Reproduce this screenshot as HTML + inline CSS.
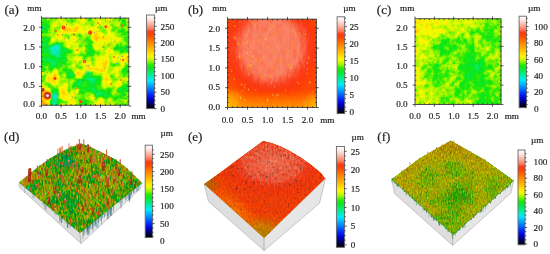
<!DOCTYPE html>
<html><head><meta charset="utf-8"><style>
html,body{margin:0;padding:0;background:#fff;}
body{width:550px;height:254px;overflow:hidden;}
svg{display:block;}
</style></head><body>
<svg width="550" height="254" viewBox="0 0 550 254">
<defs><radialGradient id="bdome" cx="271" cy="48" r="56" gradientUnits="userSpaceOnUse"><stop offset="0" stop-color="#dbdbdb"/><stop offset="0.5" stop-color="#dadada"/><stop offset="0.72" stop-color="#d3d3d3" stop-opacity="0.85"/><stop offset="1" stop-color="#cccccc" stop-opacity="0"/></radialGradient>
<linearGradient id="bbot" x1="0" y1="90" x2="0" y2="108" gradientUnits="userSpaceOnUse"><stop offset="0" stop-color="#b2b2b2" stop-opacity="0"/><stop offset="1" stop-color="#b0b0b0"/></linearGradient>
<radialGradient id="bcorn"><stop offset="0" stop-color="#9e9e9e" stop-opacity="0.95"/><stop offset="0.5" stop-color="#a6a6a6" stop-opacity="0.6"/><stop offset="1" stop-color="#adadad" stop-opacity="0"/></radialGradient>
<radialGradient id="eS"><stop offset="0.00" stop-color="#d9d9d9" stop-opacity="1.00"/><stop offset="0.50" stop-color="#d7d7d7" stop-opacity="0.85"/><stop offset="1.00" stop-color="#cccccc" stop-opacity="0.00"/></radialGradient>
<radialGradient id="eF"><stop offset="0.00" stop-color="#a1a1a1" stop-opacity="1.00"/><stop offset="0.45" stop-color="#ababab" stop-opacity="0.80"/><stop offset="1.00" stop-color="#bdbdbd" stop-opacity="0.00"/></radialGradient>
<radialGradient id="eL"><stop offset="0.00" stop-color="#b0b0b0" stop-opacity="1.00"/><stop offset="1.00" stop-color="#bdbdbd" stop-opacity="0.00"/></radialGradient>
<radialGradient id="eDark"><stop offset="0" stop-color="#302000" stop-opacity="0.35"/><stop offset="1" stop-color="#302000" stop-opacity="0"/></radialGradient>
<radialGradient id="eM"><stop offset="0.00" stop-color="#b8b8b8" stop-opacity="1.00"/><stop offset="0.60" stop-color="#bdbdbd" stop-opacity="0.60"/><stop offset="1.00" stop-color="#c7c7c7" stop-opacity="0.00"/></radialGradient>
<linearGradient id="cbg" x1="0" y1="0" x2="0" y2="1"><stop offset="0.000" stop-color="#ffffff"/><stop offset="0.025" stop-color="#fff2f1"/><stop offset="0.050" stop-color="#fee1dc"/><stop offset="0.075" stop-color="#fcc8bf"/><stop offset="0.100" stop-color="#fbaf9b"/><stop offset="0.125" stop-color="#fa9577"/><stop offset="0.150" stop-color="#fa785a"/><stop offset="0.175" stop-color="#fa3e1c"/><stop offset="0.200" stop-color="#fc3e09"/><stop offset="0.225" stop-color="#fe4d02"/><stop offset="0.250" stop-color="#ff6100"/><stop offset="0.275" stop-color="#ff7700"/><stop offset="0.300" stop-color="#ff8c00"/><stop offset="0.325" stop-color="#ff9f00"/><stop offset="0.350" stop-color="#ffb100"/><stop offset="0.375" stop-color="#ffc400"/><stop offset="0.400" stop-color="#ffd900"/><stop offset="0.425" stop-color="#ffee00"/><stop offset="0.450" stop-color="#eef900"/><stop offset="0.475" stop-color="#c2f800"/><stop offset="0.500" stop-color="#8cf500"/><stop offset="0.525" stop-color="#39ed08"/><stop offset="0.550" stop-color="#14e811"/><stop offset="0.575" stop-color="#08e82c"/><stop offset="0.600" stop-color="#05eb55"/><stop offset="0.625" stop-color="#02ee7e"/><stop offset="0.650" stop-color="#00efa8"/><stop offset="0.675" stop-color="#00edd3"/><stop offset="0.700" stop-color="#00ebff"/><stop offset="0.725" stop-color="#00ccff"/><stop offset="0.750" stop-color="#00acff"/><stop offset="0.775" stop-color="#008dff"/><stop offset="0.800" stop-color="#006cff"/><stop offset="0.825" stop-color="#004aff"/><stop offset="0.850" stop-color="#0028ff"/><stop offset="0.875" stop-color="#0014e8"/><stop offset="0.900" stop-color="#0000d2"/><stop offset="0.925" stop-color="#000098"/><stop offset="0.950" stop-color="#00005d"/><stop offset="0.975" stop-color="#00002c"/><stop offset="1.000" stop-color="#000000"/></linearGradient>
<filter id="blur05" x="-10%" y="-10%" width="120%" height="120%"><feGaussianBlur stdDeviation="0.5"/></filter>
<filter id="blur15" x="-30%" y="-30%" width="160%" height="160%"><feGaussianBlur stdDeviation="1.2"/></filter>
<clipPath id="ca"><rect x="41.40" y="18.00" width="87.40" height="87.30"/></clipPath>
<filter id="gba" filterUnits="userSpaceOnUse" x="27.40" y="4.00" width="115.40" height="115.30"><feGaussianBlur stdDeviation="2.20"/></filter>
<filter id="fa" filterUnits="userSpaceOnUse" x="29.40" y="6.00" width="111.40" height="111.30" color-interpolation-filters="sRGB">
<feTurbulence type="fractalNoise" baseFrequency="0.12" numOctaves="3" seed="11" result="n"/>
<feColorMatrix in="n" type="matrix" values="1 0 0 0 0 1 0 0 0 0 1 0 0 0 0 0 0 0 0 1" result="ng"/>
<feComposite in="SourceGraphic" in2="ng" operator="arithmetic" k2="1" k3="0.240" k4="-0.120" result="h"/>
<feComponentTransfer in="h"><feFuncR type="table" tableValues="0.000 0.000 0.000 0.000 0.000 0.000 0.000 0.000 0.000 0.000 0.000 0.000 0.000 0.000 0.000 0.000 0.000 0.000 0.000 0.000 0.000 0.000 0.000 0.002 0.010 0.018 0.026 0.034 0.057 0.119 0.238 0.445 0.616 0.751 0.867 0.971 1.000 1.000 1.000 1.000 1.000 1.000 1.000 1.000 1.000 1.000 1.000 1.000 1.000 0.997 0.991 0.985 0.980 0.980 0.980 0.980 0.982 0.985 0.988 0.993 0.998 1.000 1.000 1.000"/><feFuncG type="table" tableValues="0.000 0.000 0.000 0.000 0.000 0.000 0.000 0.035 0.085 0.134 0.203 0.288 0.372 0.457 0.540 0.618 0.696 0.774 0.852 0.922 0.927 0.932 0.938 0.939 0.931 0.923 0.915 0.908 0.905 0.915 0.930 0.950 0.964 0.970 0.975 0.979 0.943 0.891 0.839 0.787 0.740 0.694 0.647 0.600 0.554 0.501 0.448 0.394 0.341 0.295 0.258 0.221 0.245 0.391 0.503 0.576 0.643 0.705 0.767 0.829 0.892 0.938 0.969 1.000"/><feFuncB type="table" tableValues="0.000 0.109 0.218 0.344 0.489 0.635 0.780 0.863 0.919 0.975 1.000 1.000 1.000 1.000 1.000 1.000 1.000 1.000 1.000 0.989 0.880 0.771 0.662 0.556 0.455 0.354 0.252 0.151 0.073 0.052 0.031 0.010 0.000 0.000 0.000 0.000 0.000 0.000 0.000 0.000 0.000 0.000 0.000 0.000 0.000 0.000 0.000 0.000 0.000 0.009 0.028 0.046 0.112 0.267 0.386 0.458 0.542 0.636 0.728 0.802 0.875 0.928 0.964 1.000"/></feComponentTransfer>
</filter>
<clipPath id="cb"><rect x="227.50" y="19.10" width="88.90" height="88.40"/></clipPath>
<filter id="gbb" filterUnits="userSpaceOnUse" x="213.50" y="5.10" width="116.90" height="116.40"><feGaussianBlur stdDeviation="2.50"/></filter>
<filter id="fb" filterUnits="userSpaceOnUse" x="215.50" y="7.10" width="112.90" height="112.40" color-interpolation-filters="sRGB">
<feTurbulence type="fractalNoise" baseFrequency="0.3 0.12" numOctaves="2" seed="5" result="n"/>
<feColorMatrix in="n" type="matrix" values="1 0 0 0 0 1 0 0 0 0 1 0 0 0 0 0 0 0 0 1" result="ng"/>
<feComposite in="SourceGraphic" in2="ng" operator="arithmetic" k2="1" k3="0.025" k4="-0.013" result="h"/>
<feComponentTransfer in="h"><feFuncR type="table" tableValues="0.000 0.000 0.000 0.000 0.000 0.000 0.000 0.000 0.000 0.000 0.000 0.000 0.000 0.000 0.000 0.000 0.000 0.000 0.000 0.000 0.000 0.000 0.000 0.002 0.010 0.018 0.026 0.034 0.057 0.119 0.238 0.445 0.616 0.751 0.867 0.971 1.000 1.000 1.000 1.000 1.000 1.000 1.000 1.000 1.000 1.000 1.000 1.000 1.000 0.997 0.991 0.985 0.980 0.980 0.980 0.980 0.982 0.985 0.988 0.993 0.998 1.000 1.000 1.000"/><feFuncG type="table" tableValues="0.000 0.000 0.000 0.000 0.000 0.000 0.000 0.035 0.085 0.134 0.203 0.288 0.372 0.457 0.540 0.618 0.696 0.774 0.852 0.922 0.927 0.932 0.938 0.939 0.931 0.923 0.915 0.908 0.905 0.915 0.930 0.950 0.964 0.970 0.975 0.979 0.943 0.891 0.839 0.787 0.740 0.694 0.647 0.600 0.554 0.501 0.448 0.394 0.341 0.295 0.258 0.221 0.245 0.391 0.503 0.576 0.643 0.705 0.767 0.829 0.892 0.938 0.969 1.000"/><feFuncB type="table" tableValues="0.000 0.109 0.218 0.344 0.489 0.635 0.780 0.863 0.919 0.975 1.000 1.000 1.000 1.000 1.000 1.000 1.000 1.000 1.000 0.989 0.880 0.771 0.662 0.556 0.455 0.354 0.252 0.151 0.073 0.052 0.031 0.010 0.000 0.000 0.000 0.000 0.000 0.000 0.000 0.000 0.000 0.000 0.000 0.000 0.000 0.000 0.000 0.000 0.000 0.009 0.028 0.046 0.112 0.267 0.386 0.458 0.542 0.636 0.728 0.802 0.875 0.928 0.964 1.000"/></feComponentTransfer>
</filter>
<clipPath id="cc"><rect x="415.00" y="18.70" width="86.10" height="85.80"/></clipPath>
<filter id="gbc" filterUnits="userSpaceOnUse" x="401.00" y="4.70" width="114.10" height="113.80"><feGaussianBlur stdDeviation="2.20"/></filter>
<filter id="fc" filterUnits="userSpaceOnUse" x="403.00" y="6.70" width="110.10" height="109.80" color-interpolation-filters="sRGB">
<feTurbulence type="fractalNoise" baseFrequency="0.2" numOctaves="3" seed="9" result="n"/>
<feColorMatrix in="n" type="matrix" values="1 0 0 0 0 1 0 0 0 0 1 0 0 0 0 0 0 0 0 1" result="ng"/>
<feComposite in="SourceGraphic" in2="ng" operator="arithmetic" k2="1" k3="0.140" k4="-0.070" result="h"/>
<feComponentTransfer in="h"><feFuncR type="table" tableValues="0.000 0.000 0.000 0.000 0.000 0.000 0.000 0.000 0.000 0.000 0.000 0.000 0.000 0.000 0.000 0.000 0.000 0.000 0.000 0.000 0.000 0.000 0.000 0.002 0.010 0.018 0.026 0.034 0.057 0.119 0.238 0.445 0.616 0.751 0.867 0.971 1.000 1.000 1.000 1.000 1.000 1.000 1.000 1.000 1.000 1.000 1.000 1.000 1.000 0.997 0.991 0.985 0.980 0.980 0.980 0.980 0.982 0.985 0.988 0.993 0.998 1.000 1.000 1.000"/><feFuncG type="table" tableValues="0.000 0.000 0.000 0.000 0.000 0.000 0.000 0.035 0.085 0.134 0.203 0.288 0.372 0.457 0.540 0.618 0.696 0.774 0.852 0.922 0.927 0.932 0.938 0.939 0.931 0.923 0.915 0.908 0.905 0.915 0.930 0.950 0.964 0.970 0.975 0.979 0.943 0.891 0.839 0.787 0.740 0.694 0.647 0.600 0.554 0.501 0.448 0.394 0.341 0.295 0.258 0.221 0.245 0.391 0.503 0.576 0.643 0.705 0.767 0.829 0.892 0.938 0.969 1.000"/><feFuncB type="table" tableValues="0.000 0.109 0.218 0.344 0.489 0.635 0.780 0.863 0.919 0.975 1.000 1.000 1.000 1.000 1.000 1.000 1.000 1.000 1.000 0.989 0.880 0.771 0.662 0.556 0.455 0.354 0.252 0.151 0.073 0.052 0.031 0.010 0.000 0.000 0.000 0.000 0.000 0.000 0.000 0.000 0.000 0.000 0.000 0.000 0.000 0.000 0.000 0.000 0.000 0.009 0.028 0.046 0.112 0.267 0.386 0.458 0.542 0.636 0.728 0.802 0.875 0.928 0.964 1.000"/></feComponentTransfer>
</filter>
<clipPath id="c3d"><polygon points="19.0,182.5 30.0,173.5 40.0,165.5 50.0,158.4 60.0,152.6 70.0,147.6 81.5,143.4 92.0,147.8 104.0,153.5 115.0,159.2 125.0,166.5 134.0,175.0 142.0,183.0 80.0,233.0"/></clipPath>
<filter id="f3d" filterUnits="userSpaceOnUse" x="15.0" y="139.4" width="131.0" height="97.6" color-interpolation-filters="sRGB">
<feTurbulence type="fractalNoise" baseFrequency="0.6 0.25" numOctaves="2" seed="21" result="n"/>
<feColorMatrix in="n" type="matrix" values="1 0 0 0 0 1 0 0 0 0 1 0 0 0 0 0 0 0 0 1" result="ng"/>
<feComposite in="SourceGraphic" in2="ng" operator="arithmetic" k2="0.750" k3="0.350" k4="-0.055" result="h"/>
<feComponentTransfer in="h" result="c"><feFuncR type="table" tableValues="0.000 0.000 0.000 0.000 0.000 0.000 0.000 0.000 0.000 0.000 0.000 0.000 0.000 0.000 0.000 0.000 0.000 0.000 0.000 0.000 0.000 0.000 0.000 0.002 0.010 0.018 0.026 0.034 0.057 0.119 0.238 0.445 0.616 0.751 0.867 0.971 1.000 1.000 1.000 1.000 1.000 1.000 1.000 1.000 1.000 1.000 1.000 1.000 1.000 0.997 0.991 0.985 0.980 0.980 0.980 0.980 0.982 0.985 0.988 0.993 0.998 1.000 1.000 1.000"/><feFuncG type="table" tableValues="0.000 0.000 0.000 0.000 0.000 0.000 0.000 0.035 0.085 0.134 0.203 0.288 0.372 0.457 0.540 0.618 0.696 0.774 0.852 0.922 0.927 0.932 0.938 0.939 0.931 0.923 0.915 0.908 0.905 0.915 0.930 0.950 0.964 0.970 0.975 0.979 0.943 0.891 0.839 0.787 0.740 0.694 0.647 0.600 0.554 0.501 0.448 0.394 0.341 0.295 0.258 0.221 0.245 0.391 0.503 0.576 0.643 0.705 0.767 0.829 0.892 0.938 0.969 1.000"/><feFuncB type="table" tableValues="0.000 0.109 0.218 0.344 0.489 0.635 0.780 0.863 0.919 0.975 1.000 1.000 1.000 1.000 1.000 1.000 1.000 1.000 1.000 0.989 0.880 0.771 0.662 0.556 0.455 0.354 0.252 0.151 0.073 0.052 0.031 0.010 0.000 0.000 0.000 0.000 0.000 0.000 0.000 0.000 0.000 0.000 0.000 0.000 0.000 0.000 0.000 0.000 0.000 0.009 0.028 0.046 0.112 0.267 0.386 0.458 0.542 0.636 0.728 0.802 0.875 0.928 0.964 1.000"/></feComponentTransfer>
<feTurbulence type="fractalNoise" baseFrequency="0.6 0.2" numOctaves="2" seed="22" result="s"/>
<feColorMatrix in="s" type="matrix" values="1 0 0 0 0 1 0 0 0 0 1 0 0 0 0 0 0 0 0 1" result="sg0"/>
<feComponentTransfer in="sg0" result="sg"><feFuncR type="table" tableValues="0.38 0.46 0.55 0.63 0.7 0.78 0.86 0.94"/><feFuncG type="table" tableValues="0.38 0.46 0.55 0.63 0.7 0.78 0.86 0.94"/><feFuncB type="table" tableValues="0.38 0.46 0.55 0.63 0.7 0.78 0.86 0.94"/></feComponentTransfer>
<feComposite in="c" in2="sg" operator="arithmetic" k1="1" result="cs"/>
<feComposite in="cs" in2="SourceAlpha" operator="in"/>
</filter>
<clipPath id="c3e"><polygon points="204.1,184.0 263.2,140.8 272.0,143.0 280.5,146.3 291.0,151.5 301.0,157.5 311.0,164.5 321.4,172.9 325.5,178.5 264.1,237.9"/></clipPath>
<filter id="f3e" filterUnits="userSpaceOnUse" x="200.1" y="136.8" width="129.4" height="105.1" color-interpolation-filters="sRGB">
<feTurbulence type="fractalNoise" baseFrequency="0.5 0.3" numOctaves="2" seed="31" result="n"/>
<feColorMatrix in="n" type="matrix" values="1 0 0 0 0 1 0 0 0 0 1 0 0 0 0 0 0 0 0 1" result="ng"/>
<feComposite in="SourceGraphic" in2="ng" operator="arithmetic" k2="1.000" k3="0.050" k4="-0.025" result="h"/>
<feComponentTransfer in="h" result="c"><feFuncR type="table" tableValues="0.000 0.000 0.000 0.000 0.000 0.000 0.000 0.000 0.000 0.000 0.000 0.000 0.000 0.000 0.000 0.000 0.000 0.000 0.000 0.000 0.000 0.000 0.000 0.002 0.010 0.018 0.026 0.034 0.057 0.119 0.238 0.445 0.616 0.751 0.867 0.971 1.000 1.000 1.000 1.000 1.000 1.000 1.000 1.000 1.000 1.000 1.000 1.000 1.000 0.997 0.991 0.985 0.980 0.980 0.980 0.980 0.982 0.985 0.988 0.993 0.998 1.000 1.000 1.000"/><feFuncG type="table" tableValues="0.000 0.000 0.000 0.000 0.000 0.000 0.000 0.035 0.085 0.134 0.203 0.288 0.372 0.457 0.540 0.618 0.696 0.774 0.852 0.922 0.927 0.932 0.938 0.939 0.931 0.923 0.915 0.908 0.905 0.915 0.930 0.950 0.964 0.970 0.975 0.979 0.943 0.891 0.839 0.787 0.740 0.694 0.647 0.600 0.554 0.501 0.448 0.394 0.341 0.295 0.258 0.221 0.245 0.391 0.503 0.576 0.643 0.705 0.767 0.829 0.892 0.938 0.969 1.000"/><feFuncB type="table" tableValues="0.000 0.109 0.218 0.344 0.489 0.635 0.780 0.863 0.919 0.975 1.000 1.000 1.000 1.000 1.000 1.000 1.000 1.000 1.000 0.989 0.880 0.771 0.662 0.556 0.455 0.354 0.252 0.151 0.073 0.052 0.031 0.010 0.000 0.000 0.000 0.000 0.000 0.000 0.000 0.000 0.000 0.000 0.000 0.000 0.000 0.000 0.000 0.000 0.000 0.009 0.028 0.046 0.112 0.267 0.386 0.458 0.542 0.636 0.728 0.802 0.875 0.928 0.964 1.000"/></feComponentTransfer>
<feTurbulence type="fractalNoise" baseFrequency="0.7 0.35" numOctaves="2" seed="32" result="s"/>
<feColorMatrix in="s" type="matrix" values="1 0 0 0 0 1 0 0 0 0 1 0 0 0 0 0 0 0 0 1" result="sg0"/>
<feComponentTransfer in="sg0" result="sg"><feFuncR type="table" tableValues="0.5 0.7 0.84 0.92 0.97 1 1 1"/><feFuncG type="table" tableValues="0.5 0.7 0.84 0.92 0.97 1 1 1"/><feFuncB type="table" tableValues="0.5 0.7 0.84 0.92 0.97 1 1 1"/></feComponentTransfer>
<feComposite in="c" in2="sg" operator="arithmetic" k1="1" result="cs"/>
<feComposite in="cs" in2="SourceAlpha" operator="in"/>
</filter>
<clipPath id="c3f"><polygon points="391.8,179.1 420.0,158.0 450.9,140.5 485.0,160.0 513.6,180.5 453.0,234.5"/></clipPath>
<filter id="f3f" filterUnits="userSpaceOnUse" x="387.8" y="136.5" width="129.8" height="102.0" color-interpolation-filters="sRGB">
<feTurbulence type="fractalNoise" baseFrequency="0.8 0.35" numOctaves="2" seed="41" result="n"/>
<feColorMatrix in="n" type="matrix" values="1 0 0 0 0 1 0 0 0 0 1 0 0 0 0 0 0 0 0 1" result="ng"/>
<feComposite in="SourceGraphic" in2="ng" operator="arithmetic" k2="1.000" k3="0.160" k4="-0.035" result="h"/>
<feComponentTransfer in="h" result="c"><feFuncR type="table" tableValues="0.000 0.000 0.000 0.000 0.000 0.000 0.000 0.000 0.000 0.000 0.000 0.000 0.000 0.000 0.000 0.000 0.000 0.000 0.000 0.000 0.000 0.000 0.000 0.002 0.010 0.018 0.026 0.034 0.057 0.119 0.238 0.445 0.616 0.751 0.867 0.971 1.000 1.000 1.000 1.000 1.000 1.000 1.000 1.000 1.000 1.000 1.000 1.000 1.000 0.997 0.991 0.985 0.980 0.980 0.980 0.980 0.982 0.985 0.988 0.993 0.998 1.000 1.000 1.000"/><feFuncG type="table" tableValues="0.000 0.000 0.000 0.000 0.000 0.000 0.000 0.035 0.085 0.134 0.203 0.288 0.372 0.457 0.540 0.618 0.696 0.774 0.852 0.922 0.927 0.932 0.938 0.939 0.931 0.923 0.915 0.908 0.905 0.915 0.930 0.950 0.964 0.970 0.975 0.979 0.943 0.891 0.839 0.787 0.740 0.694 0.647 0.600 0.554 0.501 0.448 0.394 0.341 0.295 0.258 0.221 0.245 0.391 0.503 0.576 0.643 0.705 0.767 0.829 0.892 0.938 0.969 1.000"/><feFuncB type="table" tableValues="0.000 0.109 0.218 0.344 0.489 0.635 0.780 0.863 0.919 0.975 1.000 1.000 1.000 1.000 1.000 1.000 1.000 1.000 1.000 0.989 0.880 0.771 0.662 0.556 0.455 0.354 0.252 0.151 0.073 0.052 0.031 0.010 0.000 0.000 0.000 0.000 0.000 0.000 0.000 0.000 0.000 0.000 0.000 0.000 0.000 0.000 0.000 0.000 0.000 0.009 0.028 0.046 0.112 0.267 0.386 0.458 0.542 0.636 0.728 0.802 0.875 0.928 0.964 1.000"/></feComponentTransfer>
<feTurbulence type="fractalNoise" baseFrequency="0.8 0.35" numOctaves="2" seed="42" result="s"/>
<feColorMatrix in="s" type="matrix" values="1 0 0 0 0 1 0 0 0 0 1 0 0 0 0 0 0 0 0 1" result="sg0"/>
<feComponentTransfer in="sg0" result="sg"><feFuncR type="table" tableValues="0.45 0.52 0.6 0.66 0.72 0.78 0.84 0.9"/><feFuncG type="table" tableValues="0.45 0.52 0.6 0.66 0.72 0.78 0.84 0.9"/><feFuncB type="table" tableValues="0.45 0.52 0.6 0.66 0.72 0.78 0.84 0.9"/></feComponentTransfer>
<feComposite in="c" in2="sg" operator="arithmetic" k1="1" result="cs"/>
<feComposite in="cs" in2="SourceAlpha" operator="in"/>
</filter></defs>
<g clip-path="url(#ca)"><g filter="url(#fa)"><rect x="27.40" y="4.00" width="115.40" height="115.30" fill="#808080"/><g filter="url(#gba)"><rect x="32.66" y="9.27" width="9.04" height="9.03" fill="#737373"/><rect x="41.40" y="9.27" width="9.04" height="9.03" fill="#737373"/><rect x="50.14" y="9.27" width="9.04" height="9.03" fill="#808080"/><rect x="58.88" y="9.27" width="9.04" height="9.03" fill="#8c8c8c"/><rect x="67.62" y="9.27" width="9.04" height="9.03" fill="#8c8c8c"/><rect x="76.36" y="9.27" width="9.04" height="9.03" fill="#858585"/><rect x="85.10" y="9.27" width="9.04" height="9.03" fill="#787878"/><rect x="93.84" y="9.27" width="9.04" height="9.03" fill="#8c8c8c"/><rect x="102.58" y="9.27" width="9.04" height="9.03" fill="#8c8c8c"/><rect x="111.32" y="9.27" width="9.04" height="9.03" fill="#858585"/><rect x="120.06" y="9.27" width="9.04" height="9.03" fill="#737373"/><rect x="128.80" y="9.27" width="9.04" height="9.03" fill="#737373"/><rect x="32.66" y="18.00" width="9.04" height="9.03" fill="#737373"/><rect x="41.40" y="18.00" width="9.04" height="9.03" fill="#737373"/><rect x="50.14" y="18.00" width="9.04" height="9.03" fill="#808080"/><rect x="58.88" y="18.00" width="9.04" height="9.03" fill="#8c8c8c"/><rect x="67.62" y="18.00" width="9.04" height="9.03" fill="#8c8c8c"/><rect x="76.36" y="18.00" width="9.04" height="9.03" fill="#858585"/><rect x="85.10" y="18.00" width="9.04" height="9.03" fill="#787878"/><rect x="93.84" y="18.00" width="9.04" height="9.03" fill="#8c8c8c"/><rect x="102.58" y="18.00" width="9.04" height="9.03" fill="#8c8c8c"/><rect x="111.32" y="18.00" width="9.04" height="9.03" fill="#858585"/><rect x="120.06" y="18.00" width="9.04" height="9.03" fill="#737373"/><rect x="128.80" y="18.00" width="9.04" height="9.03" fill="#737373"/><rect x="32.66" y="26.73" width="9.04" height="9.03" fill="#737373"/><rect x="41.40" y="26.73" width="9.04" height="9.03" fill="#737373"/><rect x="50.14" y="26.73" width="9.04" height="9.03" fill="#8c8c8c"/><rect x="58.88" y="26.73" width="9.04" height="9.03" fill="#8f8f8f"/><rect x="67.62" y="26.73" width="9.04" height="9.03" fill="#8c8c8c"/><rect x="76.36" y="26.73" width="9.04" height="9.03" fill="#8f8f8f"/><rect x="85.10" y="26.73" width="9.04" height="9.03" fill="#8f8f8f"/><rect x="93.84" y="26.73" width="9.04" height="9.03" fill="#8c8c8c"/><rect x="102.58" y="26.73" width="9.04" height="9.03" fill="#8c8c8c"/><rect x="111.32" y="26.73" width="9.04" height="9.03" fill="#808080"/><rect x="120.06" y="26.73" width="9.04" height="9.03" fill="#737373"/><rect x="128.80" y="26.73" width="9.04" height="9.03" fill="#737373"/><rect x="32.66" y="35.46" width="9.04" height="9.03" fill="#737373"/><rect x="41.40" y="35.46" width="9.04" height="9.03" fill="#737373"/><rect x="50.14" y="35.46" width="9.04" height="9.03" fill="#808080"/><rect x="58.88" y="35.46" width="9.04" height="9.03" fill="#8f8f8f"/><rect x="67.62" y="35.46" width="9.04" height="9.03" fill="#8f8f8f"/><rect x="76.36" y="35.46" width="9.04" height="9.03" fill="#808080"/><rect x="85.10" y="35.46" width="9.04" height="9.03" fill="#737373"/><rect x="93.84" y="35.46" width="9.04" height="9.03" fill="#8f8f8f"/><rect x="102.58" y="35.46" width="9.04" height="9.03" fill="#8f8f8f"/><rect x="111.32" y="35.46" width="9.04" height="9.03" fill="#8c8c8c"/><rect x="120.06" y="35.46" width="9.04" height="9.03" fill="#808080"/><rect x="128.80" y="35.46" width="9.04" height="9.03" fill="#808080"/><rect x="32.66" y="44.19" width="9.04" height="9.03" fill="#707070"/><rect x="41.40" y="44.19" width="9.04" height="9.03" fill="#707070"/><rect x="50.14" y="44.19" width="9.04" height="9.03" fill="#575757"/><rect x="58.88" y="44.19" width="9.04" height="9.03" fill="#616161"/><rect x="67.62" y="44.19" width="9.04" height="9.03" fill="#8c8c8c"/><rect x="76.36" y="44.19" width="9.04" height="9.03" fill="#8c8c8c"/><rect x="85.10" y="44.19" width="9.04" height="9.03" fill="#707070"/><rect x="93.84" y="44.19" width="9.04" height="9.03" fill="#858585"/><rect x="102.58" y="44.19" width="9.04" height="9.03" fill="#919191"/><rect x="111.32" y="44.19" width="9.04" height="9.03" fill="#737373"/><rect x="120.06" y="44.19" width="9.04" height="9.03" fill="#737373"/><rect x="128.80" y="44.19" width="9.04" height="9.03" fill="#737373"/><rect x="32.66" y="52.92" width="9.04" height="9.03" fill="#737373"/><rect x="41.40" y="52.92" width="9.04" height="9.03" fill="#737373"/><rect x="50.14" y="52.92" width="9.04" height="9.03" fill="#5e5e5e"/><rect x="58.88" y="52.92" width="9.04" height="9.03" fill="#707070"/><rect x="67.62" y="52.92" width="9.04" height="9.03" fill="#8c8c8c"/><rect x="76.36" y="52.92" width="9.04" height="9.03" fill="#808080"/><rect x="85.10" y="52.92" width="9.04" height="9.03" fill="#7a7a7a"/><rect x="93.84" y="52.92" width="9.04" height="9.03" fill="#8c8c8c"/><rect x="102.58" y="52.92" width="9.04" height="9.03" fill="#8c8c8c"/><rect x="111.32" y="52.92" width="9.04" height="9.03" fill="#919191"/><rect x="120.06" y="52.92" width="9.04" height="9.03" fill="#949494"/><rect x="128.80" y="52.92" width="9.04" height="9.03" fill="#949494"/><rect x="32.66" y="61.65" width="9.04" height="9.03" fill="#737373"/><rect x="41.40" y="61.65" width="9.04" height="9.03" fill="#737373"/><rect x="50.14" y="61.65" width="9.04" height="9.03" fill="#737373"/><rect x="58.88" y="61.65" width="9.04" height="9.03" fill="#737373"/><rect x="67.62" y="61.65" width="9.04" height="9.03" fill="#8a8a8a"/><rect x="76.36" y="61.65" width="9.04" height="9.03" fill="#858585"/><rect x="85.10" y="61.65" width="9.04" height="9.03" fill="#8c8c8c"/><rect x="93.84" y="61.65" width="9.04" height="9.03" fill="#919191"/><rect x="102.58" y="61.65" width="9.04" height="9.03" fill="#8c8c8c"/><rect x="111.32" y="61.65" width="9.04" height="9.03" fill="#808080"/><rect x="120.06" y="61.65" width="9.04" height="9.03" fill="#808080"/><rect x="128.80" y="61.65" width="9.04" height="9.03" fill="#808080"/><rect x="32.66" y="70.38" width="9.04" height="9.03" fill="#8c8c8c"/><rect x="41.40" y="70.38" width="9.04" height="9.03" fill="#8c8c8c"/><rect x="50.14" y="70.38" width="9.04" height="9.03" fill="#8c8c8c"/><rect x="58.88" y="70.38" width="9.04" height="9.03" fill="#808080"/><rect x="67.62" y="70.38" width="9.04" height="9.03" fill="#737373"/><rect x="76.36" y="70.38" width="9.04" height="9.03" fill="#8c8c8c"/><rect x="85.10" y="70.38" width="9.04" height="9.03" fill="#737373"/><rect x="93.84" y="70.38" width="9.04" height="9.03" fill="#808080"/><rect x="102.58" y="70.38" width="9.04" height="9.03" fill="#8c8c8c"/><rect x="111.32" y="70.38" width="9.04" height="9.03" fill="#8c8c8c"/><rect x="120.06" y="70.38" width="9.04" height="9.03" fill="#757575"/><rect x="128.80" y="70.38" width="9.04" height="9.03" fill="#757575"/><rect x="32.66" y="79.11" width="9.04" height="9.03" fill="#858585"/><rect x="41.40" y="79.11" width="9.04" height="9.03" fill="#858585"/><rect x="50.14" y="79.11" width="9.04" height="9.03" fill="#8c8c8c"/><rect x="58.88" y="79.11" width="9.04" height="9.03" fill="#8c8c8c"/><rect x="67.62" y="79.11" width="9.04" height="9.03" fill="#737373"/><rect x="76.36" y="79.11" width="9.04" height="9.03" fill="#737373"/><rect x="85.10" y="79.11" width="9.04" height="9.03" fill="#696969"/><rect x="93.84" y="79.11" width="9.04" height="9.03" fill="#707070"/><rect x="102.58" y="79.11" width="9.04" height="9.03" fill="#8c8c8c"/><rect x="111.32" y="79.11" width="9.04" height="9.03" fill="#8c8c8c"/><rect x="120.06" y="79.11" width="9.04" height="9.03" fill="#808080"/><rect x="128.80" y="79.11" width="9.04" height="9.03" fill="#808080"/><rect x="32.66" y="87.84" width="9.04" height="9.03" fill="#a3a3a3"/><rect x="41.40" y="87.84" width="9.04" height="9.03" fill="#a3a3a3"/><rect x="50.14" y="87.84" width="9.04" height="9.03" fill="#666666"/><rect x="58.88" y="87.84" width="9.04" height="9.03" fill="#8c8c8c"/><rect x="67.62" y="87.84" width="9.04" height="9.03" fill="#919191"/><rect x="76.36" y="87.84" width="9.04" height="9.03" fill="#737373"/><rect x="85.10" y="87.84" width="9.04" height="9.03" fill="#737373"/><rect x="93.84" y="87.84" width="9.04" height="9.03" fill="#696969"/><rect x="102.58" y="87.84" width="9.04" height="9.03" fill="#737373"/><rect x="111.32" y="87.84" width="9.04" height="9.03" fill="#808080"/><rect x="120.06" y="87.84" width="9.04" height="9.03" fill="#737373"/><rect x="128.80" y="87.84" width="9.04" height="9.03" fill="#737373"/><rect x="32.66" y="96.57" width="9.04" height="9.03" fill="#a3a3a3"/><rect x="41.40" y="96.57" width="9.04" height="9.03" fill="#a3a3a3"/><rect x="50.14" y="96.57" width="9.04" height="9.03" fill="#616161"/><rect x="58.88" y="96.57" width="9.04" height="9.03" fill="#8c8c8c"/><rect x="67.62" y="96.57" width="9.04" height="9.03" fill="#8c8c8c"/><rect x="76.36" y="96.57" width="9.04" height="9.03" fill="#737373"/><rect x="85.10" y="96.57" width="9.04" height="9.03" fill="#8a8a8a"/><rect x="93.84" y="96.57" width="9.04" height="9.03" fill="#8c8c8c"/><rect x="102.58" y="96.57" width="9.04" height="9.03" fill="#858585"/><rect x="111.32" y="96.57" width="9.04" height="9.03" fill="#737373"/><rect x="120.06" y="96.57" width="9.04" height="9.03" fill="#808080"/><rect x="128.80" y="96.57" width="9.04" height="9.03" fill="#808080"/><rect x="32.66" y="105.30" width="9.04" height="9.03" fill="#a3a3a3"/><rect x="41.40" y="105.30" width="9.04" height="9.03" fill="#a3a3a3"/><rect x="50.14" y="105.30" width="9.04" height="9.03" fill="#616161"/><rect x="58.88" y="105.30" width="9.04" height="9.03" fill="#8c8c8c"/><rect x="67.62" y="105.30" width="9.04" height="9.03" fill="#8c8c8c"/><rect x="76.36" y="105.30" width="9.04" height="9.03" fill="#737373"/><rect x="85.10" y="105.30" width="9.04" height="9.03" fill="#8a8a8a"/><rect x="93.84" y="105.30" width="9.04" height="9.03" fill="#8c8c8c"/><rect x="102.58" y="105.30" width="9.04" height="9.03" fill="#858585"/><rect x="111.32" y="105.30" width="9.04" height="9.03" fill="#737373"/><rect x="120.06" y="105.30" width="9.04" height="9.03" fill="#808080"/><rect x="128.80" y="105.30" width="9.04" height="9.03" fill="#808080"/></g></g></g>
<g clip-path="url(#ca)" filter="url(#blur15)">
<ellipse cx="54.5" cy="96.5" rx="3.6" ry="3.0" fill="#10e0c8" opacity="1.00"/>
<ellipse cx="55.0" cy="50.0" rx="5.5" ry="5.5" fill="#10e8d8" opacity="0.55"/>
<ellipse cx="88.0" cy="73.0" rx="3.0" ry="2.5" fill="#10e0b0" opacity="0.50"/>
</g>
<g clip-path="url(#ca)" filter="url(#blur05)">
<circle cx="63.5" cy="27.5" r="1.9" fill="#ff3010"/>
<circle cx="63.5" cy="27.0" r="0.6" fill="#ff9070"/>
<circle cx="90.2" cy="32.7" r="2.1" fill="#ff3a10"/>
<circle cx="105.8" cy="26.7" r="1.4" fill="#ff4010"/>
<circle cx="55.7" cy="31.0" r="1.2" fill="#ff7000"/>
<circle cx="74.0" cy="34.5" r="1.1" fill="#ff6000"/>
<circle cx="77.4" cy="50.0" r="1.1" fill="#ff8000"/>
<circle cx="122.0" cy="25.8" r="1.2" fill="#ff6010"/>
<circle cx="98.0" cy="23.0" r="1.0" fill="#ff8010"/>
<circle cx="108.0" cy="45.0" r="1.0" fill="#ff9010"/>
<circle cx="123.0" cy="60.0" r="1.2" fill="#ff7010"/>
<circle cx="114.0" cy="57.0" r="1.0" fill="#ff8010"/>
<circle cx="111.0" cy="84.0" r="1.0" fill="#ff7010"/>
<circle cx="121.0" cy="80.0" r="1.1" fill="#ff7010"/>
<circle cx="47.5" cy="95.6" r="4.2" fill="#ff5a10"/>
<circle cx="47.5" cy="95.6" r="3.0" fill="#a82a22"/>
<circle cx="47.5" cy="95.6" r="1.7" fill="#e8c8cc"/>
<circle cx="43.0" cy="89.7" r="1.6" fill="#b03020"/>
<circle cx="55.0" cy="78.5" r="1.4" fill="#ff3010"/>
<circle cx="84.5" cy="61.4" r="1.7" fill="#ff3010"/>
<circle cx="84.5" cy="61.4" r="0.6" fill="#f0b0b0"/>
<circle cx="81.0" cy="101.7" r="1.6" fill="#ff4010"/>
<circle cx="76.0" cy="88.5" r="1.0" fill="#ff8010"/>
</g>
<g clip-path="url(#ca)"><circle cx="62.5" cy="65.3" r="0.55" fill="#1040c0" opacity="0.7"/><circle cx="120.8" cy="59.3" r="0.55" fill="#2060ff" opacity="0.7"/><circle cx="94.1" cy="96.2" r="0.55" fill="#606060" opacity="0.7"/><circle cx="64.3" cy="38.9" r="0.55" fill="#606060" opacity="0.7"/><circle cx="88.5" cy="65.7" r="0.55" fill="#606060" opacity="0.7"/><circle cx="97.0" cy="31.8" r="0.55" fill="#3080e0" opacity="0.7"/><circle cx="116.7" cy="63.5" r="0.55" fill="#2060ff" opacity="0.7"/><circle cx="99.7" cy="24.4" r="0.55" fill="#2060ff" opacity="0.7"/><circle cx="67.9" cy="21.6" r="0.55" fill="#1040c0" opacity="0.7"/><circle cx="82.7" cy="80.1" r="0.55" fill="#606060" opacity="0.7"/><circle cx="103.4" cy="97.3" r="0.55" fill="#606060" opacity="0.7"/><circle cx="104.6" cy="68.0" r="0.55" fill="#3080e0" opacity="0.7"/><circle cx="117.6" cy="27.3" r="0.55" fill="#3080e0" opacity="0.7"/><circle cx="84.6" cy="40.9" r="0.55" fill="#606060" opacity="0.7"/><circle cx="109.0" cy="91.7" r="0.55" fill="#606060" opacity="0.7"/><circle cx="85.6" cy="51.8" r="0.55" fill="#1040c0" opacity="0.7"/><circle cx="87.9" cy="53.6" r="0.55" fill="#3080e0" opacity="0.7"/><circle cx="119.8" cy="77.0" r="0.55" fill="#2060ff" opacity="0.7"/><circle cx="115.7" cy="103.2" r="0.55" fill="#3080e0" opacity="0.7"/><circle cx="102.1" cy="46.7" r="0.55" fill="#2060ff" opacity="0.7"/><circle cx="103.4" cy="36.9" r="0.55" fill="#1040c0" opacity="0.7"/><circle cx="66.5" cy="24.4" r="0.55" fill="#606060" opacity="0.7"/><circle cx="49.6" cy="87.1" r="0.55" fill="#606060" opacity="0.7"/><circle cx="119.2" cy="20.7" r="0.55" fill="#606060" opacity="0.7"/><circle cx="108.1" cy="93.2" r="0.55" fill="#2060ff" opacity="0.7"/><circle cx="94.0" cy="83.7" r="0.55" fill="#606060" opacity="0.7"/><circle cx="103.8" cy="47.1" r="0.55" fill="#1040c0" opacity="0.7"/><circle cx="85.5" cy="103.9" r="0.55" fill="#1040c0" opacity="0.7"/><circle cx="42.6" cy="28.2" r="0.55" fill="#2060ff" opacity="0.7"/><circle cx="123.6" cy="101.6" r="0.55" fill="#1040c0" opacity="0.7"/><circle cx="94.5" cy="32.3" r="0.55" fill="#2060ff" opacity="0.7"/><circle cx="126.3" cy="47.9" r="0.55" fill="#1040c0" opacity="0.7"/><circle cx="124.4" cy="95.2" r="0.55" fill="#606060" opacity="0.7"/><circle cx="74.4" cy="92.9" r="0.55" fill="#606060" opacity="0.7"/><circle cx="97.4" cy="69.6" r="0.55" fill="#2060ff" opacity="0.7"/><circle cx="95.3" cy="99.0" r="0.55" fill="#1040c0" opacity="0.7"/><circle cx="79.1" cy="80.2" r="0.55" fill="#3080e0" opacity="0.7"/><circle cx="122.5" cy="56.2" r="0.55" fill="#1040c0" opacity="0.7"/><circle cx="86.8" cy="65.6" r="0.55" fill="#2060ff" opacity="0.7"/><circle cx="109.8" cy="102.9" r="0.55" fill="#1040c0" opacity="0.7"/><circle cx="43.7" cy="71.3" r="0.55" fill="#3080e0" opacity="0.7"/><circle cx="47.2" cy="72.3" r="0.55" fill="#606060" opacity="0.7"/><circle cx="72.4" cy="97.0" r="0.55" fill="#1040c0" opacity="0.7"/><circle cx="105.5" cy="20.9" r="0.55" fill="#2060ff" opacity="0.7"/><circle cx="124.1" cy="20.8" r="0.55" fill="#1040c0" opacity="0.7"/><circle cx="63.6" cy="57.8" r="0.55" fill="#1040c0" opacity="0.7"/><circle cx="57.3" cy="34.7" r="0.55" fill="#1040c0" opacity="0.7"/><circle cx="114.6" cy="41.5" r="0.55" fill="#606060" opacity="0.7"/><circle cx="51.0" cy="88.1" r="0.55" fill="#3080e0" opacity="0.7"/><circle cx="68.7" cy="37.9" r="0.55" fill="#1040c0" opacity="0.7"/><circle cx="62.5" cy="34.9" r="0.55" fill="#606060" opacity="0.7"/><circle cx="97.9" cy="27.2" r="0.55" fill="#1040c0" opacity="0.7"/><circle cx="123.6" cy="76.4" r="0.55" fill="#3080e0" opacity="0.7"/><circle cx="79.7" cy="91.7" r="0.55" fill="#3080e0" opacity="0.7"/><circle cx="48.9" cy="82.1" r="0.55" fill="#3080e0" opacity="0.7"/><circle cx="118.1" cy="57.3" r="0.55" fill="#3080e0" opacity="0.7"/><circle cx="109.7" cy="21.9" r="0.55" fill="#3080e0" opacity="0.7"/><circle cx="69.1" cy="90.1" r="0.55" fill="#3080e0" opacity="0.7"/><circle cx="116.3" cy="47.9" r="0.55" fill="#2060ff" opacity="0.7"/><circle cx="111.3" cy="48.3" r="0.55" fill="#3080e0" opacity="0.7"/></g>
<rect x="41.40" y="18.00" width="87.40" height="87.30" fill="none" stroke="#444" stroke-width="0.9"/>
<path d="M41.40 105.30v2.2M41.40 18.00v-2.2M61.10 105.30v2.2M61.10 18.00v-2.2M80.80 105.30v2.2M80.80 18.00v-2.2M100.50 105.30v2.2M100.50 18.00v-2.2M120.20 105.30v2.2M120.20 18.00v-2.2M41.40 106.10h-2.4M128.80 106.10h2.4M41.40 86.40h-2.4M128.80 86.40h2.4M41.40 66.70h-2.4M128.80 66.70h2.4M41.40 47.00h-2.4M128.80 47.00h2.4M41.40 27.30h-2.4M128.80 27.30h2.4" stroke="#333" stroke-width="0.8" fill="none"/>
<path d="M46.32 18.00v1.2M46.32 105.30v-1.2M51.25 18.00v1.2M51.25 105.30v-1.2M56.17 18.00v1.2M56.17 105.30v-1.2M61.10 18.00v1.2M61.10 105.30v-1.2M66.02 18.00v1.2M66.02 105.30v-1.2M70.95 18.00v1.2M70.95 105.30v-1.2M75.87 18.00v1.2M75.87 105.30v-1.2M80.80 18.00v1.2M80.80 105.30v-1.2M85.72 18.00v1.2M85.72 105.30v-1.2M90.65 18.00v1.2M90.65 105.30v-1.2M95.57 18.00v1.2M95.57 105.30v-1.2M100.50 18.00v1.2M100.50 105.30v-1.2M105.42 18.00v1.2M105.42 105.30v-1.2M110.35 18.00v1.2M110.35 105.30v-1.2M115.27 18.00v1.2M115.27 105.30v-1.2M120.20 18.00v1.2M120.20 105.30v-1.2M125.12 18.00v1.2M125.12 105.30v-1.2M41.40 101.17h1.2M128.80 101.17h-1.2M41.40 96.25h1.2M128.80 96.25h-1.2M41.40 91.33h1.2M128.80 91.33h-1.2M41.40 86.40h1.2M128.80 86.40h-1.2M41.40 81.48h1.2M128.80 81.48h-1.2M41.40 76.55h1.2M128.80 76.55h-1.2M41.40 71.63h1.2M128.80 71.63h-1.2M41.40 66.70h1.2M128.80 66.70h-1.2M41.40 61.78h1.2M128.80 61.78h-1.2M41.40 56.85h1.2M128.80 56.85h-1.2M41.40 51.93h1.2M128.80 51.93h-1.2M41.40 47.00h1.2M128.80 47.00h-1.2M41.40 42.08h1.2M128.80 42.08h-1.2M41.40 37.15h1.2M128.80 37.15h-1.2M41.40 32.23h1.2M128.80 32.23h-1.2M41.40 27.30h1.2M128.80 27.30h-1.2M41.40 22.38h1.2M128.80 22.38h-1.2" stroke="#222" stroke-width="0.8" fill="none"/>
<g font-family="Liberation Serif, serif" stroke="#222" stroke-width="0.18" font-size="9.20" fill="#222">
<text x="41.40" y="119.00" text-anchor="middle">0.0</text>
<text x="61.10" y="119.00" text-anchor="middle">0.5</text>
<text x="80.80" y="119.00" text-anchor="middle">1.0</text>
<text x="100.50" y="119.00" text-anchor="middle">1.5</text>
<text x="120.20" y="119.00" text-anchor="middle">2.0</text>
<text x="131.40" y="119.00">mm</text>
<text x="34.80" y="106.60" text-anchor="end">0.0</text>
<text x="34.80" y="87.67" text-anchor="end">0.5</text>
<text x="34.80" y="68.75" text-anchor="end">1.0</text>
<text x="34.80" y="49.83" text-anchor="end">1.5</text>
<text x="34.80" y="30.90" text-anchor="end">2.0</text>
<text x="27.30" y="10.70">mm</text>
</g>
<text x="4.40" y="14.00" font-family="Liberation Serif, serif" stroke="#222" stroke-width="0.18" font-size="13" fill="#222">(a)</text>
<rect x="146.50" y="15.00" width="7.90" height="93.60" fill="url(#cbg)" stroke="#666" stroke-width="0.9"/>
<path d="M154.40 26.30h2.2M154.40 42.78h2.2M154.40 59.26h2.2M154.40 75.74h2.2M154.40 92.22h2.2M154.40 108.70h2.2M154.40 22.18h1.3M154.40 18.06h1.3M154.40 30.42h1.3M154.40 34.54h1.3M154.40 38.66h1.3M154.40 46.90h1.3M154.40 51.02h1.3M154.40 55.14h1.3M154.40 63.38h1.3M154.40 67.50h1.3M154.40 71.62h1.3M154.40 79.86h1.3M154.40 83.98h1.3M154.40 88.10h1.3M154.40 96.34h1.3M154.40 100.46h1.3M154.40 104.58h1.3" stroke="#333" stroke-width="0.8"/>
<g font-family="Liberation Serif, serif" stroke="#222" stroke-width="0.18" font-size="9.2" fill="#222">
<text x="160.60" y="29.50">250</text>
<text x="160.60" y="45.98">200</text>
<text x="160.60" y="62.46">150</text>
<text x="160.60" y="78.94">100</text>
<text x="160.60" y="95.42">50</text>
<text x="160.60" y="111.90">0</text>
<text x="155.00" y="10.60">µm</text>
</g>
<g clip-path="url(#cb)"><g filter="url(#fb)"><rect x="213.50" y="5.10" width="116.90" height="116.40" fill="#c8c8c8"/><rect x="200" y="0" width="140" height="130" fill="url(#bdome)"/><rect x="200" y="60" width="140" height="70" fill="url(#bbot)"/><ellipse cx="227" cy="106" rx="20" ry="22" fill="url(#bcorn)"/><ellipse cx="317" cy="108" rx="18" ry="18" fill="url(#bcorn)"/></g></g>
<g clip-path="url(#cb)"><ellipse cx="257.0" cy="33.8" rx="0.65" ry="0.8" fill="#ff9a20" opacity="0.85"/><ellipse cx="275.0" cy="52.0" rx="0.65" ry="1.3" fill="#ff9a20" opacity="0.85"/><ellipse cx="247.7" cy="28.4" rx="0.65" ry="0.7" fill="#f08a30" opacity="0.85"/><ellipse cx="237.2" cy="56.9" rx="0.65" ry="0.8" fill="#ff8a10" opacity="0.85"/><ellipse cx="248.5" cy="74.1" rx="0.65" ry="1.1" fill="#ff9a20" opacity="0.85"/><ellipse cx="263.2" cy="103.5" rx="0.65" ry="1.1" fill="#ff9a20" opacity="0.85"/><ellipse cx="240.8" cy="56.5" rx="0.65" ry="0.8" fill="#ff8a10" opacity="0.85"/><ellipse cx="255.7" cy="90.0" rx="0.65" ry="0.8" fill="#ffa030" opacity="0.85"/><ellipse cx="278.0" cy="37.0" rx="0.65" ry="1.1" fill="#ff9a20" opacity="0.85"/><ellipse cx="234.8" cy="26.1" rx="0.65" ry="1.0" fill="#ffa030" opacity="0.85"/><ellipse cx="274.6" cy="86.7" rx="0.65" ry="1.1" fill="#f08a30" opacity="0.85"/><ellipse cx="268.0" cy="46.4" rx="0.65" ry="1.2" fill="#ffa030" opacity="0.85"/><ellipse cx="250.2" cy="69.6" rx="0.65" ry="1.0" fill="#ff8a10" opacity="0.85"/><ellipse cx="258.7" cy="59.0" rx="0.65" ry="1.4" fill="#ff8a10" opacity="0.85"/><ellipse cx="239.5" cy="56.4" rx="0.65" ry="0.8" fill="#ffc040" opacity="0.85"/><ellipse cx="271.0" cy="24.4" rx="0.65" ry="1.2" fill="#ff9a20" opacity="0.85"/><ellipse cx="278.1" cy="95.0" rx="0.65" ry="0.9" fill="#ffc040" opacity="0.85"/><ellipse cx="259.2" cy="63.0" rx="0.65" ry="0.7" fill="#f08a30" opacity="0.85"/><ellipse cx="237.4" cy="43.9" rx="0.65" ry="0.7" fill="#ff9a20" opacity="0.85"/><ellipse cx="289.1" cy="75.7" rx="0.65" ry="0.9" fill="#f08a30" opacity="0.85"/><ellipse cx="262.3" cy="77.5" rx="0.65" ry="1.4" fill="#ff9a20" opacity="0.85"/><ellipse cx="259.7" cy="72.7" rx="0.65" ry="0.7" fill="#f08a30" opacity="0.85"/><ellipse cx="294.7" cy="32.0" rx="0.65" ry="1.0" fill="#ffa030" opacity="0.85"/><ellipse cx="307.3" cy="63.0" rx="0.65" ry="1.0" fill="#ffa030" opacity="0.85"/><ellipse cx="276.1" cy="95.7" rx="0.65" ry="1.3" fill="#f08a30" opacity="0.85"/><ellipse cx="253.1" cy="56.2" rx="0.65" ry="1.2" fill="#ffc040" opacity="0.85"/><ellipse cx="261.8" cy="40.6" rx="0.65" ry="0.8" fill="#ff9a20" opacity="0.85"/><ellipse cx="249.2" cy="40.8" rx="0.65" ry="1.3" fill="#f08a30" opacity="0.85"/><ellipse cx="245.0" cy="44.9" rx="0.65" ry="1.0" fill="#ffa030" opacity="0.85"/><ellipse cx="260.8" cy="68.9" rx="0.65" ry="1.2" fill="#ffa030" opacity="0.85"/><ellipse cx="273.3" cy="73.2" rx="0.65" ry="1.0" fill="#ff9a20" opacity="0.85"/><ellipse cx="303.4" cy="101.4" rx="0.65" ry="1.0" fill="#ff8a10" opacity="0.85"/><ellipse cx="263.4" cy="29.8" rx="0.65" ry="0.7" fill="#f08a30" opacity="0.85"/><ellipse cx="235.2" cy="38.7" rx="0.65" ry="0.8" fill="#ffa030" opacity="0.85"/><ellipse cx="280.5" cy="29.7" rx="0.65" ry="0.8" fill="#ff8a10" opacity="0.85"/><ellipse cx="238.1" cy="51.8" rx="0.65" ry="0.7" fill="#ff9a20" opacity="0.85"/><ellipse cx="247.2" cy="52.9" rx="0.65" ry="1.4" fill="#ffc040" opacity="0.85"/><ellipse cx="280.6" cy="61.1" rx="0.65" ry="1.3" fill="#ff9a20" opacity="0.85"/><ellipse cx="313.8" cy="60.4" rx="0.65" ry="0.9" fill="#f08a30" opacity="0.85"/><ellipse cx="241.7" cy="84.4" rx="0.65" ry="1.0" fill="#ffc040" opacity="0.85"/><ellipse cx="288.3" cy="64.7" rx="0.65" ry="1.4" fill="#ffa030" opacity="0.85"/><ellipse cx="274.3" cy="33.5" rx="0.65" ry="1.3" fill="#ff8a10" opacity="0.85"/><ellipse cx="293.9" cy="46.3" rx="0.65" ry="1.2" fill="#ff9a20" opacity="0.85"/><ellipse cx="251.7" cy="52.0" rx="0.65" ry="0.9" fill="#ffa030" opacity="0.85"/><ellipse cx="248.4" cy="66.8" rx="0.65" ry="0.9" fill="#ff8a10" opacity="0.85"/><ellipse cx="248.4" cy="89.6" rx="0.65" ry="1.3" fill="#ffa030" opacity="0.85"/><ellipse cx="299.0" cy="83.5" rx="0.65" ry="0.8" fill="#ffa030" opacity="0.85"/><ellipse cx="271.3" cy="82.8" rx="0.65" ry="1.3" fill="#ff9a20" opacity="0.85"/><ellipse cx="269.6" cy="37.4" rx="0.65" ry="1.4" fill="#ff8a10" opacity="0.85"/><ellipse cx="267.5" cy="100.2" rx="0.65" ry="1.4" fill="#ffc040" opacity="0.85"/><ellipse cx="260.5" cy="39.7" rx="0.65" ry="1.0" fill="#ffa030" opacity="0.85"/><ellipse cx="258.2" cy="61.8" rx="0.65" ry="1.3" fill="#ff8a10" opacity="0.85"/><ellipse cx="270.2" cy="76.2" rx="0.65" ry="1.3" fill="#ff9a20" opacity="0.85"/><ellipse cx="239.7" cy="53.9" rx="0.65" ry="1.0" fill="#ffa030" opacity="0.85"/><ellipse cx="244.7" cy="87.7" rx="0.65" ry="0.8" fill="#ffc040" opacity="0.85"/><ellipse cx="309.8" cy="82.0" rx="0.65" ry="1.0" fill="#f08a30" opacity="0.85"/><ellipse cx="309.9" cy="82.3" rx="0.65" ry="1.4" fill="#ffa030" opacity="0.85"/><ellipse cx="231.8" cy="71.0" rx="0.65" ry="1.3" fill="#f08a30" opacity="0.85"/><ellipse cx="241.9" cy="90.9" rx="0.65" ry="1.2" fill="#f08a30" opacity="0.85"/><ellipse cx="259.2" cy="67.4" rx="0.65" ry="0.7" fill="#ffa030" opacity="0.85"/><ellipse cx="297.4" cy="82.4" rx="0.65" ry="1.1" fill="#ff9a20" opacity="0.85"/><ellipse cx="308.8" cy="57.7" rx="0.65" ry="1.3" fill="#ffa030" opacity="0.85"/><ellipse cx="247.4" cy="42.4" rx="0.65" ry="1.1" fill="#ffc040" opacity="0.85"/><ellipse cx="294.3" cy="48.6" rx="0.65" ry="1.0" fill="#ff8a10" opacity="0.85"/><ellipse cx="240.6" cy="97.9" rx="0.65" ry="1.3" fill="#ffc040" opacity="0.85"/><ellipse cx="285.7" cy="89.9" rx="0.65" ry="1.0" fill="#ff8a10" opacity="0.85"/><ellipse cx="307.4" cy="63.4" rx="0.65" ry="0.8" fill="#ff8a10" opacity="0.85"/><ellipse cx="272.8" cy="94.8" rx="0.65" ry="1.1" fill="#ffa030" opacity="0.85"/><ellipse cx="295.4" cy="33.7" rx="0.65" ry="1.0" fill="#ffa030" opacity="0.85"/><ellipse cx="291.1" cy="68.1" rx="0.65" ry="1.2" fill="#ffc040" opacity="0.85"/><ellipse cx="274.6" cy="61.8" rx="0.65" ry="1.3" fill="#ff9a20" opacity="0.85"/><ellipse cx="234.3" cy="37.2" rx="0.65" ry="1.2" fill="#ff9a20" opacity="0.85"/><ellipse cx="272.6" cy="68.5" rx="0.65" ry="1.0" fill="#ff9a20" opacity="0.85"/><ellipse cx="281.5" cy="63.8" rx="0.65" ry="0.8" fill="#ff8a10" opacity="0.85"/><ellipse cx="253.0" cy="64.0" rx="0.65" ry="1.1" fill="#f08a30" opacity="0.85"/><ellipse cx="250.5" cy="65.3" rx="0.65" ry="1.3" fill="#ffc040" opacity="0.85"/><ellipse cx="305.3" cy="38.2" rx="0.65" ry="0.8" fill="#f08a30" opacity="0.85"/><ellipse cx="239.8" cy="58.4" rx="0.65" ry="1.2" fill="#ff9a20" opacity="0.85"/><ellipse cx="265.9" cy="39.1" rx="0.65" ry="1.2" fill="#ffc040" opacity="0.85"/><ellipse cx="305.7" cy="34.1" rx="0.65" ry="0.8" fill="#ffc040" opacity="0.85"/><ellipse cx="304.5" cy="102.8" rx="0.65" ry="1.2" fill="#ffa030" opacity="0.85"/><ellipse cx="237.5" cy="95.8" rx="0.65" ry="1.4" fill="#ffa030" opacity="0.85"/><ellipse cx="300.2" cy="34.7" rx="0.65" ry="1.4" fill="#f08a30" opacity="0.85"/><ellipse cx="263.8" cy="56.7" rx="0.65" ry="0.9" fill="#ffc040" opacity="0.85"/><ellipse cx="290.8" cy="22.7" rx="0.65" ry="1.0" fill="#ff8a10" opacity="0.85"/><ellipse cx="289.2" cy="53.5" rx="0.65" ry="1.1" fill="#ff8a10" opacity="0.85"/><ellipse cx="273.0" cy="26.5" rx="0.65" ry="1.4" fill="#ffa030" opacity="0.85"/><ellipse cx="238.4" cy="43.5" rx="0.65" ry="1.3" fill="#ff9a20" opacity="0.85"/><ellipse cx="244.9" cy="84.9" rx="0.65" ry="1.3" fill="#f08a30" opacity="0.85"/><ellipse cx="286.9" cy="100.9" rx="0.65" ry="0.8" fill="#f08a30" opacity="0.85"/><ellipse cx="307.5" cy="69.3" rx="0.65" ry="0.8" fill="#ffc040" opacity="0.85"/><ellipse cx="234.4" cy="79.2" rx="0.65" ry="1.3" fill="#f08a30" opacity="0.85"/><ellipse cx="252.3" cy="22.5" rx="0.65" ry="1.3" fill="#ff9a20" opacity="0.85"/><ellipse cx="236.6" cy="93.4" rx="0.65" ry="0.9" fill="#ff9a20" opacity="0.85"/><ellipse cx="239.8" cy="22.1" rx="0.65" ry="1.0" fill="#ff8a10" opacity="0.85"/><ellipse cx="307.2" cy="73.6" rx="0.65" ry="1.1" fill="#ff9a20" opacity="0.85"/><ellipse cx="249.7" cy="30.3" rx="0.65" ry="0.9" fill="#ffa030" opacity="0.85"/><ellipse cx="244.9" cy="99.8" rx="0.65" ry="1.1" fill="#ffc040" opacity="0.85"/><ellipse cx="247.0" cy="58.7" rx="0.65" ry="0.9" fill="#ffa030" opacity="0.85"/><ellipse cx="297.7" cy="105.0" rx="0.65" ry="0.7" fill="#ff9a20" opacity="0.85"/><ellipse cx="291.7" cy="67.6" rx="0.65" ry="1.1" fill="#ffa030" opacity="0.85"/><ellipse cx="250.4" cy="58.8" rx="0.65" ry="1.2" fill="#f08a30" opacity="0.85"/><ellipse cx="275.8" cy="96.1" rx="0.65" ry="0.9" fill="#ff8a10" opacity="0.85"/><ellipse cx="247.8" cy="40.5" rx="0.65" ry="1.3" fill="#ffa030" opacity="0.85"/><ellipse cx="289.5" cy="74.8" rx="0.65" ry="1.4" fill="#f08a30" opacity="0.85"/><ellipse cx="312.9" cy="91.7" rx="0.65" ry="0.7" fill="#ff9a20" opacity="0.85"/><ellipse cx="292.4" cy="42.7" rx="0.65" ry="0.7" fill="#ffa030" opacity="0.85"/><ellipse cx="286.0" cy="53.2" rx="0.65" ry="1.2" fill="#ff8a10" opacity="0.85"/><ellipse cx="253.4" cy="41.5" rx="0.65" ry="0.7" fill="#ffc040" opacity="0.85"/><ellipse cx="245.2" cy="43.8" rx="0.65" ry="0.9" fill="#ff9a20" opacity="0.85"/></g>
<rect x="227.50" y="19.10" width="88.90" height="88.40" fill="none" stroke="#444" stroke-width="0.9"/>
<path d="M227.50 107.50v2.2M227.50 19.10v-2.2M247.50 107.50v2.2M247.50 19.10v-2.2M267.50 107.50v2.2M267.50 19.10v-2.2M287.50 107.50v2.2M287.50 19.10v-2.2M307.50 107.50v2.2M307.50 19.10v-2.2M227.50 107.50h-2.4M316.40 107.50h2.4M227.50 87.70h-2.4M316.40 87.70h2.4M227.50 67.90h-2.4M316.40 67.90h2.4M227.50 48.10h-2.4M316.40 48.10h2.4M227.50 28.30h-2.4M316.40 28.30h2.4" stroke="#333" stroke-width="0.8" fill="none"/>
<path d="M232.50 19.10v1.2M232.50 107.50v-1.2M237.50 19.10v1.2M237.50 107.50v-1.2M242.50 19.10v1.2M242.50 107.50v-1.2M247.50 19.10v1.2M247.50 107.50v-1.2M252.50 19.10v1.2M252.50 107.50v-1.2M257.50 19.10v1.2M257.50 107.50v-1.2M262.50 19.10v1.2M262.50 107.50v-1.2M267.50 19.10v1.2M267.50 107.50v-1.2M272.50 19.10v1.2M272.50 107.50v-1.2M277.50 19.10v1.2M277.50 107.50v-1.2M282.50 19.10v1.2M282.50 107.50v-1.2M287.50 19.10v1.2M287.50 107.50v-1.2M292.50 19.10v1.2M292.50 107.50v-1.2M297.50 19.10v1.2M297.50 107.50v-1.2M302.50 19.10v1.2M302.50 107.50v-1.2M307.50 19.10v1.2M307.50 107.50v-1.2M312.50 19.10v1.2M312.50 107.50v-1.2M227.50 102.50h1.2M316.40 102.50h-1.2M227.50 97.50h1.2M316.40 97.50h-1.2M227.50 92.50h1.2M316.40 92.50h-1.2M227.50 87.50h1.2M316.40 87.50h-1.2M227.50 82.50h1.2M316.40 82.50h-1.2M227.50 77.50h1.2M316.40 77.50h-1.2M227.50 72.50h1.2M316.40 72.50h-1.2M227.50 67.50h1.2M316.40 67.50h-1.2M227.50 62.50h1.2M316.40 62.50h-1.2M227.50 57.50h1.2M316.40 57.50h-1.2M227.50 52.50h1.2M316.40 52.50h-1.2M227.50 47.50h1.2M316.40 47.50h-1.2M227.50 42.50h1.2M316.40 42.50h-1.2M227.50 37.50h1.2M316.40 37.50h-1.2M227.50 32.50h1.2M316.40 32.50h-1.2M227.50 27.50h1.2M316.40 27.50h-1.2M227.50 22.50h1.2M316.40 22.50h-1.2" stroke="#222" stroke-width="0.8" fill="none"/>
<g font-family="Liberation Serif, serif" stroke="#222" stroke-width="0.18" font-size="9.20" fill="#222">
<text x="227.50" y="122.50" text-anchor="middle">0.0</text>
<text x="247.50" y="122.50" text-anchor="middle">0.5</text>
<text x="267.50" y="122.50" text-anchor="middle">1.0</text>
<text x="287.50" y="122.50" text-anchor="middle">1.5</text>
<text x="307.50" y="122.50" text-anchor="middle">2.0</text>
<text x="320.20" y="122.50">mm</text>
<text x="220.00" y="110.00" text-anchor="end">0.0</text>
<text x="220.00" y="90.45" text-anchor="end">0.5</text>
<text x="220.00" y="70.90" text-anchor="end">1.0</text>
<text x="220.00" y="51.35" text-anchor="end">1.5</text>
<text x="220.00" y="31.80" text-anchor="end">2.0</text>
<text x="212.30" y="10.70">mm</text>
</g>
<text x="188.00" y="14.00" font-family="Liberation Serif, serif" stroke="#222" stroke-width="0.18" font-size="13" fill="#222">(b)</text>
<rect x="337.10" y="16.80" width="7.60" height="96.80" fill="url(#cbg)" stroke="#666" stroke-width="0.9"/>
<path d="M344.70 26.70h2.2M344.70 43.62h2.2M344.70 60.54h2.2M344.70 77.46h2.2M344.70 94.38h2.2M344.70 111.30h2.2M344.70 22.47h1.3M344.70 18.24h1.3M344.70 30.93h1.3M344.70 35.16h1.3M344.70 39.39h1.3M344.70 47.85h1.3M344.70 52.08h1.3M344.70 56.31h1.3M344.70 64.77h1.3M344.70 69.00h1.3M344.70 73.23h1.3M344.70 81.69h1.3M344.70 85.92h1.3M344.70 90.15h1.3M344.70 98.61h1.3M344.70 102.84h1.3M344.70 107.07h1.3" stroke="#333" stroke-width="0.8"/>
<g font-family="Liberation Serif, serif" stroke="#222" stroke-width="0.18" font-size="9.2" fill="#222">
<text x="349.50" y="29.90">25</text>
<text x="349.50" y="46.82">20</text>
<text x="349.50" y="63.74">15</text>
<text x="349.50" y="80.66">10</text>
<text x="349.50" y="97.58">5</text>
<text x="349.50" y="114.50">0</text>
<text x="343.20" y="11.00">µm</text>
</g>
<g clip-path="url(#cc)"><g filter="url(#fc)"><rect x="401.00" y="4.70" width="114.10" height="113.80" fill="#808080"/><g filter="url(#gbc)"><rect x="406.39" y="10.12" width="8.91" height="8.88" fill="#909090"/><rect x="415.00" y="10.12" width="8.91" height="8.88" fill="#909090"/><rect x="423.61" y="10.12" width="8.91" height="8.88" fill="#909090"/><rect x="432.22" y="10.12" width="8.91" height="8.88" fill="#8d8d8d"/><rect x="440.83" y="10.12" width="8.91" height="8.88" fill="#8b8b8b"/><rect x="449.44" y="10.12" width="8.91" height="8.88" fill="#888888"/><rect x="458.05" y="10.12" width="8.91" height="8.88" fill="#888888"/><rect x="466.66" y="10.12" width="8.91" height="8.88" fill="#868686"/><rect x="475.27" y="10.12" width="8.91" height="8.88" fill="#838383"/><rect x="483.88" y="10.12" width="8.91" height="8.88" fill="#7e7e7e"/><rect x="492.49" y="10.12" width="8.91" height="8.88" fill="#7b7b7b"/><rect x="501.10" y="10.12" width="8.91" height="8.88" fill="#7b7b7b"/><rect x="406.39" y="18.70" width="8.91" height="8.88" fill="#909090"/><rect x="415.00" y="18.70" width="8.91" height="8.88" fill="#909090"/><rect x="423.61" y="18.70" width="8.91" height="8.88" fill="#909090"/><rect x="432.22" y="18.70" width="8.91" height="8.88" fill="#8d8d8d"/><rect x="440.83" y="18.70" width="8.91" height="8.88" fill="#8b8b8b"/><rect x="449.44" y="18.70" width="8.91" height="8.88" fill="#888888"/><rect x="458.05" y="18.70" width="8.91" height="8.88" fill="#888888"/><rect x="466.66" y="18.70" width="8.91" height="8.88" fill="#868686"/><rect x="475.27" y="18.70" width="8.91" height="8.88" fill="#838383"/><rect x="483.88" y="18.70" width="8.91" height="8.88" fill="#7e7e7e"/><rect x="492.49" y="18.70" width="8.91" height="8.88" fill="#7b7b7b"/><rect x="501.10" y="18.70" width="8.91" height="8.88" fill="#7b7b7b"/><rect x="406.39" y="27.28" width="8.91" height="8.88" fill="#909090"/><rect x="415.00" y="27.28" width="8.91" height="8.88" fill="#909090"/><rect x="423.61" y="27.28" width="8.91" height="8.88" fill="#909090"/><rect x="432.22" y="27.28" width="8.91" height="8.88" fill="#8d8d8d"/><rect x="440.83" y="27.28" width="8.91" height="8.88" fill="#888888"/><rect x="449.44" y="27.28" width="8.91" height="8.88" fill="#868686"/><rect x="458.05" y="27.28" width="8.91" height="8.88" fill="#868686"/><rect x="466.66" y="27.28" width="8.91" height="8.88" fill="#818181"/><rect x="475.27" y="27.28" width="8.91" height="8.88" fill="#797979"/><rect x="483.88" y="27.28" width="8.91" height="8.88" fill="#767676"/><rect x="492.49" y="27.28" width="8.91" height="8.88" fill="#818181"/><rect x="501.10" y="27.28" width="8.91" height="8.88" fill="#818181"/><rect x="406.39" y="35.86" width="8.91" height="8.88" fill="#8d8d8d"/><rect x="415.00" y="35.86" width="8.91" height="8.88" fill="#8d8d8d"/><rect x="423.61" y="35.86" width="8.91" height="8.88" fill="#888888"/><rect x="432.22" y="35.86" width="8.91" height="8.88" fill="#7e7e7e"/><rect x="440.83" y="35.86" width="8.91" height="8.88" fill="#767676"/><rect x="449.44" y="35.86" width="8.91" height="8.88" fill="#7b7b7b"/><rect x="458.05" y="35.86" width="8.91" height="8.88" fill="#767676"/><rect x="466.66" y="35.86" width="8.91" height="8.88" fill="#818181"/><rect x="475.27" y="35.86" width="8.91" height="8.88" fill="#838383"/><rect x="483.88" y="35.86" width="8.91" height="8.88" fill="#767676"/><rect x="492.49" y="35.86" width="8.91" height="8.88" fill="#767676"/><rect x="501.10" y="35.86" width="8.91" height="8.88" fill="#767676"/><rect x="406.39" y="44.44" width="8.91" height="8.88" fill="#888888"/><rect x="415.00" y="44.44" width="8.91" height="8.88" fill="#888888"/><rect x="423.61" y="44.44" width="8.91" height="8.88" fill="#868686"/><rect x="432.22" y="44.44" width="8.91" height="8.88" fill="#767676"/><rect x="440.83" y="44.44" width="8.91" height="8.88" fill="#747474"/><rect x="449.44" y="44.44" width="8.91" height="8.88" fill="#767676"/><rect x="458.05" y="44.44" width="8.91" height="8.88" fill="#818181"/><rect x="466.66" y="44.44" width="8.91" height="8.88" fill="#767676"/><rect x="475.27" y="44.44" width="8.91" height="8.88" fill="#818181"/><rect x="483.88" y="44.44" width="8.91" height="8.88" fill="#838383"/><rect x="492.49" y="44.44" width="8.91" height="8.88" fill="#7b7b7b"/><rect x="501.10" y="44.44" width="8.91" height="8.88" fill="#7b7b7b"/><rect x="406.39" y="53.02" width="8.91" height="8.88" fill="#888888"/><rect x="415.00" y="53.02" width="8.91" height="8.88" fill="#888888"/><rect x="423.61" y="53.02" width="8.91" height="8.88" fill="#868686"/><rect x="432.22" y="53.02" width="8.91" height="8.88" fill="#838383"/><rect x="440.83" y="53.02" width="8.91" height="8.88" fill="#797979"/><rect x="449.44" y="53.02" width="8.91" height="8.88" fill="#818181"/><rect x="458.05" y="53.02" width="8.91" height="8.88" fill="#767676"/><rect x="466.66" y="53.02" width="8.91" height="8.88" fill="#747474"/><rect x="475.27" y="53.02" width="8.91" height="8.88" fill="#767676"/><rect x="483.88" y="53.02" width="8.91" height="8.88" fill="#818181"/><rect x="492.49" y="53.02" width="8.91" height="8.88" fill="#838383"/><rect x="501.10" y="53.02" width="8.91" height="8.88" fill="#838383"/><rect x="406.39" y="61.60" width="8.91" height="8.88" fill="#888888"/><rect x="415.00" y="61.60" width="8.91" height="8.88" fill="#888888"/><rect x="423.61" y="61.60" width="8.91" height="8.88" fill="#797979"/><rect x="432.22" y="61.60" width="8.91" height="8.88" fill="#767676"/><rect x="440.83" y="61.60" width="8.91" height="8.88" fill="#818181"/><rect x="449.44" y="61.60" width="8.91" height="8.88" fill="#818181"/><rect x="458.05" y="61.60" width="8.91" height="8.88" fill="#767676"/><rect x="466.66" y="61.60" width="8.91" height="8.88" fill="#6c6c6c"/><rect x="475.27" y="61.60" width="8.91" height="8.88" fill="#6a6a6a"/><rect x="483.88" y="61.60" width="8.91" height="8.88" fill="#747474"/><rect x="492.49" y="61.60" width="8.91" height="8.88" fill="#818181"/><rect x="501.10" y="61.60" width="8.91" height="8.88" fill="#818181"/><rect x="406.39" y="70.18" width="8.91" height="8.88" fill="#8b8b8b"/><rect x="415.00" y="70.18" width="8.91" height="8.88" fill="#8b8b8b"/><rect x="423.61" y="70.18" width="8.91" height="8.88" fill="#797979"/><rect x="432.22" y="70.18" width="8.91" height="8.88" fill="#747474"/><rect x="440.83" y="70.18" width="8.91" height="8.88" fill="#797979"/><rect x="449.44" y="70.18" width="8.91" height="8.88" fill="#818181"/><rect x="458.05" y="70.18" width="8.91" height="8.88" fill="#767676"/><rect x="466.66" y="70.18" width="8.91" height="8.88" fill="#6c6c6c"/><rect x="475.27" y="70.18" width="8.91" height="8.88" fill="#747474"/><rect x="483.88" y="70.18" width="8.91" height="8.88" fill="#7e7e7e"/><rect x="492.49" y="70.18" width="8.91" height="8.88" fill="#818181"/><rect x="501.10" y="70.18" width="8.91" height="8.88" fill="#818181"/><rect x="406.39" y="78.76" width="8.91" height="8.88" fill="#8b8b8b"/><rect x="415.00" y="78.76" width="8.91" height="8.88" fill="#8b8b8b"/><rect x="423.61" y="78.76" width="8.91" height="8.88" fill="#838383"/><rect x="432.22" y="78.76" width="8.91" height="8.88" fill="#767676"/><rect x="440.83" y="78.76" width="8.91" height="8.88" fill="#818181"/><rect x="449.44" y="78.76" width="8.91" height="8.88" fill="#818181"/><rect x="458.05" y="78.76" width="8.91" height="8.88" fill="#767676"/><rect x="466.66" y="78.76" width="8.91" height="8.88" fill="#747474"/><rect x="475.27" y="78.76" width="8.91" height="8.88" fill="#747474"/><rect x="483.88" y="78.76" width="8.91" height="8.88" fill="#767676"/><rect x="492.49" y="78.76" width="8.91" height="8.88" fill="#7e7e7e"/><rect x="501.10" y="78.76" width="8.91" height="8.88" fill="#7e7e7e"/><rect x="406.39" y="87.34" width="8.91" height="8.88" fill="#888888"/><rect x="415.00" y="87.34" width="8.91" height="8.88" fill="#888888"/><rect x="423.61" y="87.34" width="8.91" height="8.88" fill="#868686"/><rect x="432.22" y="87.34" width="8.91" height="8.88" fill="#838383"/><rect x="440.83" y="87.34" width="8.91" height="8.88" fill="#838383"/><rect x="449.44" y="87.34" width="8.91" height="8.88" fill="#797979"/><rect x="458.05" y="87.34" width="8.91" height="8.88" fill="#767676"/><rect x="466.66" y="87.34" width="8.91" height="8.88" fill="#7e7e7e"/><rect x="475.27" y="87.34" width="8.91" height="8.88" fill="#767676"/><rect x="483.88" y="87.34" width="8.91" height="8.88" fill="#767676"/><rect x="492.49" y="87.34" width="8.91" height="8.88" fill="#797979"/><rect x="501.10" y="87.34" width="8.91" height="8.88" fill="#797979"/><rect x="406.39" y="95.92" width="8.91" height="8.88" fill="#868686"/><rect x="415.00" y="95.92" width="8.91" height="8.88" fill="#868686"/><rect x="423.61" y="95.92" width="8.91" height="8.88" fill="#888888"/><rect x="432.22" y="95.92" width="8.91" height="8.88" fill="#838383"/><rect x="440.83" y="95.92" width="8.91" height="8.88" fill="#797979"/><rect x="449.44" y="95.92" width="8.91" height="8.88" fill="#818181"/><rect x="458.05" y="95.92" width="8.91" height="8.88" fill="#818181"/><rect x="466.66" y="95.92" width="8.91" height="8.88" fill="#818181"/><rect x="475.27" y="95.92" width="8.91" height="8.88" fill="#747474"/><rect x="483.88" y="95.92" width="8.91" height="8.88" fill="#767676"/><rect x="492.49" y="95.92" width="8.91" height="8.88" fill="#797979"/><rect x="501.10" y="95.92" width="8.91" height="8.88" fill="#797979"/><rect x="406.39" y="104.50" width="8.91" height="8.88" fill="#868686"/><rect x="415.00" y="104.50" width="8.91" height="8.88" fill="#868686"/><rect x="423.61" y="104.50" width="8.91" height="8.88" fill="#888888"/><rect x="432.22" y="104.50" width="8.91" height="8.88" fill="#838383"/><rect x="440.83" y="104.50" width="8.91" height="8.88" fill="#797979"/><rect x="449.44" y="104.50" width="8.91" height="8.88" fill="#818181"/><rect x="458.05" y="104.50" width="8.91" height="8.88" fill="#818181"/><rect x="466.66" y="104.50" width="8.91" height="8.88" fill="#818181"/><rect x="475.27" y="104.50" width="8.91" height="8.88" fill="#747474"/><rect x="483.88" y="104.50" width="8.91" height="8.88" fill="#767676"/><rect x="492.49" y="104.50" width="8.91" height="8.88" fill="#797979"/><rect x="501.10" y="104.50" width="8.91" height="8.88" fill="#797979"/></g></g></g>
<rect x="415.00" y="18.70" width="86.10" height="85.80" fill="none" stroke="#444" stroke-width="0.9"/>
<path d="M415.00 104.50v2.2M415.00 18.70v-2.2M434.38 104.50v2.2M434.38 18.70v-2.2M453.75 104.50v2.2M453.75 18.70v-2.2M473.12 104.50v2.2M473.12 18.70v-2.2M492.50 104.50v2.2M492.50 18.70v-2.2M415.00 104.50h-2.4M501.10 104.50h2.4M415.00 85.12h-2.4M501.10 85.12h2.4M415.00 65.75h-2.4M501.10 65.75h2.4M415.00 46.38h-2.4M501.10 46.38h2.4M415.00 27.00h-2.4M501.10 27.00h2.4" stroke="#333" stroke-width="0.8" fill="none"/>
<path d="M419.84 18.70v1.2M419.84 104.50v-1.2M424.69 18.70v1.2M424.69 104.50v-1.2M429.53 18.70v1.2M429.53 104.50v-1.2M434.38 18.70v1.2M434.38 104.50v-1.2M439.22 18.70v1.2M439.22 104.50v-1.2M444.06 18.70v1.2M444.06 104.50v-1.2M448.91 18.70v1.2M448.91 104.50v-1.2M453.75 18.70v1.2M453.75 104.50v-1.2M458.59 18.70v1.2M458.59 104.50v-1.2M463.44 18.70v1.2M463.44 104.50v-1.2M468.28 18.70v1.2M468.28 104.50v-1.2M473.12 18.70v1.2M473.12 104.50v-1.2M477.97 18.70v1.2M477.97 104.50v-1.2M482.81 18.70v1.2M482.81 104.50v-1.2M487.66 18.70v1.2M487.66 104.50v-1.2M492.50 18.70v1.2M492.50 104.50v-1.2M497.34 18.70v1.2M497.34 104.50v-1.2M415.00 99.66h1.2M501.10 99.66h-1.2M415.00 94.81h1.2M501.10 94.81h-1.2M415.00 89.97h1.2M501.10 89.97h-1.2M415.00 85.12h1.2M501.10 85.12h-1.2M415.00 80.28h1.2M501.10 80.28h-1.2M415.00 75.44h1.2M501.10 75.44h-1.2M415.00 70.59h1.2M501.10 70.59h-1.2M415.00 65.75h1.2M501.10 65.75h-1.2M415.00 60.91h1.2M501.10 60.91h-1.2M415.00 56.06h1.2M501.10 56.06h-1.2M415.00 51.22h1.2M501.10 51.22h-1.2M415.00 46.38h1.2M501.10 46.38h-1.2M415.00 41.53h1.2M501.10 41.53h-1.2M415.00 36.69h1.2M501.10 36.69h-1.2M415.00 31.84h1.2M501.10 31.84h-1.2M415.00 27.00h1.2M501.10 27.00h-1.2M415.00 22.16h1.2M501.10 22.16h-1.2" stroke="#222" stroke-width="0.8" fill="none"/>
<g font-family="Liberation Serif, serif" stroke="#222" stroke-width="0.18" font-size="9.20" fill="#222">
<text x="415.00" y="118.50" text-anchor="middle">0.0</text>
<text x="434.38" y="118.50" text-anchor="middle">0.5</text>
<text x="453.75" y="118.50" text-anchor="middle">1.0</text>
<text x="473.12" y="118.50" text-anchor="middle">1.5</text>
<text x="492.50" y="118.50" text-anchor="middle">2.0</text>
<text x="504.70" y="118.50">mm</text>
<text x="407.70" y="106.80" text-anchor="end">0.0</text>
<text x="407.70" y="87.78" text-anchor="end">0.5</text>
<text x="407.70" y="68.75" text-anchor="end">1.0</text>
<text x="407.70" y="49.73" text-anchor="end">1.5</text>
<text x="407.70" y="30.70" text-anchor="end">2.0</text>
<text x="400.00" y="10.70">mm</text>
</g>
<text x="376.80" y="14.00" font-family="Liberation Serif, serif" stroke="#222" stroke-width="0.18" font-size="13" fill="#222">(c)</text>
<rect x="519.10" y="16.20" width="7.30" height="91.50" fill="url(#cbg)" stroke="#666" stroke-width="0.9"/>
<path d="M526.40 26.60h2.2M526.40 43.02h2.2M526.40 59.44h2.2M526.40 75.86h2.2M526.40 92.28h2.2M526.40 22.50h1.3M526.40 18.39h1.3M526.40 30.71h1.3M526.40 34.81h1.3M526.40 38.91h1.3M526.40 47.12h1.3M526.40 51.23h1.3M526.40 55.33h1.3M526.40 63.54h1.3M526.40 67.65h1.3M526.40 71.75h1.3M526.40 79.96h1.3M526.40 84.07h1.3M526.40 88.17h1.3M526.40 96.39h1.3M526.40 100.49h1.3M526.40 104.59h1.3" stroke="#333" stroke-width="0.8"/>
<g font-family="Liberation Serif, serif" stroke="#222" stroke-width="0.18" font-size="9.2" fill="#222">
<text x="534.00" y="29.80">100</text>
<text x="534.00" y="46.22">80</text>
<text x="534.00" y="62.64">60</text>
<text x="534.00" y="79.06">40</text>
<text x="534.00" y="95.48">20</text>
<text x="534.00" y="111.90">0</text>
<text x="528.00" y="11.00">µm</text>
</g>
<polygon points="19.0,182.5 80.0,233.0 81.0,243.5 19.0,187.0" fill="#dedede" stroke="#a8a8a8" stroke-width="0.6"/>
<polygon points="80.0,233.0 142.0,183.0 140.0,189.0 81.0,243.5" fill="#e6e6e6" stroke="#a8a8a8" stroke-width="0.6"/>
<path d="M67.4 222.2v5.7" stroke="#1a5a70" stroke-width="0.99" opacity="0.50"/><path d="M21.2 184.3v2.3" stroke="#7a8a90" stroke-width="0.82" opacity="0.50"/><path d="M65.3 220.5v3.1" stroke="#2a6a80" stroke-width="0.71" opacity="0.50"/><path d="M67.9 222.6v5.1" stroke="#1a5a70" stroke-width="1.07" opacity="0.50"/><path d="M51.9 209.5v2.1" stroke="#7a8a90" stroke-width="0.87" opacity="0.50"/><path d="M68.1 222.8v2.7" stroke="#7a8a90" stroke-width="0.94" opacity="0.50"/><path d="M70.5 224.7v3.0" stroke="#2a6a80" stroke-width="0.76" opacity="0.50"/><path d="M44.0 203.0v2.6" stroke="#2a6a80" stroke-width="0.98" opacity="0.50"/><path d="M61.7 217.5v5.6" stroke="#2a6a80" stroke-width="1.09" opacity="0.50"/><path d="M54.9 211.9v2.5" stroke="#50606a" stroke-width="0.83" opacity="0.50"/><path d="M69.8 224.1v2.4" stroke="#7a8a90" stroke-width="0.92" opacity="0.50"/><path d="M61.6 217.4v5.6" stroke="#2a6a80" stroke-width="0.91" opacity="0.50"/><path d="M33.9 194.7v3.4" stroke="#50606a" stroke-width="0.89" opacity="0.50"/><path d="M24.5 187.0v6.1" stroke="#7a8a90" stroke-width="0.67" opacity="0.50"/><path d="M56.1 212.9v2.7" stroke="#3a7a90" stroke-width="0.77" opacity="0.50"/><path d="M32.6 193.6v4.3" stroke="#7a8a90" stroke-width="0.57" opacity="0.50"/><path d="M66.5 221.4v2.0" stroke="#50606a" stroke-width="0.87" opacity="0.50"/><path d="M60.0 216.1v4.4" stroke="#50606a" stroke-width="0.77" opacity="0.50"/><path d="M42.7 202.0v2.2" stroke="#1a5a70" stroke-width="0.59" opacity="0.50"/><path d="M44.8 203.6v5.2" stroke="#1a5a70" stroke-width="0.61" opacity="0.50"/><path d="M45.9 204.6v5.6" stroke="#2a6a80" stroke-width="1.06" opacity="0.50"/><path d="M59.9 216.0v6.2" stroke="#1a5a70" stroke-width="1.00" opacity="0.50"/><path d="M100.1 216.3v3.4" stroke="#8a9aa0" stroke-width="0.59" opacity="0.60"/><path d="M130.9 191.4v3.2" stroke="#7a8a90" stroke-width="0.59" opacity="0.60"/><path d="M111.5 207.1v3.1" stroke="#1a5a70" stroke-width="0.79" opacity="0.60"/><path d="M94.9 220.5v5.9" stroke="#2a6a80" stroke-width="1.02" opacity="0.60"/><path d="M87.7 226.3v3.7" stroke="#8a9aa0" stroke-width="0.89" opacity="0.60"/><path d="M83.8 229.4v6.1" stroke="#2a6a80" stroke-width="1.11" opacity="0.60"/><path d="M82.9 230.2v8.6" stroke="#50606a" stroke-width="0.79" opacity="0.60"/><path d="M113.5 205.5v6.0" stroke="#7a8a90" stroke-width="1.02" opacity="0.60"/><path d="M91.2 223.5v6.1" stroke="#8a9aa0" stroke-width="0.67" opacity="0.60"/><path d="M86.0 227.6v7.2" stroke="#7a8a90" stroke-width="0.59" opacity="0.60"/><path d="M92.8 222.2v6.9" stroke="#1a5a70" stroke-width="1.00" opacity="0.60"/><path d="M108.9 209.2v9.2" stroke="#50606a" stroke-width="0.73" opacity="0.60"/><path d="M129.3 192.8v7.1" stroke="#3a7a90" stroke-width="0.61" opacity="0.60"/><path d="M98.6 217.5v5.4" stroke="#50606a" stroke-width="0.97" opacity="0.60"/><path d="M97.9 218.1v9.8" stroke="#2a6a80" stroke-width="0.85" opacity="0.60"/><path d="M90.2 224.3v4.4" stroke="#1a5a70" stroke-width="0.80" opacity="0.60"/><path d="M139.6 184.4v3.2" stroke="#7a8a90" stroke-width="0.88" opacity="0.60"/><path d="M134.3 188.7v4.2" stroke="#8a9aa0" stroke-width="0.76" opacity="0.60"/><path d="M110.8 207.7v8.0" stroke="#2a6a80" stroke-width="1.03" opacity="0.60"/><path d="M138.6 185.3v5.3" stroke="#8a9aa0" stroke-width="0.60" opacity="0.60"/><path d="M125.3 195.9v4.2" stroke="#7a8a90" stroke-width="1.12" opacity="0.60"/><path d="M131.0 191.4v4.1" stroke="#1a5a70" stroke-width="1.06" opacity="0.60"/><path d="M101.5 215.1v9.4" stroke="#50606a" stroke-width="0.65" opacity="0.60"/><path d="M87.3 226.6v3.1" stroke="#50606a" stroke-width="0.63" opacity="0.60"/><path d="M95.4 220.1v4.7" stroke="#1a5a70" stroke-width="0.61" opacity="0.60"/><path d="M107.8 210.0v5.9" stroke="#3a7a90" stroke-width="1.02" opacity="0.60"/><path d="M133.6 189.3v4.0" stroke="#1a5a70" stroke-width="1.11" opacity="0.60"/><path d="M122.3 198.4v4.6" stroke="#3a7a90" stroke-width="0.64" opacity="0.60"/><path d="M90.9 223.7v3.8" stroke="#3a7a90" stroke-width="0.57" opacity="0.60"/><path d="M131.5 190.9v3.5" stroke="#50606a" stroke-width="0.56" opacity="0.60"/><path d="M106.0 211.6v4.6" stroke="#7a8a90" stroke-width="0.74" opacity="0.60"/><path d="M87.8 226.2v8.6" stroke="#7a8a90" stroke-width="0.93" opacity="0.60"/><path d="M125.9 195.5v5.2" stroke="#8a9aa0" stroke-width="1.01" opacity="0.60"/><path d="M104.3 212.9v4.8" stroke="#2a6a80" stroke-width="0.83" opacity="0.60"/><path d="M104.8 212.5v3.6" stroke="#3a7a90" stroke-width="0.81" opacity="0.60"/><path d="M86.8 227.0v6.3" stroke="#2a6a80" stroke-width="0.56" opacity="0.60"/><path d="M89.4 224.9v3.2" stroke="#50606a" stroke-width="0.90" opacity="0.60"/><path d="M84.4 229.0v3.7" stroke="#1a5a70" stroke-width="0.64" opacity="0.60"/><path d="M95.6 219.9v4.4" stroke="#50606a" stroke-width="0.83" opacity="0.60"/><path d="M87.2 226.7v5.4" stroke="#1a5a70" stroke-width="0.83" opacity="0.60"/><path d="M99.3 216.9v3.4" stroke="#8a9aa0" stroke-width="0.75" opacity="0.60"/><path d="M96.4 219.3v8.3" stroke="#3a7a90" stroke-width="0.85" opacity="0.60"/><path d="M92.7 222.2v9.5" stroke="#50606a" stroke-width="0.64" opacity="0.60"/><path d="M113.7 205.3v3.0" stroke="#7a8a90" stroke-width="0.73" opacity="0.60"/><path d="M119.9 200.4v3.2" stroke="#50606a" stroke-width="0.85" opacity="0.60"/><path d="M136.3 187.1v4.5" stroke="#3a7a90" stroke-width="0.86" opacity="0.60"/><path d="M128.3 193.5v4.3" stroke="#3a7a90" stroke-width="0.90" opacity="0.60"/><path d="M128.9 193.1v7.6" stroke="#3a7a90" stroke-width="1.01" opacity="0.60"/><path d="M130.7 191.6v7.5" stroke="#3a7a90" stroke-width="0.67" opacity="0.60"/><path d="M110.6 207.9v7.4" stroke="#2a6a80" stroke-width="1.00" opacity="0.60"/><path d="M109.3 208.9v3.6" stroke="#7a8a90" stroke-width="1.10" opacity="0.60"/><path d="M107.7 210.1v9.3" stroke="#50606a" stroke-width="1.09" opacity="0.60"/><path d="M102.6 214.3v3.7" stroke="#3a7a90" stroke-width="0.82" opacity="0.60"/><path d="M100.9 215.6v5.3" stroke="#7a8a90" stroke-width="1.03" opacity="0.60"/><path d="M109.7 208.5v6.7" stroke="#8a9aa0" stroke-width="0.61" opacity="0.60"/><path d="M121.0 199.5v9.1" stroke="#8a9aa0" stroke-width="0.98" opacity="0.60"/><path d="M109.6 208.6v3.5" stroke="#8a9aa0" stroke-width="0.75" opacity="0.60"/><path d="M129.7 192.5v9.7" stroke="#1a5a70" stroke-width="0.82" opacity="0.60"/><path d="M126.1 195.3v3.2" stroke="#3a7a90" stroke-width="0.66" opacity="0.60"/><path d="M87.9 226.1v3.4" stroke="#1a5a70" stroke-width="1.01" opacity="0.60"/><path d="M89.1 225.2v8.3" stroke="#1a5a70" stroke-width="0.93" opacity="0.60"/><path d="M101.7 215.0v5.8" stroke="#3a7a90" stroke-width="0.57" opacity="0.60"/><path d="M129.6 192.5v7.3" stroke="#2a6a80" stroke-width="0.85" opacity="0.60"/><path d="M137.9 185.8v5.0" stroke="#3a7a90" stroke-width="1.02" opacity="0.60"/><path d="M93.1 221.9v3.9" stroke="#50606a" stroke-width="0.84" opacity="0.60"/><path d="M127.3 194.3v4.3" stroke="#7a8a90" stroke-width="0.79" opacity="0.60"/><path d="M88.1 225.9v9.1" stroke="#50606a" stroke-width="1.06" opacity="0.60"/><path d="M121.1 199.4v8.2" stroke="#7a8a90" stroke-width="0.80" opacity="0.60"/><path d="M136.9 186.6v5.5" stroke="#7a8a90" stroke-width="0.65" opacity="0.60"/><path d="M111.7 207.0v8.7" stroke="#3a7a90" stroke-width="0.90" opacity="0.60"/>
<g filter="url(#f3d)"><g clip-path="url(#c3d)"><g transform="matrix(0.71510 0.56922 -0.69301 0.56415 61.619 99.905)"><rect x="27.40" y="4.00" width="115.40" height="115.30" fill="#808080"/><g filter="url(#gba)"><rect x="32.66" y="9.27" width="9.04" height="9.03" fill="#737373"/><rect x="41.40" y="9.27" width="9.04" height="9.03" fill="#737373"/><rect x="50.14" y="9.27" width="9.04" height="9.03" fill="#808080"/><rect x="58.88" y="9.27" width="9.04" height="9.03" fill="#8c8c8c"/><rect x="67.62" y="9.27" width="9.04" height="9.03" fill="#8c8c8c"/><rect x="76.36" y="9.27" width="9.04" height="9.03" fill="#858585"/><rect x="85.10" y="9.27" width="9.04" height="9.03" fill="#787878"/><rect x="93.84" y="9.27" width="9.04" height="9.03" fill="#8c8c8c"/><rect x="102.58" y="9.27" width="9.04" height="9.03" fill="#8c8c8c"/><rect x="111.32" y="9.27" width="9.04" height="9.03" fill="#858585"/><rect x="120.06" y="9.27" width="9.04" height="9.03" fill="#737373"/><rect x="128.80" y="9.27" width="9.04" height="9.03" fill="#737373"/><rect x="32.66" y="18.00" width="9.04" height="9.03" fill="#737373"/><rect x="41.40" y="18.00" width="9.04" height="9.03" fill="#737373"/><rect x="50.14" y="18.00" width="9.04" height="9.03" fill="#808080"/><rect x="58.88" y="18.00" width="9.04" height="9.03" fill="#8c8c8c"/><rect x="67.62" y="18.00" width="9.04" height="9.03" fill="#8c8c8c"/><rect x="76.36" y="18.00" width="9.04" height="9.03" fill="#858585"/><rect x="85.10" y="18.00" width="9.04" height="9.03" fill="#787878"/><rect x="93.84" y="18.00" width="9.04" height="9.03" fill="#8c8c8c"/><rect x="102.58" y="18.00" width="9.04" height="9.03" fill="#8c8c8c"/><rect x="111.32" y="18.00" width="9.04" height="9.03" fill="#858585"/><rect x="120.06" y="18.00" width="9.04" height="9.03" fill="#737373"/><rect x="128.80" y="18.00" width="9.04" height="9.03" fill="#737373"/><rect x="32.66" y="26.73" width="9.04" height="9.03" fill="#737373"/><rect x="41.40" y="26.73" width="9.04" height="9.03" fill="#737373"/><rect x="50.14" y="26.73" width="9.04" height="9.03" fill="#8c8c8c"/><rect x="58.88" y="26.73" width="9.04" height="9.03" fill="#8f8f8f"/><rect x="67.62" y="26.73" width="9.04" height="9.03" fill="#8c8c8c"/><rect x="76.36" y="26.73" width="9.04" height="9.03" fill="#8f8f8f"/><rect x="85.10" y="26.73" width="9.04" height="9.03" fill="#8f8f8f"/><rect x="93.84" y="26.73" width="9.04" height="9.03" fill="#8c8c8c"/><rect x="102.58" y="26.73" width="9.04" height="9.03" fill="#8c8c8c"/><rect x="111.32" y="26.73" width="9.04" height="9.03" fill="#808080"/><rect x="120.06" y="26.73" width="9.04" height="9.03" fill="#737373"/><rect x="128.80" y="26.73" width="9.04" height="9.03" fill="#737373"/><rect x="32.66" y="35.46" width="9.04" height="9.03" fill="#737373"/><rect x="41.40" y="35.46" width="9.04" height="9.03" fill="#737373"/><rect x="50.14" y="35.46" width="9.04" height="9.03" fill="#808080"/><rect x="58.88" y="35.46" width="9.04" height="9.03" fill="#8f8f8f"/><rect x="67.62" y="35.46" width="9.04" height="9.03" fill="#8f8f8f"/><rect x="76.36" y="35.46" width="9.04" height="9.03" fill="#808080"/><rect x="85.10" y="35.46" width="9.04" height="9.03" fill="#737373"/><rect x="93.84" y="35.46" width="9.04" height="9.03" fill="#8f8f8f"/><rect x="102.58" y="35.46" width="9.04" height="9.03" fill="#8f8f8f"/><rect x="111.32" y="35.46" width="9.04" height="9.03" fill="#8c8c8c"/><rect x="120.06" y="35.46" width="9.04" height="9.03" fill="#808080"/><rect x="128.80" y="35.46" width="9.04" height="9.03" fill="#808080"/><rect x="32.66" y="44.19" width="9.04" height="9.03" fill="#707070"/><rect x="41.40" y="44.19" width="9.04" height="9.03" fill="#707070"/><rect x="50.14" y="44.19" width="9.04" height="9.03" fill="#575757"/><rect x="58.88" y="44.19" width="9.04" height="9.03" fill="#616161"/><rect x="67.62" y="44.19" width="9.04" height="9.03" fill="#8c8c8c"/><rect x="76.36" y="44.19" width="9.04" height="9.03" fill="#8c8c8c"/><rect x="85.10" y="44.19" width="9.04" height="9.03" fill="#707070"/><rect x="93.84" y="44.19" width="9.04" height="9.03" fill="#858585"/><rect x="102.58" y="44.19" width="9.04" height="9.03" fill="#919191"/><rect x="111.32" y="44.19" width="9.04" height="9.03" fill="#737373"/><rect x="120.06" y="44.19" width="9.04" height="9.03" fill="#737373"/><rect x="128.80" y="44.19" width="9.04" height="9.03" fill="#737373"/><rect x="32.66" y="52.92" width="9.04" height="9.03" fill="#737373"/><rect x="41.40" y="52.92" width="9.04" height="9.03" fill="#737373"/><rect x="50.14" y="52.92" width="9.04" height="9.03" fill="#5e5e5e"/><rect x="58.88" y="52.92" width="9.04" height="9.03" fill="#707070"/><rect x="67.62" y="52.92" width="9.04" height="9.03" fill="#8c8c8c"/><rect x="76.36" y="52.92" width="9.04" height="9.03" fill="#808080"/><rect x="85.10" y="52.92" width="9.04" height="9.03" fill="#7a7a7a"/><rect x="93.84" y="52.92" width="9.04" height="9.03" fill="#8c8c8c"/><rect x="102.58" y="52.92" width="9.04" height="9.03" fill="#8c8c8c"/><rect x="111.32" y="52.92" width="9.04" height="9.03" fill="#919191"/><rect x="120.06" y="52.92" width="9.04" height="9.03" fill="#949494"/><rect x="128.80" y="52.92" width="9.04" height="9.03" fill="#949494"/><rect x="32.66" y="61.65" width="9.04" height="9.03" fill="#737373"/><rect x="41.40" y="61.65" width="9.04" height="9.03" fill="#737373"/><rect x="50.14" y="61.65" width="9.04" height="9.03" fill="#737373"/><rect x="58.88" y="61.65" width="9.04" height="9.03" fill="#737373"/><rect x="67.62" y="61.65" width="9.04" height="9.03" fill="#8a8a8a"/><rect x="76.36" y="61.65" width="9.04" height="9.03" fill="#858585"/><rect x="85.10" y="61.65" width="9.04" height="9.03" fill="#8c8c8c"/><rect x="93.84" y="61.65" width="9.04" height="9.03" fill="#919191"/><rect x="102.58" y="61.65" width="9.04" height="9.03" fill="#8c8c8c"/><rect x="111.32" y="61.65" width="9.04" height="9.03" fill="#808080"/><rect x="120.06" y="61.65" width="9.04" height="9.03" fill="#808080"/><rect x="128.80" y="61.65" width="9.04" height="9.03" fill="#808080"/><rect x="32.66" y="70.38" width="9.04" height="9.03" fill="#8c8c8c"/><rect x="41.40" y="70.38" width="9.04" height="9.03" fill="#8c8c8c"/><rect x="50.14" y="70.38" width="9.04" height="9.03" fill="#8c8c8c"/><rect x="58.88" y="70.38" width="9.04" height="9.03" fill="#808080"/><rect x="67.62" y="70.38" width="9.04" height="9.03" fill="#737373"/><rect x="76.36" y="70.38" width="9.04" height="9.03" fill="#8c8c8c"/><rect x="85.10" y="70.38" width="9.04" height="9.03" fill="#737373"/><rect x="93.84" y="70.38" width="9.04" height="9.03" fill="#808080"/><rect x="102.58" y="70.38" width="9.04" height="9.03" fill="#8c8c8c"/><rect x="111.32" y="70.38" width="9.04" height="9.03" fill="#8c8c8c"/><rect x="120.06" y="70.38" width="9.04" height="9.03" fill="#757575"/><rect x="128.80" y="70.38" width="9.04" height="9.03" fill="#757575"/><rect x="32.66" y="79.11" width="9.04" height="9.03" fill="#858585"/><rect x="41.40" y="79.11" width="9.04" height="9.03" fill="#858585"/><rect x="50.14" y="79.11" width="9.04" height="9.03" fill="#8c8c8c"/><rect x="58.88" y="79.11" width="9.04" height="9.03" fill="#8c8c8c"/><rect x="67.62" y="79.11" width="9.04" height="9.03" fill="#737373"/><rect x="76.36" y="79.11" width="9.04" height="9.03" fill="#737373"/><rect x="85.10" y="79.11" width="9.04" height="9.03" fill="#696969"/><rect x="93.84" y="79.11" width="9.04" height="9.03" fill="#707070"/><rect x="102.58" y="79.11" width="9.04" height="9.03" fill="#8c8c8c"/><rect x="111.32" y="79.11" width="9.04" height="9.03" fill="#8c8c8c"/><rect x="120.06" y="79.11" width="9.04" height="9.03" fill="#808080"/><rect x="128.80" y="79.11" width="9.04" height="9.03" fill="#808080"/><rect x="32.66" y="87.84" width="9.04" height="9.03" fill="#a3a3a3"/><rect x="41.40" y="87.84" width="9.04" height="9.03" fill="#a3a3a3"/><rect x="50.14" y="87.84" width="9.04" height="9.03" fill="#666666"/><rect x="58.88" y="87.84" width="9.04" height="9.03" fill="#8c8c8c"/><rect x="67.62" y="87.84" width="9.04" height="9.03" fill="#919191"/><rect x="76.36" y="87.84" width="9.04" height="9.03" fill="#737373"/><rect x="85.10" y="87.84" width="9.04" height="9.03" fill="#737373"/><rect x="93.84" y="87.84" width="9.04" height="9.03" fill="#696969"/><rect x="102.58" y="87.84" width="9.04" height="9.03" fill="#737373"/><rect x="111.32" y="87.84" width="9.04" height="9.03" fill="#808080"/><rect x="120.06" y="87.84" width="9.04" height="9.03" fill="#737373"/><rect x="128.80" y="87.84" width="9.04" height="9.03" fill="#737373"/><rect x="32.66" y="96.57" width="9.04" height="9.03" fill="#a3a3a3"/><rect x="41.40" y="96.57" width="9.04" height="9.03" fill="#a3a3a3"/><rect x="50.14" y="96.57" width="9.04" height="9.03" fill="#616161"/><rect x="58.88" y="96.57" width="9.04" height="9.03" fill="#8c8c8c"/><rect x="67.62" y="96.57" width="9.04" height="9.03" fill="#8c8c8c"/><rect x="76.36" y="96.57" width="9.04" height="9.03" fill="#737373"/><rect x="85.10" y="96.57" width="9.04" height="9.03" fill="#8a8a8a"/><rect x="93.84" y="96.57" width="9.04" height="9.03" fill="#8c8c8c"/><rect x="102.58" y="96.57" width="9.04" height="9.03" fill="#858585"/><rect x="111.32" y="96.57" width="9.04" height="9.03" fill="#737373"/><rect x="120.06" y="96.57" width="9.04" height="9.03" fill="#808080"/><rect x="128.80" y="96.57" width="9.04" height="9.03" fill="#808080"/><rect x="32.66" y="105.30" width="9.04" height="9.03" fill="#a3a3a3"/><rect x="41.40" y="105.30" width="9.04" height="9.03" fill="#a3a3a3"/><rect x="50.14" y="105.30" width="9.04" height="9.03" fill="#616161"/><rect x="58.88" y="105.30" width="9.04" height="9.03" fill="#8c8c8c"/><rect x="67.62" y="105.30" width="9.04" height="9.03" fill="#8c8c8c"/><rect x="76.36" y="105.30" width="9.04" height="9.03" fill="#737373"/><rect x="85.10" y="105.30" width="9.04" height="9.03" fill="#8a8a8a"/><rect x="93.84" y="105.30" width="9.04" height="9.03" fill="#8c8c8c"/><rect x="102.58" y="105.30" width="9.04" height="9.03" fill="#858585"/><rect x="111.32" y="105.30" width="9.04" height="9.03" fill="#737373"/><rect x="120.06" y="105.30" width="9.04" height="9.03" fill="#808080"/><rect x="128.80" y="105.30" width="9.04" height="9.03" fill="#808080"/></g></g></g></g>
<path d="M79.4 144.3v-5.2" stroke="#d86030" stroke-width="1.27" opacity="0.90"/><path d="M76.9 145.8v-2.2" stroke="#b83a1c" stroke-width="0.96" opacity="0.90"/><path d="M83.8 146.3v-6.9" stroke="#c84020" stroke-width="0.96" opacity="0.90"/><path d="M78.3 146.3v-1.7" stroke="#e06a2c" stroke-width="1.05" opacity="0.90"/><path d="M90.6 147.9v-1.7" stroke="#d86030" stroke-width="0.90" opacity="0.90"/><path d="M81.4 148.4v-1.0" stroke="#e06a2c" stroke-width="0.96" opacity="0.90"/><path d="M78.4 149.5v-5.6" stroke="#b83a1c" stroke-width="1.06" opacity="0.90"/><path d="M69.1 149.6v-1.7" stroke="#e06a2c" stroke-width="0.86" opacity="0.90"/><path d="M69.0 149.9v-6.5" stroke="#d86030" stroke-width="0.84" opacity="0.90"/><path d="M80.4 150.1v-6.4" stroke="#d86030" stroke-width="1.20" opacity="0.90"/><path d="M76.8 150.6v-1.6" stroke="#d85a28" stroke-width="0.86" opacity="0.90"/><path d="M82.8 150.8v-5.9" stroke="#e06a2c" stroke-width="1.18" opacity="0.90"/><path d="M62.1 151.8v-5.7" stroke="#e06a2c" stroke-width="1.25" opacity="0.90"/><path d="M94.5 151.9v-1.6" stroke="#d04a22" stroke-width="0.84" opacity="0.90"/><path d="M67.6 152.1v-1.2" stroke="#c84020" stroke-width="1.15" opacity="0.90"/><path d="M75.8 152.2v-1.5" stroke="#d04a22" stroke-width="1.27" opacity="0.90"/><path d="M60.8 152.4v-1.0" stroke="#e07a30" stroke-width="1.19" opacity="0.90"/><path d="M76.3 152.6v-1.1" stroke="#b83a1c" stroke-width="1.17" opacity="0.90"/><path d="M60.4 152.6v-5.1" stroke="#e07a30" stroke-width="1.22" opacity="0.90"/><path d="M71.0 152.7v-7.0" stroke="#d04a22" stroke-width="1.08" opacity="0.90"/><path d="M81.3 152.7v-1.2" stroke="#c84020" stroke-width="1.16" opacity="0.90"/><path d="M65.3 153.6v-3.8" stroke="#b83a1c" stroke-width="0.85" opacity="0.90"/><path d="M65.3 151.1v-1.3" stroke="#f0c0b0" stroke-width="0.77" opacity="0.85"/><path d="M89.9 153.7v-4.0" stroke="#e07a30" stroke-width="1.03" opacity="0.90"/><path d="M77.9 153.9v-1.3" stroke="#e07a30" stroke-width="0.90" opacity="0.90"/><path d="M57.8 154.0v-5.4" stroke="#e06a2c" stroke-width="0.89" opacity="0.90"/><path d="M67.9 154.1v-3.0" stroke="#d04a22" stroke-width="1.11" opacity="0.90"/><path d="M77.9 154.1v-6.7" stroke="#b83a1c" stroke-width="1.15" opacity="0.90"/><path d="M75.3 154.2v-1.3" stroke="#b83a1c" stroke-width="0.91" opacity="0.90"/><path d="M101.0 154.5v-2.1" stroke="#d85a28" stroke-width="1.21" opacity="0.90"/><path d="M59.5 154.7v-6.9" stroke="#e06a2c" stroke-width="0.81" opacity="0.90"/><path d="M94.9 154.8v-5.4" stroke="#d04a22" stroke-width="0.82" opacity="0.90"/><path d="M62.0 154.9v-4.2" stroke="#b83a1c" stroke-width="1.12" opacity="0.90"/><path d="M62.0 152.2v-1.5" stroke="#f0c0b0" stroke-width="1.01" opacity="0.85"/><path d="M57.5 155.0v-1.3" stroke="#d04a22" stroke-width="1.04" opacity="0.90"/><path d="M100.6 155.2v-3.8" stroke="#e07a30" stroke-width="1.02" opacity="0.90"/><path d="M81.0 155.2v-1.1" stroke="#d85a28" stroke-width="0.87" opacity="0.90"/><path d="M98.3 155.4v-2.7" stroke="#e07a30" stroke-width="1.05" opacity="0.90"/><path d="M93.4 155.4v-3.7" stroke="#e07a30" stroke-width="1.10" opacity="0.90"/><path d="M106.6 155.5v-6.0" stroke="#d04a22" stroke-width="1.03" opacity="0.90"/><path d="M106.3 155.8v-1.4" stroke="#d86030" stroke-width="1.00" opacity="0.90"/><path d="M84.1 155.9v-6.2" stroke="#b83a1c" stroke-width="0.83" opacity="0.90"/><path d="M84.6 156.1v-1.0" stroke="#e07a30" stroke-width="0.91" opacity="0.90"/><path d="M68.3 156.2v-2.2" stroke="#d04a22" stroke-width="1.25" opacity="0.90"/><path d="M63.6 156.3v-1.0" stroke="#e06a2c" stroke-width="0.86" opacity="0.90"/><path d="M91.7 156.8v-3.2" stroke="#c84020" stroke-width="0.90" opacity="0.90"/><path d="M104.8 156.9v-2.3" stroke="#b83a1c" stroke-width="1.13" opacity="0.90"/><path d="M60.0 157.0v-1.0" stroke="#e07a30" stroke-width="1.17" opacity="0.90"/><path d="M59.7 157.2v-4.8" stroke="#d04a22" stroke-width="0.91" opacity="0.90"/><path d="M69.9 157.8v-1.0" stroke="#e07a30" stroke-width="0.93" opacity="0.90"/><path d="M53.1 157.9v-1.2" stroke="#e06a2c" stroke-width="0.81" opacity="0.90"/><path d="M75.2 157.9v-3.7" stroke="#b83a1c" stroke-width="1.20" opacity="0.90"/><path d="M63.4 158.3v-1.0" stroke="#b83a1c" stroke-width="1.09" opacity="0.90"/><path d="M50.4 158.6v-1.0" stroke="#d86030" stroke-width="1.04" opacity="0.90"/><path d="M79.6 158.7v-6.1" stroke="#d86030" stroke-width="1.21" opacity="0.90"/><path d="M85.0 158.7v-2.0" stroke="#c84020" stroke-width="1.03" opacity="0.90"/><path d="M108.8 158.8v-2.8" stroke="#b83a1c" stroke-width="0.81" opacity="0.90"/><path d="M91.6 159.1v-4.0" stroke="#c84020" stroke-width="0.84" opacity="0.90"/><path d="M57.9 159.6v-3.8" stroke="#b83a1c" stroke-width="0.95" opacity="0.90"/><path d="M58.0 159.7v-1.0" stroke="#c84020" stroke-width="1.16" opacity="0.90"/><path d="M104.6 159.9v-1.1" stroke="#e06a2c" stroke-width="1.05" opacity="0.90"/><path d="M71.6 160.1v-2.7" stroke="#d86030" stroke-width="1.16" opacity="0.90"/><path d="M116.5 160.4v-1.1" stroke="#e07a30" stroke-width="1.24" opacity="0.90"/><path d="M73.5 160.5v-1.3" stroke="#d86030" stroke-width="1.24" opacity="0.90"/><path d="M110.6 160.7v-3.1" stroke="#c84020" stroke-width="0.81" opacity="0.90"/><path d="M81.4 160.7v-1.3" stroke="#b83a1c" stroke-width="1.19" opacity="0.90"/><path d="M97.5 161.0v-2.3" stroke="#d85a28" stroke-width="0.89" opacity="0.90"/><path d="M95.5 161.1v-1.5" stroke="#d86030" stroke-width="1.11" opacity="0.90"/><path d="M84.3 161.1v-2.2" stroke="#c84020" stroke-width="1.03" opacity="0.90"/><path d="M49.2 161.2v-1.1" stroke="#e07a30" stroke-width="1.01" opacity="0.90"/><path d="M53.1 161.4v-1.6" stroke="#e07a30" stroke-width="1.21" opacity="0.90"/><path d="M92.1 161.7v-2.6" stroke="#d86030" stroke-width="1.29" opacity="0.90"/><path d="M47.1 161.8v-2.8" stroke="#b83a1c" stroke-width="0.97" opacity="0.90"/><path d="M94.2 162.1v-5.7" stroke="#c84020" stroke-width="0.85" opacity="0.90"/><path d="M94.2 158.4v-2.0" stroke="#f0c0b0" stroke-width="0.77" opacity="0.85"/><path d="M95.3 162.4v-3.1" stroke="#e07a30" stroke-width="1.13" opacity="0.90"/><path d="M107.0 162.5v-1.0" stroke="#b83a1c" stroke-width="1.22" opacity="0.90"/><path d="M57.2 162.7v-5.1" stroke="#e07a30" stroke-width="0.98" opacity="0.90"/><path d="M97.6 163.0v-2.2" stroke="#c84020" stroke-width="1.05" opacity="0.90"/><path d="M91.9 163.1v-6.4" stroke="#e06a2c" stroke-width="1.16" opacity="0.90"/><path d="M115.9 163.2v-1.0" stroke="#c84020" stroke-width="1.17" opacity="0.90"/><path d="M102.8 163.4v-6.6" stroke="#d85a28" stroke-width="1.20" opacity="0.90"/><path d="M56.1 163.6v-1.0" stroke="#c84020" stroke-width="1.27" opacity="0.90"/><path d="M77.0 163.7v-1.1" stroke="#c84020" stroke-width="1.24" opacity="0.90"/><path d="M111.8 163.7v-2.4" stroke="#d04a22" stroke-width="0.85" opacity="0.90"/><path d="M90.9 163.8v-1.4" stroke="#d04a22" stroke-width="0.88" opacity="0.90"/><path d="M85.6 163.8v-5.7" stroke="#d86030" stroke-width="0.95" opacity="0.90"/><path d="M120.2 164.0v-4.8" stroke="#c84020" stroke-width="1.11" opacity="0.90"/><path d="M60.5 164.3v-2.3" stroke="#c84020" stroke-width="1.23" opacity="0.90"/><path d="M44.7 164.4v-2.4" stroke="#e07a30" stroke-width="1.25" opacity="0.90"/><path d="M62.6 164.5v-3.0" stroke="#d86030" stroke-width="1.07" opacity="0.90"/><path d="M68.9 164.7v-4.9" stroke="#d04a22" stroke-width="1.27" opacity="0.90"/><path d="M68.9 161.5v-1.7" stroke="#f0c0b0" stroke-width="1.15" opacity="0.85"/><path d="M72.5 164.7v-1.5" stroke="#d04a22" stroke-width="1.01" opacity="0.90"/><path d="M59.5 164.8v-2.6" stroke="#e06a2c" stroke-width="1.02" opacity="0.90"/><path d="M111.4 165.0v-1.3" stroke="#d85a28" stroke-width="0.99" opacity="0.90"/><path d="M101.1 165.2v-6.0" stroke="#e07a30" stroke-width="1.20" opacity="0.90"/><path d="M100.1 165.2v-2.8" stroke="#e07a30" stroke-width="0.92" opacity="0.90"/><path d="M115.2 165.4v-1.1" stroke="#e06a2c" stroke-width="1.19" opacity="0.90"/><path d="M76.7 165.5v-2.8" stroke="#d04a22" stroke-width="0.84" opacity="0.90"/><path d="M75.2 165.8v-3.3" stroke="#d85a28" stroke-width="1.01" opacity="0.90"/><path d="M75.2 163.7v-1.1" stroke="#f0c0b0" stroke-width="0.91" opacity="0.85"/><path d="M62.6 165.8v-3.2" stroke="#d86030" stroke-width="0.84" opacity="0.90"/><path d="M87.7 166.4v-1.3" stroke="#d85a28" stroke-width="1.02" opacity="0.90"/><path d="M65.0 166.5v-1.0" stroke="#b83a1c" stroke-width="1.23" opacity="0.90"/><path d="M73.4 166.5v-2.2" stroke="#d86030" stroke-width="0.97" opacity="0.90"/><path d="M39.8 166.9v-1.4" stroke="#b83a1c" stroke-width="1.24" opacity="0.90"/><path d="M95.4 167.0v-1.3" stroke="#d04a22" stroke-width="0.93" opacity="0.90"/><path d="M56.7 167.0v-1.0" stroke="#d86030" stroke-width="1.08" opacity="0.90"/><path d="M54.1 167.1v-2.3" stroke="#e06a2c" stroke-width="1.12" opacity="0.90"/><path d="M55.0 167.1v-3.6" stroke="#b83a1c" stroke-width="0.83" opacity="0.90"/><path d="M104.8 167.2v-3.1" stroke="#e06a2c" stroke-width="0.88" opacity="0.90"/><path d="M102.7 167.2v-5.8" stroke="#c84020" stroke-width="0.95" opacity="0.90"/><path d="M69.2 167.3v-1.7" stroke="#d04a22" stroke-width="1.06" opacity="0.90"/><path d="M71.8 167.3v-1.7" stroke="#d86030" stroke-width="1.18" opacity="0.90"/><path d="M105.2 167.4v-1.7" stroke="#b83a1c" stroke-width="1.29" opacity="0.90"/><path d="M76.8 167.7v-6.2" stroke="#d85a28" stroke-width="0.89" opacity="0.90"/><path d="M70.8 167.7v-1.4" stroke="#c84020" stroke-width="1.10" opacity="0.90"/><path d="M80.4 167.9v-1.0" stroke="#e07a30" stroke-width="0.86" opacity="0.90"/><path d="M51.4 168.1v-4.1" stroke="#e06a2c" stroke-width="0.85" opacity="0.90"/><path d="M57.9 168.3v-1.2" stroke="#d86030" stroke-width="0.94" opacity="0.90"/><path d="M75.3 168.3v-1.9" stroke="#d86030" stroke-width="1.21" opacity="0.90"/><path d="M93.8 168.3v-2.4" stroke="#d04a22" stroke-width="1.16" opacity="0.90"/><path d="M57.4 168.4v-3.0" stroke="#d85a28" stroke-width="1.11" opacity="0.90"/><path d="M122.7 168.7v-1.9" stroke="#d04a22" stroke-width="0.98" opacity="0.90"/><path d="M83.2 168.9v-1.0" stroke="#d86030" stroke-width="1.11" opacity="0.90"/><path d="M96.1 168.9v-1.0" stroke="#b83a1c" stroke-width="0.82" opacity="0.90"/><path d="M72.2 169.1v-5.9" stroke="#e06a2c" stroke-width="0.89" opacity="0.90"/><path d="M79.5 169.1v-1.1" stroke="#c84020" stroke-width="1.09" opacity="0.90"/><path d="M118.9 169.3v-1.7" stroke="#c84020" stroke-width="0.89" opacity="0.90"/><path d="M49.0 169.4v-1.4" stroke="#d04a22" stroke-width="0.82" opacity="0.90"/><path d="M66.0 169.4v-3.7" stroke="#e06a2c" stroke-width="0.82" opacity="0.90"/><path d="M83.3 169.5v-1.1" stroke="#c84020" stroke-width="1.17" opacity="0.90"/><path d="M42.5 169.5v-1.4" stroke="#b83a1c" stroke-width="1.01" opacity="0.90"/><path d="M90.1 169.5v-1.0" stroke="#b83a1c" stroke-width="0.91" opacity="0.90"/><path d="M121.8 169.7v-1.3" stroke="#c84020" stroke-width="0.91" opacity="0.90"/><path d="M80.3 169.8v-1.3" stroke="#c84020" stroke-width="1.19" opacity="0.90"/><path d="M116.2 169.9v-1.0" stroke="#d86030" stroke-width="1.00" opacity="0.90"/><path d="M43.2 170.0v-1.0" stroke="#d86030" stroke-width="1.29" opacity="0.90"/><path d="M63.1 170.1v-3.0" stroke="#e07a30" stroke-width="1.17" opacity="0.90"/><path d="M50.8 170.2v-4.3" stroke="#e07a30" stroke-width="1.02" opacity="0.90"/><path d="M71.7 170.3v-1.8" stroke="#d04a22" stroke-width="1.28" opacity="0.90"/><path d="M112.5 170.3v-1.5" stroke="#d85a28" stroke-width="0.94" opacity="0.90"/><path d="M87.2 170.7v-1.9" stroke="#d86030" stroke-width="1.15" opacity="0.90"/><path d="M45.2 170.8v-3.1" stroke="#d85a28" stroke-width="1.07" opacity="0.90"/><path d="M69.1 170.8v-1.0" stroke="#d04a22" stroke-width="0.86" opacity="0.90"/><path d="M127.1 170.8v-3.0" stroke="#c84020" stroke-width="0.92" opacity="0.90"/><path d="M77.5 171.0v-1.3" stroke="#e06a2c" stroke-width="1.30" opacity="0.90"/><path d="M114.8 171.1v-1.1" stroke="#c84020" stroke-width="0.87" opacity="0.90"/><path d="M60.6 171.2v-2.2" stroke="#c84020" stroke-width="1.09" opacity="0.90"/><path d="M63.8 171.3v-1.4" stroke="#c84020" stroke-width="0.93" opacity="0.90"/><path d="M125.2 171.4v-1.0" stroke="#e07a30" stroke-width="0.85" opacity="0.90"/><path d="M86.1 171.4v-1.1" stroke="#d04a22" stroke-width="0.81" opacity="0.90"/><path d="M37.3 171.6v-6.3" stroke="#b83a1c" stroke-width="0.86" opacity="0.90"/><path d="M91.9 172.3v-1.5" stroke="#c84020" stroke-width="0.97" opacity="0.90"/><path d="M78.1 172.4v-1.0" stroke="#e06a2c" stroke-width="0.90" opacity="0.90"/><path d="M117.0 172.4v-5.3" stroke="#c84020" stroke-width="1.11" opacity="0.90"/><path d="M76.2 172.6v-6.5" stroke="#d04a22" stroke-width="1.11" opacity="0.90"/><path d="M77.6 172.8v-1.6" stroke="#d04a22" stroke-width="1.21" opacity="0.90"/><path d="M103.5 172.9v-1.0" stroke="#d86030" stroke-width="1.24" opacity="0.90"/><path d="M100.5 173.0v-1.7" stroke="#e07a30" stroke-width="1.10" opacity="0.90"/><path d="M112.0 173.3v-2.5" stroke="#e07a30" stroke-width="0.97" opacity="0.90"/><path d="M86.1 173.4v-1.0" stroke="#b83a1c" stroke-width="1.06" opacity="0.90"/><path d="M49.7 173.4v-3.6" stroke="#e06a2c" stroke-width="1.26" opacity="0.90"/><path d="M56.7 173.8v-1.1" stroke="#d04a22" stroke-width="0.92" opacity="0.90"/><path d="M50.4 173.8v-2.5" stroke="#c84020" stroke-width="1.21" opacity="0.90"/><path d="M102.1 173.9v-2.3" stroke="#e07a30" stroke-width="1.09" opacity="0.90"/><path d="M30.2 173.9v-6.0" stroke="#d85a28" stroke-width="1.29" opacity="0.90"/><path d="M41.3 174.0v-1.2" stroke="#e07a30" stroke-width="0.90" opacity="0.90"/><path d="M29.8 174.1v-3.6" stroke="#b83a1c" stroke-width="1.25" opacity="0.90"/><path d="M51.2 174.1v-1.5" stroke="#d04a22" stroke-width="1.04" opacity="0.90"/><path d="M61.8 174.3v-1.2" stroke="#d85a28" stroke-width="1.22" opacity="0.90"/><path d="M111.8 174.4v-1.7" stroke="#b83a1c" stroke-width="1.29" opacity="0.90"/><path d="M36.0 174.8v-2.7" stroke="#d86030" stroke-width="1.00" opacity="0.90"/><path d="M28.8 174.9v-3.1" stroke="#e07a30" stroke-width="1.09" opacity="0.90"/><path d="M77.9 175.1v-6.0" stroke="#b83a1c" stroke-width="0.98" opacity="0.90"/><path d="M61.4 175.2v-4.4" stroke="#d86030" stroke-width="1.10" opacity="0.90"/><path d="M50.0 175.3v-3.9" stroke="#e07a30" stroke-width="1.27" opacity="0.90"/><path d="M125.7 175.8v-4.4" stroke="#e07a30" stroke-width="0.93" opacity="0.90"/><path d="M122.4 176.2v-3.0" stroke="#d86030" stroke-width="1.14" opacity="0.90"/><path d="M122.4 174.2v-1.0" stroke="#f0c0b0" stroke-width="1.03" opacity="0.85"/><path d="M83.1 176.3v-1.0" stroke="#d85a28" stroke-width="0.98" opacity="0.90"/><path d="M81.7 176.4v-3.7" stroke="#d85a28" stroke-width="0.82" opacity="0.90"/><path d="M98.0 176.5v-2.9" stroke="#e06a2c" stroke-width="1.19" opacity="0.90"/><path d="M70.3 176.6v-1.0" stroke="#e07a30" stroke-width="1.24" opacity="0.90"/><path d="M109.9 176.7v-4.4" stroke="#e07a30" stroke-width="0.83" opacity="0.90"/><path d="M30.6 176.7v-2.7" stroke="#d04a22" stroke-width="0.91" opacity="0.90"/><path d="M127.0 176.8v-2.7" stroke="#d86030" stroke-width="0.88" opacity="0.90"/><path d="M82.5 176.8v-1.9" stroke="#e06a2c" stroke-width="1.07" opacity="0.90"/><path d="M54.2 176.9v-1.9" stroke="#d85a28" stroke-width="1.17" opacity="0.90"/><path d="M38.6 177.0v-5.5" stroke="#c84020" stroke-width="0.90" opacity="0.90"/><path d="M98.2 177.0v-2.2" stroke="#c84020" stroke-width="1.18" opacity="0.90"/><path d="M128.6 177.1v-1.2" stroke="#d04a22" stroke-width="1.20" opacity="0.90"/><path d="M32.3 177.4v-1.0" stroke="#b83a1c" stroke-width="1.25" opacity="0.90"/><path d="M76.2 177.5v-2.9" stroke="#e07a30" stroke-width="0.85" opacity="0.90"/><path d="M42.9 177.5v-4.4" stroke="#c84020" stroke-width="1.30" opacity="0.90"/><path d="M95.9 177.5v-2.6" stroke="#e07a30" stroke-width="1.24" opacity="0.90"/><path d="M131.9 177.6v-6.0" stroke="#c84020" stroke-width="1.27" opacity="0.90"/><path d="M57.4 177.7v-3.8" stroke="#d04a22" stroke-width="1.01" opacity="0.90"/><path d="M87.5 177.7v-1.4" stroke="#d04a22" stroke-width="1.25" opacity="0.90"/><path d="M92.5 177.9v-2.6" stroke="#d04a22" stroke-width="0.98" opacity="0.90"/><path d="M56.2 177.9v-1.4" stroke="#d04a22" stroke-width="1.19" opacity="0.90"/><path d="M61.9 178.0v-5.0" stroke="#d85a28" stroke-width="1.13" opacity="0.90"/><path d="M94.5 178.0v-3.6" stroke="#e06a2c" stroke-width="1.00" opacity="0.90"/><path d="M113.0 178.1v-4.3" stroke="#e07a30" stroke-width="1.10" opacity="0.90"/><path d="M120.4 178.1v-1.1" stroke="#e07a30" stroke-width="0.98" opacity="0.90"/><path d="M96.0 178.2v-1.3" stroke="#b83a1c" stroke-width="1.17" opacity="0.90"/><path d="M45.1 178.2v-1.0" stroke="#d85a28" stroke-width="0.87" opacity="0.90"/><path d="M60.7 178.3v-3.6" stroke="#d85a28" stroke-width="1.12" opacity="0.90"/><path d="M117.0 178.5v-4.7" stroke="#d85a28" stroke-width="0.85" opacity="0.90"/><path d="M38.7 178.5v-3.4" stroke="#b83a1c" stroke-width="0.84" opacity="0.90"/><path d="M38.7 176.3v-1.2" stroke="#f0c0b0" stroke-width="0.76" opacity="0.85"/><path d="M85.9 178.6v-1.8" stroke="#d85a28" stroke-width="0.94" opacity="0.90"/><path d="M53.5 179.0v-1.8" stroke="#d86030" stroke-width="0.83" opacity="0.90"/><path d="M77.3 179.0v-2.8" stroke="#e07a30" stroke-width="1.01" opacity="0.90"/><path d="M77.3 177.2v-1.0" stroke="#f0c0b0" stroke-width="0.91" opacity="0.85"/><path d="M25.2 179.0v-1.3" stroke="#d04a22" stroke-width="1.29" opacity="0.90"/><path d="M108.0 179.2v-4.0" stroke="#d85a28" stroke-width="1.16" opacity="0.90"/><path d="M108.0 176.6v-1.4" stroke="#f0c0b0" stroke-width="1.05" opacity="0.85"/><path d="M133.6 179.4v-3.1" stroke="#e06a2c" stroke-width="0.88" opacity="0.90"/><path d="M81.6 179.5v-1.0" stroke="#e06a2c" stroke-width="0.95" opacity="0.90"/><path d="M45.7 179.5v-1.8" stroke="#e06a2c" stroke-width="1.28" opacity="0.90"/><path d="M29.3 179.5v-1.7" stroke="#d86030" stroke-width="1.17" opacity="0.90"/><path d="M54.8 179.6v-1.7" stroke="#d85a28" stroke-width="1.28" opacity="0.90"/><path d="M121.6 179.7v-1.1" stroke="#e07a30" stroke-width="0.89" opacity="0.90"/><path d="M80.8 179.7v-1.4" stroke="#b83a1c" stroke-width="0.87" opacity="0.90"/><path d="M33.9 179.7v-3.5" stroke="#d85a28" stroke-width="0.88" opacity="0.90"/><path d="M108.8 179.9v-5.3" stroke="#e07a30" stroke-width="1.10" opacity="0.90"/><path d="M63.3 179.9v-6.4" stroke="#d04a22" stroke-width="1.16" opacity="0.90"/><path d="M63.3 175.5v-2.0" stroke="#f0c0b0" stroke-width="1.04" opacity="0.85"/><path d="M53.3 180.1v-5.0" stroke="#c84020" stroke-width="1.24" opacity="0.90"/><path d="M114.8 180.2v-2.6" stroke="#d86030" stroke-width="0.85" opacity="0.90"/><path d="M61.9 180.4v-4.5" stroke="#d04a22" stroke-width="1.21" opacity="0.90"/><path d="M80.0 180.6v-6.8" stroke="#b83a1c" stroke-width="1.21" opacity="0.90"/><path d="M42.8 180.7v-1.0" stroke="#d04a22" stroke-width="1.07" opacity="0.90"/><path d="M108.5 180.7v-2.5" stroke="#c84020" stroke-width="1.12" opacity="0.90"/><path d="M106.7 180.8v-4.4" stroke="#c84020" stroke-width="0.92" opacity="0.90"/><path d="M128.8 181.0v-1.9" stroke="#d85a28" stroke-width="0.90" opacity="0.90"/><path d="M35.3 181.0v-6.7" stroke="#d04a22" stroke-width="1.02" opacity="0.90"/><path d="M100.9 181.1v-4.4" stroke="#e07a30" stroke-width="1.26" opacity="0.90"/><path d="M100.9 178.2v-1.5" stroke="#f0c0b0" stroke-width="1.14" opacity="0.85"/><path d="M80.1 181.2v-1.7" stroke="#d86030" stroke-width="0.97" opacity="0.90"/><path d="M75.0 181.2v-5.9" stroke="#e07a30" stroke-width="1.22" opacity="0.90"/><path d="M103.0 181.4v-1.6" stroke="#b83a1c" stroke-width="1.30" opacity="0.90"/><path d="M37.3 181.5v-1.0" stroke="#d04a22" stroke-width="1.13" opacity="0.90"/><path d="M68.9 181.6v-2.0" stroke="#b83a1c" stroke-width="0.96" opacity="0.90"/><path d="M97.1 181.7v-6.6" stroke="#c84020" stroke-width="1.17" opacity="0.90"/><path d="M114.7 181.7v-3.8" stroke="#b83a1c" stroke-width="0.88" opacity="0.90"/><path d="M138.7 181.7v-2.4" stroke="#e07a30" stroke-width="1.06" opacity="0.90"/><path d="M103.0 181.8v-1.2" stroke="#e07a30" stroke-width="0.88" opacity="0.90"/><path d="M29.4 181.8v-1.3" stroke="#d04a22" stroke-width="0.96" opacity="0.90"/><path d="M47.4 181.8v-1.5" stroke="#d85a28" stroke-width="1.12" opacity="0.90"/><path d="M106.0 181.8v-1.3" stroke="#e07a30" stroke-width="1.09" opacity="0.90"/><path d="M108.3 181.9v-1.8" stroke="#b83a1c" stroke-width="1.23" opacity="0.90"/><path d="M79.4 182.0v-2.6" stroke="#d85a28" stroke-width="1.04" opacity="0.90"/><path d="M35.5 182.1v-3.0" stroke="#d04a22" stroke-width="0.86" opacity="0.90"/><path d="M75.7 182.3v-4.4" stroke="#d04a22" stroke-width="1.20" opacity="0.90"/><path d="M114.7 182.3v-5.8" stroke="#b83a1c" stroke-width="0.81" opacity="0.90"/><path d="M114.7 178.6v-2.0" stroke="#f0c0b0" stroke-width="0.73" opacity="0.85"/><path d="M108.9 182.4v-1.4" stroke="#d85a28" stroke-width="0.94" opacity="0.90"/><path d="M63.0 182.5v-5.8" stroke="#d86030" stroke-width="1.28" opacity="0.90"/><path d="M85.8 182.6v-2.6" stroke="#b83a1c" stroke-width="0.81" opacity="0.90"/><path d="M33.1 182.7v-2.4" stroke="#b83a1c" stroke-width="0.99" opacity="0.90"/><path d="M138.8 183.1v-1.0" stroke="#d85a28" stroke-width="0.94" opacity="0.90"/><path d="M106.3 183.1v-3.9" stroke="#d04a22" stroke-width="0.94" opacity="0.90"/><path d="M95.5 183.1v-4.5" stroke="#e07a30" stroke-width="0.81" opacity="0.90"/><path d="M112.2 183.2v-1.0" stroke="#d86030" stroke-width="1.09" opacity="0.90"/><path d="M119.8 183.3v-4.2" stroke="#e07a30" stroke-width="1.14" opacity="0.90"/><path d="M28.5 183.6v-2.5" stroke="#e07a30" stroke-width="0.97" opacity="0.90"/><path d="M53.2 183.7v-3.5" stroke="#c84020" stroke-width="1.25" opacity="0.90"/><path d="M55.6 183.7v-6.1" stroke="#d86030" stroke-width="1.13" opacity="0.90"/><path d="M89.1 183.8v-3.1" stroke="#c84020" stroke-width="1.27" opacity="0.90"/><path d="M108.4 184.0v-2.4" stroke="#e06a2c" stroke-width="0.91" opacity="0.90"/><path d="M83.0 184.0v-6.3" stroke="#d86030" stroke-width="0.85" opacity="0.90"/><path d="M44.5 184.1v-1.0" stroke="#e07a30" stroke-width="0.82" opacity="0.90"/><path d="M32.1 184.4v-4.7" stroke="#d04a22" stroke-width="1.09" opacity="0.90"/><path d="M49.9 184.5v-2.4" stroke="#b83a1c" stroke-width="1.01" opacity="0.90"/><path d="M65.1 184.5v-4.1" stroke="#d85a28" stroke-width="1.24" opacity="0.90"/><path d="M65.4 184.5v-6.1" stroke="#e06a2c" stroke-width="1.08" opacity="0.90"/><path d="M24.7 184.5v-3.2" stroke="#e07a30" stroke-width="0.84" opacity="0.90"/><path d="M116.2 184.6v-6.2" stroke="#d85a28" stroke-width="0.81" opacity="0.90"/><path d="M27.2 184.6v-5.7" stroke="#e06a2c" stroke-width="1.19" opacity="0.90"/><path d="M71.7 185.1v-1.1" stroke="#c84020" stroke-width="1.14" opacity="0.90"/><path d="M82.1 185.5v-1.1" stroke="#e07a30" stroke-width="0.86" opacity="0.90"/><path d="M55.6 185.6v-3.2" stroke="#d04a22" stroke-width="0.85" opacity="0.90"/><path d="M61.5 185.6v-1.0" stroke="#d85a28" stroke-width="1.07" opacity="0.90"/><path d="M99.9 185.6v-3.4" stroke="#d86030" stroke-width="0.99" opacity="0.90"/><path d="M66.6 185.9v-1.3" stroke="#b83a1c" stroke-width="0.89" opacity="0.90"/><path d="M93.8 185.9v-3.0" stroke="#b83a1c" stroke-width="0.86" opacity="0.90"/><path d="M61.6 186.0v-5.1" stroke="#d86030" stroke-width="1.27" opacity="0.90"/><path d="M94.6 186.1v-1.9" stroke="#d86030" stroke-width="1.13" opacity="0.90"/><path d="M122.4 186.1v-1.2" stroke="#d04a22" stroke-width="0.94" opacity="0.90"/><path d="M105.0 186.1v-1.1" stroke="#d85a28" stroke-width="1.17" opacity="0.90"/><path d="M134.3 186.2v-3.9" stroke="#b83a1c" stroke-width="0.92" opacity="0.90"/><path d="M134.3 183.6v-1.4" stroke="#f0c0b0" stroke-width="0.83" opacity="0.85"/><path d="M107.7 186.2v-4.4" stroke="#d86030" stroke-width="1.23" opacity="0.90"/><path d="M36.6 186.3v-2.3" stroke="#e07a30" stroke-width="1.21" opacity="0.90"/><path d="M57.8 186.5v-1.0" stroke="#e06a2c" stroke-width="1.19" opacity="0.90"/><path d="M80.9 187.1v-2.2" stroke="#d04a22" stroke-width="1.15" opacity="0.90"/><path d="M74.8 187.1v-2.2" stroke="#d04a22" stroke-width="1.05" opacity="0.90"/><path d="M51.0 187.4v-1.3" stroke="#d85a28" stroke-width="0.91" opacity="0.90"/><path d="M36.1 187.4v-2.0" stroke="#e06a2c" stroke-width="0.86" opacity="0.90"/><path d="M122.6 187.4v-6.4" stroke="#e07a30" stroke-width="1.10" opacity="0.90"/><path d="M96.0 187.5v-3.2" stroke="#d04a22" stroke-width="0.91" opacity="0.90"/><path d="M79.7 187.6v-2.7" stroke="#d04a22" stroke-width="1.12" opacity="0.90"/><path d="M38.6 187.7v-4.6" stroke="#d85a28" stroke-width="1.16" opacity="0.90"/><path d="M56.6 188.0v-1.2" stroke="#d04a22" stroke-width="1.12" opacity="0.90"/><path d="M96.1 188.1v-1.0" stroke="#d04a22" stroke-width="1.12" opacity="0.90"/><path d="M58.2 188.2v-1.2" stroke="#d86030" stroke-width="1.11" opacity="0.90"/><path d="M93.3 188.2v-3.2" stroke="#e06a2c" stroke-width="1.29" opacity="0.90"/><path d="M89.6 188.2v-4.1" stroke="#e06a2c" stroke-width="1.20" opacity="0.90"/><path d="M89.6 185.5v-1.4" stroke="#f0c0b0" stroke-width="1.08" opacity="0.85"/><path d="M70.5 188.6v-4.6" stroke="#d04a22" stroke-width="0.86" opacity="0.90"/><path d="M103.5 188.9v-1.8" stroke="#d04a22" stroke-width="0.96" opacity="0.90"/><path d="M128.0 189.0v-1.1" stroke="#b83a1c" stroke-width="1.07" opacity="0.90"/><path d="M111.3 189.7v-1.2" stroke="#d85a28" stroke-width="1.16" opacity="0.90"/><path d="M123.3 189.9v-1.9" stroke="#e06a2c" stroke-width="0.84" opacity="0.90"/><path d="M77.6 190.2v-4.6" stroke="#b83a1c" stroke-width="1.20" opacity="0.90"/><path d="M116.0 190.2v-6.7" stroke="#e07a30" stroke-width="1.24" opacity="0.90"/><path d="M43.4 190.2v-4.5" stroke="#c84020" stroke-width="1.13" opacity="0.90"/><path d="M95.4 190.3v-3.5" stroke="#c84020" stroke-width="1.06" opacity="0.90"/><path d="M82.7 190.8v-5.1" stroke="#e07a30" stroke-width="0.84" opacity="0.90"/><path d="M55.5 190.9v-1.6" stroke="#e06a2c" stroke-width="1.15" opacity="0.90"/><path d="M30.7 190.9v-3.8" stroke="#d85a28" stroke-width="1.29" opacity="0.90"/><path d="M54.4 191.7v-5.7" stroke="#e07a30" stroke-width="1.06" opacity="0.90"/><path d="M40.7 191.8v-1.2" stroke="#d04a22" stroke-width="0.85" opacity="0.90"/><path d="M59.2 192.1v-1.4" stroke="#d85a28" stroke-width="1.22" opacity="0.90"/><path d="M76.3 192.3v-4.1" stroke="#c84020" stroke-width="1.14" opacity="0.90"/><path d="M47.0 192.4v-1.5" stroke="#b83a1c" stroke-width="1.01" opacity="0.90"/><path d="M47.3 192.5v-5.9" stroke="#e06a2c" stroke-width="1.22" opacity="0.90"/><path d="M84.2 193.1v-4.6" stroke="#c84020" stroke-width="1.28" opacity="0.90"/><path d="M56.2 193.6v-3.4" stroke="#b83a1c" stroke-width="0.82" opacity="0.90"/><path d="M61.0 193.7v-2.7" stroke="#e06a2c" stroke-width="1.11" opacity="0.90"/><path d="M103.1 193.8v-5.4" stroke="#d86030" stroke-width="0.97" opacity="0.90"/><path d="M33.2 193.8v-1.1" stroke="#d85a28" stroke-width="1.28" opacity="0.90"/><path d="M95.7 194.2v-2.7" stroke="#d04a22" stroke-width="0.89" opacity="0.90"/><path d="M60.2 194.3v-3.3" stroke="#d86030" stroke-width="0.99" opacity="0.90"/><path d="M60.2 192.2v-1.1" stroke="#f0c0b0" stroke-width="0.89" opacity="0.85"/><path d="M48.6 194.4v-2.6" stroke="#c84020" stroke-width="1.16" opacity="0.90"/><path d="M78.8 194.6v-3.1" stroke="#d86030" stroke-width="0.91" opacity="0.90"/><path d="M88.2 194.8v-1.3" stroke="#d86030" stroke-width="0.87" opacity="0.90"/><path d="M112.5 194.9v-6.4" stroke="#d04a22" stroke-width="0.85" opacity="0.90"/><path d="M116.0 195.0v-1.5" stroke="#e06a2c" stroke-width="0.82" opacity="0.90"/><path d="M64.0 195.2v-1.0" stroke="#d86030" stroke-width="0.90" opacity="0.90"/><path d="M98.9 195.4v-2.6" stroke="#b83a1c" stroke-width="1.10" opacity="0.90"/><path d="M41.6 195.4v-1.4" stroke="#d85a28" stroke-width="1.07" opacity="0.90"/><path d="M82.8 195.8v-1.3" stroke="#d04a22" stroke-width="0.91" opacity="0.90"/><path d="M81.9 196.0v-1.8" stroke="#e06a2c" stroke-width="1.08" opacity="0.90"/><path d="M110.6 196.3v-1.3" stroke="#e07a30" stroke-width="1.07" opacity="0.90"/><path d="M60.4 196.4v-2.2" stroke="#b83a1c" stroke-width="1.02" opacity="0.90"/><path d="M82.7 196.5v-4.1" stroke="#e07a30" stroke-width="1.02" opacity="0.90"/><path d="M42.4 196.7v-3.7" stroke="#e06a2c" stroke-width="1.30" opacity="0.90"/><path d="M42.4 194.3v-1.3" stroke="#f0c0b0" stroke-width="1.17" opacity="0.85"/><path d="M86.9 197.0v-3.4" stroke="#d86030" stroke-width="0.88" opacity="0.90"/><path d="M56.1 197.4v-3.6" stroke="#d04a22" stroke-width="0.92" opacity="0.90"/><path d="M56.1 195.1v-1.2" stroke="#f0c0b0" stroke-width="0.83" opacity="0.85"/><path d="M94.2 198.2v-6.3" stroke="#d86030" stroke-width="0.96" opacity="0.90"/><path d="M72.8 198.4v-1.4" stroke="#e07a30" stroke-width="1.20" opacity="0.90"/><path d="M88.6 198.5v-3.2" stroke="#d04a22" stroke-width="0.86" opacity="0.90"/><path d="M71.3 199.1v-1.1" stroke="#d04a22" stroke-width="1.06" opacity="0.90"/><path d="M58.3 199.4v-5.6" stroke="#e07a30" stroke-width="1.22" opacity="0.90"/><path d="M58.3 195.8v-2.0" stroke="#f0c0b0" stroke-width="1.10" opacity="0.85"/><path d="M51.5 199.8v-6.4" stroke="#e07a30" stroke-width="1.02" opacity="0.90"/><path d="M98.4 200.4v-1.0" stroke="#e07a30" stroke-width="1.01" opacity="0.90"/><path d="M119.7 201.0v-3.7" stroke="#e07a30" stroke-width="1.12" opacity="0.90"/><path d="M66.3 201.2v-1.3" stroke="#e07a30" stroke-width="1.24" opacity="0.90"/><path d="M73.3 201.7v-3.6" stroke="#b83a1c" stroke-width="0.82" opacity="0.90"/><path d="M87.3 202.7v-4.5" stroke="#d86030" stroke-width="1.25" opacity="0.90"/><path d="M46.0 203.0v-1.0" stroke="#d04a22" stroke-width="0.93" opacity="0.90"/><path d="M48.3 203.1v-1.3" stroke="#e06a2c" stroke-width="1.05" opacity="0.90"/><path d="M48.7 203.2v-5.7" stroke="#d86030" stroke-width="0.84" opacity="0.90"/><path d="M104.2 203.4v-4.7" stroke="#e07a30" stroke-width="0.85" opacity="0.90"/><path d="M64.4 203.5v-4.5" stroke="#c84020" stroke-width="1.26" opacity="0.90"/><path d="M49.8 203.6v-4.8" stroke="#d85a28" stroke-width="0.84" opacity="0.90"/><path d="M87.8 203.9v-2.8" stroke="#d86030" stroke-width="0.86" opacity="0.90"/><path d="M87.8 202.1v-1.0" stroke="#f0c0b0" stroke-width="0.77" opacity="0.85"/><path d="M85.3 204.1v-6.2" stroke="#b83a1c" stroke-width="0.89" opacity="0.90"/><path d="M111.4 204.3v-5.6" stroke="#d04a22" stroke-width="1.01" opacity="0.90"/><path d="M65.1 204.7v-6.5" stroke="#d04a22" stroke-width="1.10" opacity="0.90"/><path d="M65.1 200.1v-2.0" stroke="#f0c0b0" stroke-width="0.99" opacity="0.85"/><path d="M103.7 204.9v-7.0" stroke="#d85a28" stroke-width="1.11" opacity="0.90"/><path d="M96.4 205.3v-1.1" stroke="#d85a28" stroke-width="1.26" opacity="0.90"/><path d="M113.7 205.3v-6.3" stroke="#b83a1c" stroke-width="1.18" opacity="0.90"/><path d="M109.1 205.5v-4.0" stroke="#d04a22" stroke-width="0.86" opacity="0.90"/><path d="M84.5 206.1v-3.1" stroke="#d86030" stroke-width="0.88" opacity="0.90"/><path d="M106.3 206.5v-3.1" stroke="#c84020" stroke-width="1.12" opacity="0.90"/><path d="M63.7 206.5v-2.2" stroke="#d86030" stroke-width="1.07" opacity="0.90"/><path d="M78.2 206.6v-4.4" stroke="#c84020" stroke-width="1.26" opacity="0.90"/><path d="M98.4 207.0v-2.9" stroke="#d04a22" stroke-width="0.91" opacity="0.90"/><path d="M87.1 207.5v-5.6" stroke="#e06a2c" stroke-width="0.99" opacity="0.90"/><path d="M52.8 207.6v-4.2" stroke="#b83a1c" stroke-width="1.11" opacity="0.90"/><path d="M109.1 207.7v-1.3" stroke="#d85a28" stroke-width="0.93" opacity="0.90"/><path d="M108.2 207.8v-2.3" stroke="#d04a22" stroke-width="0.96" opacity="0.90"/><path d="M97.3 207.9v-1.1" stroke="#d85a28" stroke-width="0.98" opacity="0.90"/><path d="M55.1 208.1v-2.6" stroke="#b83a1c" stroke-width="1.30" opacity="0.90"/><path d="M97.3 208.3v-1.8" stroke="#e07a30" stroke-width="0.93" opacity="0.90"/><path d="M53.7 208.9v-6.0" stroke="#d04a22" stroke-width="1.07" opacity="0.90"/><path d="M108.3 208.9v-1.9" stroke="#d85a28" stroke-width="1.03" opacity="0.90"/><path d="M105.7 209.0v-5.4" stroke="#d85a28" stroke-width="1.06" opacity="0.90"/><path d="M56.7 209.3v-2.9" stroke="#e07a30" stroke-width="0.93" opacity="0.90"/><path d="M64.7 209.4v-3.9" stroke="#d85a28" stroke-width="1.14" opacity="0.90"/><path d="M95.0 209.4v-1.3" stroke="#c84020" stroke-width="1.17" opacity="0.90"/><path d="M98.0 209.5v-1.6" stroke="#b83a1c" stroke-width="0.80" opacity="0.90"/><path d="M54.0 209.7v-1.3" stroke="#c84020" stroke-width="1.12" opacity="0.90"/><path d="M90.5 210.0v-2.0" stroke="#c84020" stroke-width="0.88" opacity="0.90"/><path d="M52.8 210.2v-2.8" stroke="#c84020" stroke-width="1.26" opacity="0.90"/><path d="M83.8 210.5v-2.9" stroke="#c84020" stroke-width="0.99" opacity="0.90"/><path d="M94.0 210.7v-1.2" stroke="#d04a22" stroke-width="0.85" opacity="0.90"/><path d="M57.6 210.8v-5.7" stroke="#c84020" stroke-width="1.11" opacity="0.90"/><path d="M105.4 210.8v-1.1" stroke="#d04a22" stroke-width="1.04" opacity="0.90"/><path d="M93.0 211.2v-4.7" stroke="#d04a22" stroke-width="0.84" opacity="0.90"/><path d="M99.5 211.5v-2.0" stroke="#d85a28" stroke-width="1.02" opacity="0.90"/><path d="M78.2 211.5v-2.1" stroke="#e06a2c" stroke-width="0.92" opacity="0.90"/><path d="M96.8 212.1v-1.0" stroke="#d85a28" stroke-width="0.88" opacity="0.90"/><path d="M102.9 212.3v-2.5" stroke="#b83a1c" stroke-width="0.88" opacity="0.90"/><path d="M75.8 212.9v-2.3" stroke="#d86030" stroke-width="1.27" opacity="0.90"/><path d="M96.5 214.0v-2.0" stroke="#e06a2c" stroke-width="1.15" opacity="0.90"/><path d="M90.1 214.1v-1.3" stroke="#e07a30" stroke-width="0.91" opacity="0.90"/><path d="M98.6 214.9v-3.3" stroke="#d86030" stroke-width="1.07" opacity="0.90"/><path d="M95.6 215.1v-1.0" stroke="#e06a2c" stroke-width="0.90" opacity="0.90"/><path d="M88.7 215.2v-1.7" stroke="#e07a30" stroke-width="1.20" opacity="0.90"/><path d="M98.6 215.5v-2.7" stroke="#e06a2c" stroke-width="1.02" opacity="0.90"/><path d="M98.7 215.5v-5.2" stroke="#c84020" stroke-width="1.08" opacity="0.90"/><path d="M79.3 216.5v-1.6" stroke="#d85a28" stroke-width="1.18" opacity="0.90"/><path d="M66.7 217.2v-1.1" stroke="#c84020" stroke-width="0.96" opacity="0.90"/><path d="M95.2 219.3v-2.2" stroke="#b83a1c" stroke-width="0.93" opacity="0.90"/><path d="M69.5 221.3v-1.4" stroke="#d86030" stroke-width="1.16" opacity="0.90"/><path d="M79.8 221.5v-2.9" stroke="#c84020" stroke-width="0.96" opacity="0.90"/><path d="M85.8 221.7v-6.3" stroke="#e07a30" stroke-width="1.18" opacity="0.90"/><path d="M78.3 222.4v-1.2" stroke="#e07a30" stroke-width="0.95" opacity="0.90"/><path d="M77.0 222.7v-2.6" stroke="#e07a30" stroke-width="1.02" opacity="0.90"/><path d="M71.6 223.5v-5.9" stroke="#e06a2c" stroke-width="1.14" opacity="0.90"/><path d="M73.0 223.8v-1.1" stroke="#b83a1c" stroke-width="0.96" opacity="0.90"/><path d="M70.5 223.9v-5.8" stroke="#d04a22" stroke-width="0.88" opacity="0.90"/><path d="M82.4 224.2v-1.1" stroke="#e07a30" stroke-width="0.87" opacity="0.90"/><path d="M89.5 225.1v-1.3" stroke="#d04a22" stroke-width="1.25" opacity="0.90"/><path d="M84.6 227.2v-3.4" stroke="#d04a22" stroke-width="0.88" opacity="0.90"/><path d="M79.4 227.2v-1.3" stroke="#e06a2c" stroke-width="1.24" opacity="0.90"/><path d="M79.2 227.5v-1.0" stroke="#e06a2c" stroke-width="1.26" opacity="0.90"/><path d="M76.6 227.6v-2.7" stroke="#e06a2c" stroke-width="0.88" opacity="0.90"/>
<path d="M88.0 151.6v-6.2" stroke="#a02810" stroke-width="2.52" stroke-linecap="round" opacity="0.9"/>
<path d="M87.6 147.9v-2.2" stroke="#e07050" stroke-width="1.13" stroke-linecap="round" opacity="0.7"/>
<path d="M88.3 151.3v-3.3" stroke="#a02810" stroke-width="1.48" stroke-linecap="round" opacity="0.9"/>
<path d="M88.1 149.3v-1.2" stroke="#e07050" stroke-width="0.67" stroke-linecap="round" opacity="0.7"/>
<path d="M103.5 169.7v-6.6" stroke="#a02810" stroke-width="2.60" stroke-linecap="round" opacity="0.9"/>
<path d="M103.1 165.7v-2.3" stroke="#e07050" stroke-width="1.17" stroke-linecap="round" opacity="0.7"/>
<path d="M118.8 175.2v-5.1" stroke="#a02810" stroke-width="2.12" stroke-linecap="round" opacity="0.9"/>
<path d="M118.5 172.1v-1.8" stroke="#e07050" stroke-width="0.95" stroke-linecap="round" opacity="0.7"/>
<path d="M80.0 149.1v-4.6" stroke="#a02810" stroke-width="1.96" stroke-linecap="round" opacity="0.9"/>
<path d="M79.7 146.3v-1.6" stroke="#e07050" stroke-width="0.88" stroke-linecap="round" opacity="0.7"/>
<path d="M90.6 161.5v-4.4" stroke="#a02810" stroke-width="1.88" stroke-linecap="round" opacity="0.9"/>
<path d="M90.3 158.8v-1.5" stroke="#e07050" stroke-width="0.85" stroke-linecap="round" opacity="0.7"/>
<path d="M82.3 172.2v-4.4" stroke="#a02810" stroke-width="1.88" stroke-linecap="round" opacity="0.9"/>
<path d="M82.0 169.5v-1.5" stroke="#e07050" stroke-width="0.85" stroke-linecap="round" opacity="0.7"/>
<path d="M131.0 183.9v-4.6" stroke="#a02810" stroke-width="1.96" stroke-linecap="round" opacity="0.9"/>
<path d="M130.7 181.1v-1.6" stroke="#e07050" stroke-width="0.88" stroke-linecap="round" opacity="0.7"/>
<path d="M115.8 168.7v-4.2" stroke="#a02810" stroke-width="1.80" stroke-linecap="round" opacity="0.9"/>
<path d="M115.5 166.1v-1.5" stroke="#e07050" stroke-width="0.81" stroke-linecap="round" opacity="0.7"/>
<path d="M107.7 186.8v-4.2" stroke="#a02810" stroke-width="1.80" stroke-linecap="round" opacity="0.9"/>
<path d="M107.4 184.2v-1.5" stroke="#e07050" stroke-width="0.81" stroke-linecap="round" opacity="0.7"/>
<path d="M108.0 203.8v-4.6" stroke="#a02810" stroke-width="1.96" stroke-linecap="round" opacity="0.9"/>
<path d="M107.7 201.0v-1.6" stroke="#e07050" stroke-width="0.88" stroke-linecap="round" opacity="0.7"/>
<path d="M103.6 197.0v-4.2" stroke="#a02810" stroke-width="1.80" stroke-linecap="round" opacity="0.9"/>
<path d="M103.4 194.4v-1.5" stroke="#e07050" stroke-width="0.81" stroke-linecap="round" opacity="0.7"/>
<path d="M82.8 210.5v-4.2" stroke="#a02810" stroke-width="1.80" stroke-linecap="round" opacity="0.9"/>
<path d="M82.5 208.0v-1.5" stroke="#e07050" stroke-width="0.81" stroke-linecap="round" opacity="0.7"/>
<path d="M92.7 213.9v-4.4" stroke="#a02810" stroke-width="1.88" stroke-linecap="round" opacity="0.9"/>
<path d="M92.4 211.3v-1.5" stroke="#e07050" stroke-width="0.85" stroke-linecap="round" opacity="0.7"/>
<path d="M29.3 180.9v-11.2" stroke="#a02810" stroke-width="2.60" stroke-linecap="round" opacity="0.9"/>
<path d="M28.9 174.1v-3.9" stroke="#e07050" stroke-width="1.17" stroke-linecap="round" opacity="0.7"/>
<path d="M29.3 180.9v-8.6" stroke="#a02810" stroke-width="2.60" stroke-linecap="round" opacity="0.9"/>
<path d="M28.9 175.7v-3.0" stroke="#e07050" stroke-width="1.17" stroke-linecap="round" opacity="0.7"/>
<path d="M29.3 180.9v-5.7" stroke="#a02810" stroke-width="2.36" stroke-linecap="round" opacity="0.9"/>
<path d="M29.0 177.4v-2.0" stroke="#e07050" stroke-width="1.06" stroke-linecap="round" opacity="0.7"/>
<path d="M30.2 175.0v-5.5" stroke="#a02810" stroke-width="2.28" stroke-linecap="round" opacity="0.9"/>
<path d="M29.9 171.7v-1.9" stroke="#e07050" stroke-width="1.03" stroke-linecap="round" opacity="0.7"/>
<path d="M46.5 175.5v-5.1" stroke="#a02810" stroke-width="2.12" stroke-linecap="round" opacity="0.9"/>
<path d="M46.2 172.4v-1.8" stroke="#e07050" stroke-width="0.95" stroke-linecap="round" opacity="0.7"/>
<path d="M79.5 182.6v-5.7" stroke="#a02810" stroke-width="2.36" stroke-linecap="round" opacity="0.9"/>
<path d="M79.1 179.2v-2.0" stroke="#e07050" stroke-width="1.06" stroke-linecap="round" opacity="0.7"/>
<path d="M49.1 203.4v-5.5" stroke="#a02810" stroke-width="2.28" stroke-linecap="round" opacity="0.9"/>
<path d="M48.7 200.1v-1.9" stroke="#e07050" stroke-width="1.03" stroke-linecap="round" opacity="0.7"/>
<path d="M54.6 193.1v-4.2" stroke="#a02810" stroke-width="1.80" stroke-linecap="round" opacity="0.9"/>
<path d="M54.4 190.6v-1.5" stroke="#e07050" stroke-width="0.81" stroke-linecap="round" opacity="0.7"/>
<text x="4.10" y="141.00" font-family="Liberation Serif, serif" stroke="#222" stroke-width="0.18" font-size="13" fill="#222">(d)</text>
<rect x="145.20" y="145.20" width="7.20" height="92.40" fill="url(#cbg)" stroke="#666" stroke-width="0.9"/>
<path d="M152.40 154.30h2.2M152.40 171.62h2.2M152.40 188.94h2.2M152.40 206.26h2.2M152.40 223.58h2.2M152.40 149.97h1.3M152.40 158.63h1.3M152.40 162.96h1.3M152.40 167.29h1.3M152.40 175.95h1.3M152.40 180.28h1.3M152.40 184.61h1.3M152.40 193.27h1.3M152.40 197.60h1.3M152.40 201.93h1.3M152.40 210.59h1.3M152.40 214.92h1.3M152.40 219.25h1.3M152.40 227.91h1.3M152.40 232.24h1.3M152.40 236.57h1.3" stroke="#333" stroke-width="0.8"/>
<g font-family="Liberation Serif, serif" stroke="#222" stroke-width="0.18" font-size="9.2" fill="#222">
<text x="160.00" y="157.50">250</text>
<text x="160.00" y="174.82">200</text>
<text x="160.00" y="192.14">150</text>
<text x="160.00" y="209.46">100</text>
<text x="160.00" y="226.78">50</text>
<text x="160.00" y="244.10">0</text>
<text x="160.50" y="136.30">µm</text>
</g>
<polygon points="204.1,184.0 264.1,237.9 264.1,250.6 208.5,201.5" fill="#dedede" stroke="#a8a8a8" stroke-width="0.6"/>
<polygon points="264.1,237.9 325.5,178.5 319.5,203.2 264.1,250.6" fill="#e6e6e6" stroke="#a8a8a8" stroke-width="0.6"/>
<g filter="url(#f3e)"><g clip-path="url(#c3e)"><rect x="195" y="130" width="140" height="120" fill="#cbcbcb"/><ellipse cx="273" cy="163" rx="60" ry="38" fill="url(#eS)"/><ellipse cx="236" cy="212" rx="48" ry="16" transform="rotate(42 236 212)" fill="url(#eM)"/><ellipse cx="262" cy="236" rx="36" ry="24" fill="url(#eF)"/><ellipse cx="206" cy="184" rx="18" ry="14" fill="url(#eL)"/></g></g>
<g clip-path="url(#c3e)"><ellipse cx="262" cy="236" rx="34" ry="22" fill="url(#eDark)"/><ellipse cx="206" cy="184" rx="16" ry="12" fill="url(#eDark)"/><ellipse cx="245.7" cy="181.4" rx="0.7" ry="1.0" fill="#5a2a2a" opacity="0.52"/><ellipse cx="250.5" cy="187.6" rx="0.7" ry="1.1" fill="#5a2a2a" opacity="0.53"/><ellipse cx="278.0" cy="154.2" rx="0.7" ry="0.6" fill="#5a2a2a" opacity="0.48"/><ellipse cx="285.6" cy="144.2" rx="0.7" ry="1.1" fill="#5a2a2a" opacity="0.43"/><ellipse cx="252.1" cy="142.5" rx="0.7" ry="1.2" fill="#5a2a2a" opacity="0.61"/><ellipse cx="313.1" cy="177.0" rx="0.7" ry="0.6" fill="#5a2a2a" opacity="0.47"/><ellipse cx="277.3" cy="146.9" rx="0.7" ry="1.2" fill="#5a2a2a" opacity="0.48"/><ellipse cx="244.7" cy="189.1" rx="0.7" ry="0.7" fill="#5a2a2a" opacity="0.67"/><ellipse cx="273.0" cy="173.1" rx="0.7" ry="0.8" fill="#5a2a2a" opacity="0.52"/><ellipse cx="247.8" cy="142.2" rx="0.7" ry="1.1" fill="#5a2a2a" opacity="0.43"/><ellipse cx="304.1" cy="152.5" rx="0.7" ry="1.2" fill="#5a2a2a" opacity="0.66"/><ellipse cx="301.7" cy="185.8" rx="0.7" ry="0.9" fill="#5a2a2a" opacity="0.61"/><ellipse cx="241.6" cy="168.6" rx="0.7" ry="1.1" fill="#5a2a2a" opacity="0.42"/><ellipse cx="268.9" cy="161.9" rx="0.7" ry="0.9" fill="#5a2a2a" opacity="0.49"/><ellipse cx="324.5" cy="163.2" rx="0.7" ry="0.6" fill="#5a2a2a" opacity="0.38"/><ellipse cx="277.1" cy="169.5" rx="0.7" ry="0.9" fill="#5a2a2a" opacity="0.61"/><ellipse cx="251.1" cy="176.5" rx="0.7" ry="0.9" fill="#5a2a2a" opacity="0.57"/><ellipse cx="247.2" cy="150.2" rx="0.7" ry="0.8" fill="#5a2a2a" opacity="0.67"/><ellipse cx="262.9" cy="175.8" rx="0.7" ry="0.8" fill="#5a2a2a" opacity="0.39"/><ellipse cx="236.2" cy="188.8" rx="0.7" ry="1.1" fill="#5a2a2a" opacity="0.48"/><ellipse cx="294.9" cy="180.6" rx="0.7" ry="1.1" fill="#5a2a2a" opacity="0.69"/><ellipse cx="321.3" cy="175.4" rx="0.7" ry="1.1" fill="#5a2a2a" opacity="0.52"/><ellipse cx="265.7" cy="154.8" rx="0.7" ry="1.1" fill="#5a2a2a" opacity="0.41"/><ellipse cx="236.6" cy="188.3" rx="0.7" ry="1.1" fill="#5a2a2a" opacity="0.52"/><ellipse cx="309.5" cy="143.1" rx="0.7" ry="0.8" fill="#5a2a2a" opacity="0.45"/><ellipse cx="269.9" cy="150.2" rx="0.7" ry="0.6" fill="#5a2a2a" opacity="0.47"/><ellipse cx="300.9" cy="168.7" rx="0.7" ry="0.8" fill="#5a2a2a" opacity="0.69"/><ellipse cx="279.9" cy="183.7" rx="0.7" ry="0.6" fill="#5a2a2a" opacity="0.42"/><ellipse cx="309.6" cy="187.7" rx="0.7" ry="1.1" fill="#5a2a2a" opacity="0.56"/><ellipse cx="270.5" cy="174.9" rx="0.7" ry="1.1" fill="#5a2a2a" opacity="0.46"/><ellipse cx="280.8" cy="156.6" rx="0.7" ry="1.1" fill="#5a2a2a" opacity="0.35"/><ellipse cx="232.2" cy="175.6" rx="0.7" ry="1.0" fill="#5a2a2a" opacity="0.65"/><ellipse cx="285.5" cy="155.4" rx="0.7" ry="0.8" fill="#5a2a2a" opacity="0.69"/><ellipse cx="316.0" cy="148.0" rx="0.7" ry="0.7" fill="#5a2a2a" opacity="0.38"/><ellipse cx="232.4" cy="166.8" rx="0.7" ry="0.7" fill="#5a2a2a" opacity="0.65"/><ellipse cx="292.3" cy="147.6" rx="0.7" ry="0.9" fill="#5a2a2a" opacity="0.46"/><ellipse cx="276.9" cy="153.2" rx="0.7" ry="0.7" fill="#5a2a2a" opacity="0.41"/><ellipse cx="265.9" cy="182.6" rx="0.7" ry="0.9" fill="#5a2a2a" opacity="0.37"/><ellipse cx="297.5" cy="192.4" rx="0.7" ry="1.1" fill="#5a2a2a" opacity="0.63"/><ellipse cx="230.7" cy="167.8" rx="0.7" ry="0.6" fill="#5a2a2a" opacity="0.62"/><ellipse cx="246.7" cy="182.7" rx="0.7" ry="0.8" fill="#5a2a2a" opacity="0.59"/><ellipse cx="259.8" cy="142.5" rx="0.7" ry="0.8" fill="#5a2a2a" opacity="0.46"/><ellipse cx="315.6" cy="157.7" rx="0.7" ry="0.9" fill="#5a2a2a" opacity="0.54"/><ellipse cx="320.1" cy="145.9" rx="0.7" ry="1.0" fill="#5a2a2a" opacity="0.53"/><ellipse cx="259.5" cy="182.0" rx="0.7" ry="0.9" fill="#5a2a2a" opacity="0.55"/><ellipse cx="236.1" cy="188.9" rx="0.7" ry="1.2" fill="#5a2a2a" opacity="0.47"/><ellipse cx="240.2" cy="144.6" rx="0.7" ry="0.6" fill="#5a2a2a" opacity="0.64"/><ellipse cx="302.2" cy="166.9" rx="0.7" ry="1.0" fill="#5a2a2a" opacity="0.36"/><ellipse cx="291.2" cy="166.6" rx="0.7" ry="0.9" fill="#5a2a2a" opacity="0.49"/><ellipse cx="268.1" cy="153.5" rx="0.7" ry="0.6" fill="#5a2a2a" opacity="0.50"/><ellipse cx="253.5" cy="182.3" rx="0.7" ry="1.1" fill="#5a2a2a" opacity="0.60"/><ellipse cx="273.3" cy="154.2" rx="0.7" ry="0.8" fill="#5a2a2a" opacity="0.52"/><ellipse cx="238.1" cy="168.8" rx="0.7" ry="0.9" fill="#5a2a2a" opacity="0.60"/><ellipse cx="289.5" cy="185.5" rx="0.7" ry="1.0" fill="#5a2a2a" opacity="0.65"/><ellipse cx="296.4" cy="181.0" rx="0.7" ry="0.7" fill="#5a2a2a" opacity="0.67"/><ellipse cx="266.7" cy="176.9" rx="0.7" ry="1.1" fill="#5a2a2a" opacity="0.69"/><ellipse cx="259.7" cy="158.7" rx="0.7" ry="0.8" fill="#5a2a2a" opacity="0.40"/><ellipse cx="282.6" cy="144.8" rx="0.7" ry="0.8" fill="#5a2a2a" opacity="0.68"/><ellipse cx="300.5" cy="167.7" rx="0.7" ry="0.7" fill="#5a2a2a" opacity="0.68"/><ellipse cx="296.9" cy="152.3" rx="0.7" ry="0.8" fill="#5a2a2a" opacity="0.57"/><ellipse cx="294.8" cy="155.7" rx="0.7" ry="1.2" fill="#5a2a2a" opacity="0.46"/><ellipse cx="254.2" cy="190.7" rx="0.7" ry="0.7" fill="#5a2a2a" opacity="0.59"/><ellipse cx="249.0" cy="175.9" rx="0.7" ry="0.8" fill="#5a2a2a" opacity="0.48"/><ellipse cx="319.4" cy="168.0" rx="0.7" ry="0.9" fill="#5a2a2a" opacity="0.57"/><ellipse cx="256.7" cy="150.5" rx="0.7" ry="0.8" fill="#5a2a2a" opacity="0.45"/><ellipse cx="318.8" cy="182.3" rx="0.7" ry="0.6" fill="#5a2a2a" opacity="0.53"/><ellipse cx="233.7" cy="176.5" rx="0.7" ry="1.0" fill="#5a2a2a" opacity="0.43"/><ellipse cx="230.7" cy="172.7" rx="0.7" ry="0.7" fill="#5a2a2a" opacity="0.46"/><ellipse cx="273.1" cy="193.7" rx="0.7" ry="0.8" fill="#5a2a2a" opacity="0.40"/><ellipse cx="305.2" cy="189.3" rx="0.7" ry="0.9" fill="#5a2a2a" opacity="0.37"/></g>
<text x="188.00" y="141.00" font-family="Liberation Serif, serif" stroke="#222" stroke-width="0.18" font-size="13" fill="#222">(e)</text>
<rect x="336.40" y="146.50" width="8.10" height="100.80" fill="url(#cbg)" stroke="#666" stroke-width="0.9"/>
<path d="M344.50 151.30h2.2M344.50 170.00h2.2M344.50 188.70h2.2M344.50 207.40h2.2M344.50 226.10h2.2M344.50 244.80h2.2M344.50 155.98h1.3M344.50 160.65h1.3M344.50 165.33h1.3M344.50 174.68h1.3M344.50 179.35h1.3M344.50 184.03h1.3M344.50 193.38h1.3M344.50 198.05h1.3M344.50 202.73h1.3M344.50 212.08h1.3M344.50 216.75h1.3M344.50 221.43h1.3M344.50 230.78h1.3M344.50 235.45h1.3M344.50 240.13h1.3" stroke="#333" stroke-width="0.8"/>
<g font-family="Liberation Serif, serif" stroke="#222" stroke-width="0.18" font-size="9.2" fill="#222">
<text x="350.70" y="154.50">25</text>
<text x="350.70" y="173.20">20</text>
<text x="350.70" y="191.90">15</text>
<text x="350.70" y="210.60">10</text>
<text x="350.70" y="229.30">5</text>
<text x="350.70" y="248.00">0</text>
<text x="351.40" y="139.50">µm</text>
</g>
<polygon points="391.8,179.1 453.0,234.5 452.7,245.4 394.3,193.3" fill="#dedede" stroke="#a8a8a8" stroke-width="0.6"/>
<polygon points="453.0,234.5 513.6,180.5 511.0,193.0 452.7,245.4" fill="#e6e6e6" stroke="#a8a8a8" stroke-width="0.6"/>
<path d="M420.1 204.3v2.3" stroke="#3a8a30" stroke-width="0.66" opacity="0.60"/><path d="M433.2 216.1v2.2" stroke="#2a7a40" stroke-width="1.06" opacity="0.60"/><path d="M396.7 183.1v2.9" stroke="#607050" stroke-width="0.95" opacity="0.60"/><path d="M436.4 218.9v1.7" stroke="#2a7a40" stroke-width="1.09" opacity="0.60"/><path d="M417.7 202.0v1.7" stroke="#3a8a30" stroke-width="0.62" opacity="0.60"/><path d="M422.8 206.6v4.6" stroke="#607050" stroke-width="0.60" opacity="0.60"/><path d="M433.9 216.7v4.0" stroke="#3a8a30" stroke-width="1.07" opacity="0.60"/><path d="M404.3 190.0v1.9" stroke="#2a7a40" stroke-width="1.06" opacity="0.60"/><path d="M439.1 221.4v4.5" stroke="#2a7a40" stroke-width="0.72" opacity="0.60"/><path d="M441.3 223.4v1.8" stroke="#3a8a30" stroke-width="1.05" opacity="0.60"/><path d="M395.2 181.6v2.3" stroke="#2a7a40" stroke-width="0.64" opacity="0.60"/><path d="M406.3 191.7v3.7" stroke="#3a8a30" stroke-width="1.10" opacity="0.60"/><path d="M392.0 178.8v3.8" stroke="#3a8a30" stroke-width="1.06" opacity="0.60"/><path d="M404.2 189.8v1.5" stroke="#3a8a30" stroke-width="0.63" opacity="0.60"/><path d="M448.0 229.4v2.7" stroke="#607050" stroke-width="0.84" opacity="0.60"/><path d="M448.2 229.6v2.5" stroke="#2a7a40" stroke-width="0.67" opacity="0.60"/><path d="M438.6 221.0v3.6" stroke="#3a8a30" stroke-width="0.66" opacity="0.60"/><path d="M429.1 212.3v4.8" stroke="#3a8a30" stroke-width="0.71" opacity="0.60"/><path d="M433.6 216.5v4.3" stroke="#607050" stroke-width="0.71" opacity="0.60"/><path d="M452.7 233.7v5.0" stroke="#3a8a30" stroke-width="1.05" opacity="0.60"/><path d="M416.4 200.9v4.5" stroke="#3a8a30" stroke-width="0.90" opacity="0.60"/><path d="M394.4 181.0v2.3" stroke="#607050" stroke-width="0.85" opacity="0.60"/><path d="M426.4 209.9v3.5" stroke="#2a7a40" stroke-width="0.62" opacity="0.60"/><path d="M445.8 227.4v2.3" stroke="#3a8a30" stroke-width="0.79" opacity="0.60"/><path d="M452.1 233.2v3.0" stroke="#3a8a30" stroke-width="0.77" opacity="0.60"/><path d="M429.0 212.3v1.5" stroke="#3a8a30" stroke-width="0.68" opacity="0.60"/><path d="M419.0 203.2v2.1" stroke="#3a8a30" stroke-width="0.73" opacity="0.60"/><path d="M409.2 194.4v2.8" stroke="#3a8a30" stroke-width="0.57" opacity="0.60"/><path d="M439.6 221.9v4.0" stroke="#2a7a40" stroke-width="0.75" opacity="0.60"/><path d="M439.4 221.7v3.0" stroke="#3a8a30" stroke-width="0.80" opacity="0.60"/><path d="M487.6 203.1v2.5" stroke="#607050" stroke-width="0.57" opacity="0.60"/><path d="M481.0 209.0v2.7" stroke="#2a7a40" stroke-width="0.93" opacity="0.60"/><path d="M462.7 225.3v2.8" stroke="#2a7a40" stroke-width="0.60" opacity="0.60"/><path d="M510.7 182.6v3.8" stroke="#2a7a40" stroke-width="0.58" opacity="0.60"/><path d="M505.1 187.6v3.1" stroke="#2a7a40" stroke-width="0.80" opacity="0.60"/><path d="M503.1 189.4v2.0" stroke="#3a8a30" stroke-width="0.94" opacity="0.60"/><path d="M493.1 198.3v1.7" stroke="#3a8a30" stroke-width="1.10" opacity="0.60"/><path d="M490.2 200.9v1.5" stroke="#3a8a30" stroke-width="0.69" opacity="0.60"/><path d="M464.8 223.5v4.5" stroke="#607050" stroke-width="0.77" opacity="0.60"/><path d="M507.4 185.5v2.1" stroke="#607050" stroke-width="0.81" opacity="0.60"/><path d="M481.5 208.6v3.3" stroke="#2a7a40" stroke-width="1.03" opacity="0.60"/><path d="M462.5 225.6v1.9" stroke="#2a7a40" stroke-width="0.69" opacity="0.60"/><path d="M454.9 232.3v2.1" stroke="#607050" stroke-width="0.93" opacity="0.60"/><path d="M485.3 205.2v4.3" stroke="#3a8a30" stroke-width="0.78" opacity="0.60"/><path d="M510.3 182.9v4.6" stroke="#3a8a30" stroke-width="0.62" opacity="0.60"/><path d="M500.0 192.1v1.6" stroke="#3a8a30" stroke-width="1.11" opacity="0.60"/><path d="M464.6 223.7v2.2" stroke="#2a7a40" stroke-width="0.81" opacity="0.60"/><path d="M494.3 197.2v1.7" stroke="#607050" stroke-width="0.66" opacity="0.60"/><path d="M460.2 227.5v2.6" stroke="#3a8a30" stroke-width="0.93" opacity="0.60"/><path d="M510.1 183.1v1.8" stroke="#3a8a30" stroke-width="0.83" opacity="0.60"/><path d="M474.1 215.2v2.5" stroke="#3a8a30" stroke-width="0.87" opacity="0.60"/><path d="M455.6 231.6v4.5" stroke="#3a8a30" stroke-width="0.60" opacity="0.60"/><path d="M480.2 209.8v3.1" stroke="#2a7a40" stroke-width="1.08" opacity="0.60"/><path d="M483.0 207.2v4.5" stroke="#607050" stroke-width="0.85" opacity="0.60"/><path d="M508.2 184.8v2.8" stroke="#607050" stroke-width="0.84" opacity="0.60"/><path d="M463.1 225.0v3.4" stroke="#2a7a40" stroke-width="0.64" opacity="0.60"/><path d="M485.8 204.8v2.2" stroke="#2a7a40" stroke-width="0.83" opacity="0.60"/><path d="M463.0 225.0v2.5" stroke="#2a7a40" stroke-width="1.02" opacity="0.60"/><path d="M505.8 186.9v2.5" stroke="#3a8a30" stroke-width="0.59" opacity="0.60"/><path d="M458.6 229.0v1.6" stroke="#2a7a40" stroke-width="1.03" opacity="0.60"/><polygon points="391.8,178.5 391.8,179.3 393.0,181.1 394.2,181.5 395.4,183.6 396.6,183.6 397.8,187.4 399.0,185.8 400.2,187.6 401.4,188.0 402.6,190.0 403.8,190.2 405.0,192.4 406.2,192.3 407.4,193.4 408.6,194.5 409.8,196.5 411.0,196.7 412.2,199.1 413.4,198.9 414.6,201.9 415.8,201.0 417.0,202.0 418.2,203.2 419.4,204.6 420.6,205.4 421.8,206.3 423.0,207.5 424.2,210.7 425.4,209.7 426.6,212.4 427.8,211.9 429.0,212.8 430.2,214.1 431.4,218.1 432.6,216.2 433.8,220.1 435.0,218.4 436.2,220.9 437.4,220.6 438.6,222.9 439.8,222.8 441.0,223.8 442.2,224.9 443.4,225.8 444.6,227.1 445.8,229.1 447.0,229.3 448.2,230.2 449.4,231.4 450.6,232.6 451.8,233.6 453.0,234.8 453.0,233.9" fill="#2f7a2a" opacity="0.85"/><polygon points="453.0,233.9 453.0,234.7 454.2,234.4 455.4,232.5 456.6,232.9 457.8,230.4 459.1,230.8 460.3,228.2 461.5,227.1 462.7,226.1 463.9,224.8 465.1,223.9 466.3,223.3 467.5,221.7 468.8,220.9 470.0,219.6 471.2,220.6 472.4,217.4 473.6,217.9 474.8,215.3 476.0,215.4 477.2,213.1 478.5,213.1 479.7,210.9 480.9,211.3 482.1,208.8 483.3,207.6 484.5,206.6 485.7,206.2 486.9,204.5 488.1,203.4 489.4,202.3 490.6,203.8 491.8,200.1 493.0,198.9 494.2,198.0 495.4,199.0 496.6,195.8 497.8,194.6 499.1,193.7 500.3,194.1 501.5,191.5 502.7,190.8 503.9,189.3 505.1,188.8 506.3,187.2 507.5,188.3 508.8,185.0 510.0,183.7 511.2,182.9 512.4,181.6 513.6,180.7 513.6,179.9" fill="#2f7a2a" opacity="0.85"/>
<g filter="url(#f3f)"><g clip-path="url(#c3f)"><g transform="matrix(0.71951 0.55401 -0.69755 0.53963 165.722 -103.354)"><rect x="401.00" y="4.70" width="114.10" height="113.80" fill="#808080"/><g filter="url(#gbc)"><rect x="406.39" y="10.12" width="8.91" height="8.88" fill="#909090"/><rect x="415.00" y="10.12" width="8.91" height="8.88" fill="#909090"/><rect x="423.61" y="10.12" width="8.91" height="8.88" fill="#909090"/><rect x="432.22" y="10.12" width="8.91" height="8.88" fill="#8d8d8d"/><rect x="440.83" y="10.12" width="8.91" height="8.88" fill="#8b8b8b"/><rect x="449.44" y="10.12" width="8.91" height="8.88" fill="#888888"/><rect x="458.05" y="10.12" width="8.91" height="8.88" fill="#888888"/><rect x="466.66" y="10.12" width="8.91" height="8.88" fill="#868686"/><rect x="475.27" y="10.12" width="8.91" height="8.88" fill="#838383"/><rect x="483.88" y="10.12" width="8.91" height="8.88" fill="#7e7e7e"/><rect x="492.49" y="10.12" width="8.91" height="8.88" fill="#7b7b7b"/><rect x="501.10" y="10.12" width="8.91" height="8.88" fill="#7b7b7b"/><rect x="406.39" y="18.70" width="8.91" height="8.88" fill="#909090"/><rect x="415.00" y="18.70" width="8.91" height="8.88" fill="#909090"/><rect x="423.61" y="18.70" width="8.91" height="8.88" fill="#909090"/><rect x="432.22" y="18.70" width="8.91" height="8.88" fill="#8d8d8d"/><rect x="440.83" y="18.70" width="8.91" height="8.88" fill="#8b8b8b"/><rect x="449.44" y="18.70" width="8.91" height="8.88" fill="#888888"/><rect x="458.05" y="18.70" width="8.91" height="8.88" fill="#888888"/><rect x="466.66" y="18.70" width="8.91" height="8.88" fill="#868686"/><rect x="475.27" y="18.70" width="8.91" height="8.88" fill="#838383"/><rect x="483.88" y="18.70" width="8.91" height="8.88" fill="#7e7e7e"/><rect x="492.49" y="18.70" width="8.91" height="8.88" fill="#7b7b7b"/><rect x="501.10" y="18.70" width="8.91" height="8.88" fill="#7b7b7b"/><rect x="406.39" y="27.28" width="8.91" height="8.88" fill="#909090"/><rect x="415.00" y="27.28" width="8.91" height="8.88" fill="#909090"/><rect x="423.61" y="27.28" width="8.91" height="8.88" fill="#909090"/><rect x="432.22" y="27.28" width="8.91" height="8.88" fill="#8d8d8d"/><rect x="440.83" y="27.28" width="8.91" height="8.88" fill="#888888"/><rect x="449.44" y="27.28" width="8.91" height="8.88" fill="#868686"/><rect x="458.05" y="27.28" width="8.91" height="8.88" fill="#868686"/><rect x="466.66" y="27.28" width="8.91" height="8.88" fill="#818181"/><rect x="475.27" y="27.28" width="8.91" height="8.88" fill="#797979"/><rect x="483.88" y="27.28" width="8.91" height="8.88" fill="#767676"/><rect x="492.49" y="27.28" width="8.91" height="8.88" fill="#818181"/><rect x="501.10" y="27.28" width="8.91" height="8.88" fill="#818181"/><rect x="406.39" y="35.86" width="8.91" height="8.88" fill="#8d8d8d"/><rect x="415.00" y="35.86" width="8.91" height="8.88" fill="#8d8d8d"/><rect x="423.61" y="35.86" width="8.91" height="8.88" fill="#888888"/><rect x="432.22" y="35.86" width="8.91" height="8.88" fill="#7e7e7e"/><rect x="440.83" y="35.86" width="8.91" height="8.88" fill="#767676"/><rect x="449.44" y="35.86" width="8.91" height="8.88" fill="#7b7b7b"/><rect x="458.05" y="35.86" width="8.91" height="8.88" fill="#767676"/><rect x="466.66" y="35.86" width="8.91" height="8.88" fill="#818181"/><rect x="475.27" y="35.86" width="8.91" height="8.88" fill="#838383"/><rect x="483.88" y="35.86" width="8.91" height="8.88" fill="#767676"/><rect x="492.49" y="35.86" width="8.91" height="8.88" fill="#767676"/><rect x="501.10" y="35.86" width="8.91" height="8.88" fill="#767676"/><rect x="406.39" y="44.44" width="8.91" height="8.88" fill="#888888"/><rect x="415.00" y="44.44" width="8.91" height="8.88" fill="#888888"/><rect x="423.61" y="44.44" width="8.91" height="8.88" fill="#868686"/><rect x="432.22" y="44.44" width="8.91" height="8.88" fill="#767676"/><rect x="440.83" y="44.44" width="8.91" height="8.88" fill="#747474"/><rect x="449.44" y="44.44" width="8.91" height="8.88" fill="#767676"/><rect x="458.05" y="44.44" width="8.91" height="8.88" fill="#818181"/><rect x="466.66" y="44.44" width="8.91" height="8.88" fill="#767676"/><rect x="475.27" y="44.44" width="8.91" height="8.88" fill="#818181"/><rect x="483.88" y="44.44" width="8.91" height="8.88" fill="#838383"/><rect x="492.49" y="44.44" width="8.91" height="8.88" fill="#7b7b7b"/><rect x="501.10" y="44.44" width="8.91" height="8.88" fill="#7b7b7b"/><rect x="406.39" y="53.02" width="8.91" height="8.88" fill="#888888"/><rect x="415.00" y="53.02" width="8.91" height="8.88" fill="#888888"/><rect x="423.61" y="53.02" width="8.91" height="8.88" fill="#868686"/><rect x="432.22" y="53.02" width="8.91" height="8.88" fill="#838383"/><rect x="440.83" y="53.02" width="8.91" height="8.88" fill="#797979"/><rect x="449.44" y="53.02" width="8.91" height="8.88" fill="#818181"/><rect x="458.05" y="53.02" width="8.91" height="8.88" fill="#767676"/><rect x="466.66" y="53.02" width="8.91" height="8.88" fill="#747474"/><rect x="475.27" y="53.02" width="8.91" height="8.88" fill="#767676"/><rect x="483.88" y="53.02" width="8.91" height="8.88" fill="#818181"/><rect x="492.49" y="53.02" width="8.91" height="8.88" fill="#838383"/><rect x="501.10" y="53.02" width="8.91" height="8.88" fill="#838383"/><rect x="406.39" y="61.60" width="8.91" height="8.88" fill="#888888"/><rect x="415.00" y="61.60" width="8.91" height="8.88" fill="#888888"/><rect x="423.61" y="61.60" width="8.91" height="8.88" fill="#797979"/><rect x="432.22" y="61.60" width="8.91" height="8.88" fill="#767676"/><rect x="440.83" y="61.60" width="8.91" height="8.88" fill="#818181"/><rect x="449.44" y="61.60" width="8.91" height="8.88" fill="#818181"/><rect x="458.05" y="61.60" width="8.91" height="8.88" fill="#767676"/><rect x="466.66" y="61.60" width="8.91" height="8.88" fill="#6c6c6c"/><rect x="475.27" y="61.60" width="8.91" height="8.88" fill="#6a6a6a"/><rect x="483.88" y="61.60" width="8.91" height="8.88" fill="#747474"/><rect x="492.49" y="61.60" width="8.91" height="8.88" fill="#818181"/><rect x="501.10" y="61.60" width="8.91" height="8.88" fill="#818181"/><rect x="406.39" y="70.18" width="8.91" height="8.88" fill="#8b8b8b"/><rect x="415.00" y="70.18" width="8.91" height="8.88" fill="#8b8b8b"/><rect x="423.61" y="70.18" width="8.91" height="8.88" fill="#797979"/><rect x="432.22" y="70.18" width="8.91" height="8.88" fill="#747474"/><rect x="440.83" y="70.18" width="8.91" height="8.88" fill="#797979"/><rect x="449.44" y="70.18" width="8.91" height="8.88" fill="#818181"/><rect x="458.05" y="70.18" width="8.91" height="8.88" fill="#767676"/><rect x="466.66" y="70.18" width="8.91" height="8.88" fill="#6c6c6c"/><rect x="475.27" y="70.18" width="8.91" height="8.88" fill="#747474"/><rect x="483.88" y="70.18" width="8.91" height="8.88" fill="#7e7e7e"/><rect x="492.49" y="70.18" width="8.91" height="8.88" fill="#818181"/><rect x="501.10" y="70.18" width="8.91" height="8.88" fill="#818181"/><rect x="406.39" y="78.76" width="8.91" height="8.88" fill="#8b8b8b"/><rect x="415.00" y="78.76" width="8.91" height="8.88" fill="#8b8b8b"/><rect x="423.61" y="78.76" width="8.91" height="8.88" fill="#838383"/><rect x="432.22" y="78.76" width="8.91" height="8.88" fill="#767676"/><rect x="440.83" y="78.76" width="8.91" height="8.88" fill="#818181"/><rect x="449.44" y="78.76" width="8.91" height="8.88" fill="#818181"/><rect x="458.05" y="78.76" width="8.91" height="8.88" fill="#767676"/><rect x="466.66" y="78.76" width="8.91" height="8.88" fill="#747474"/><rect x="475.27" y="78.76" width="8.91" height="8.88" fill="#747474"/><rect x="483.88" y="78.76" width="8.91" height="8.88" fill="#767676"/><rect x="492.49" y="78.76" width="8.91" height="8.88" fill="#7e7e7e"/><rect x="501.10" y="78.76" width="8.91" height="8.88" fill="#7e7e7e"/><rect x="406.39" y="87.34" width="8.91" height="8.88" fill="#888888"/><rect x="415.00" y="87.34" width="8.91" height="8.88" fill="#888888"/><rect x="423.61" y="87.34" width="8.91" height="8.88" fill="#868686"/><rect x="432.22" y="87.34" width="8.91" height="8.88" fill="#838383"/><rect x="440.83" y="87.34" width="8.91" height="8.88" fill="#838383"/><rect x="449.44" y="87.34" width="8.91" height="8.88" fill="#797979"/><rect x="458.05" y="87.34" width="8.91" height="8.88" fill="#767676"/><rect x="466.66" y="87.34" width="8.91" height="8.88" fill="#7e7e7e"/><rect x="475.27" y="87.34" width="8.91" height="8.88" fill="#767676"/><rect x="483.88" y="87.34" width="8.91" height="8.88" fill="#767676"/><rect x="492.49" y="87.34" width="8.91" height="8.88" fill="#797979"/><rect x="501.10" y="87.34" width="8.91" height="8.88" fill="#797979"/><rect x="406.39" y="95.92" width="8.91" height="8.88" fill="#868686"/><rect x="415.00" y="95.92" width="8.91" height="8.88" fill="#868686"/><rect x="423.61" y="95.92" width="8.91" height="8.88" fill="#888888"/><rect x="432.22" y="95.92" width="8.91" height="8.88" fill="#838383"/><rect x="440.83" y="95.92" width="8.91" height="8.88" fill="#797979"/><rect x="449.44" y="95.92" width="8.91" height="8.88" fill="#818181"/><rect x="458.05" y="95.92" width="8.91" height="8.88" fill="#818181"/><rect x="466.66" y="95.92" width="8.91" height="8.88" fill="#818181"/><rect x="475.27" y="95.92" width="8.91" height="8.88" fill="#747474"/><rect x="483.88" y="95.92" width="8.91" height="8.88" fill="#767676"/><rect x="492.49" y="95.92" width="8.91" height="8.88" fill="#797979"/><rect x="501.10" y="95.92" width="8.91" height="8.88" fill="#797979"/><rect x="406.39" y="104.50" width="8.91" height="8.88" fill="#868686"/><rect x="415.00" y="104.50" width="8.91" height="8.88" fill="#868686"/><rect x="423.61" y="104.50" width="8.91" height="8.88" fill="#888888"/><rect x="432.22" y="104.50" width="8.91" height="8.88" fill="#838383"/><rect x="440.83" y="104.50" width="8.91" height="8.88" fill="#797979"/><rect x="449.44" y="104.50" width="8.91" height="8.88" fill="#818181"/><rect x="458.05" y="104.50" width="8.91" height="8.88" fill="#818181"/><rect x="466.66" y="104.50" width="8.91" height="8.88" fill="#818181"/><rect x="475.27" y="104.50" width="8.91" height="8.88" fill="#747474"/><rect x="483.88" y="104.50" width="8.91" height="8.88" fill="#767676"/><rect x="492.49" y="104.50" width="8.91" height="8.88" fill="#797979"/><rect x="501.10" y="104.50" width="8.91" height="8.88" fill="#797979"/></g></g></g></g>
<path d="M453.9 143.0v-2.9" stroke="#c07820" stroke-width="0.73" opacity="0.65"/><path d="M457.6 146.2v-2.4" stroke="#c07820" stroke-width="0.99" opacity="0.65"/><path d="M442.1 146.7v-2.3" stroke="#a05c10" stroke-width="1.12" opacity="0.65"/><path d="M458.8 148.3v-1.0" stroke="#b06818" stroke-width="0.78" opacity="0.65"/><path d="M445.6 148.3v-1.6" stroke="#8a9a20" stroke-width="0.81" opacity="0.65"/><path d="M436.5 149.5v-2.5" stroke="#a05c10" stroke-width="1.13" opacity="0.65"/><path d="M462.3 150.1v-2.1" stroke="#8a9a20" stroke-width="0.95" opacity="0.65"/><path d="M459.4 150.2v-1.5" stroke="#b06818" stroke-width="0.80" opacity="0.65"/><path d="M449.9 150.8v-1.1" stroke="#3a8a20" stroke-width="1.03" opacity="0.65"/><path d="M438.0 151.2v-3.9" stroke="#c07820" stroke-width="0.98" opacity="0.65"/><path d="M466.3 151.2v-1.2" stroke="#b08a20" stroke-width="1.05" opacity="0.65"/><path d="M445.2 151.3v-1.2" stroke="#c07820" stroke-width="0.87" opacity="0.65"/><path d="M455.0 151.3v-1.2" stroke="#3a8a20" stroke-width="0.99" opacity="0.65"/><path d="M434.2 151.7v-1.9" stroke="#c07820" stroke-width="0.89" opacity="0.65"/><path d="M453.4 152.2v-3.7" stroke="#c07820" stroke-width="1.11" opacity="0.65"/><path d="M470.7 152.2v-1.0" stroke="#a05c10" stroke-width="1.15" opacity="0.65"/><path d="M442.7 152.4v-1.1" stroke="#3a8a20" stroke-width="1.13" opacity="0.65"/><path d="M446.9 152.4v-2.5" stroke="#b06818" stroke-width="0.94" opacity="0.65"/><path d="M457.6 153.1v-3.3" stroke="#b08a20" stroke-width="0.75" opacity="0.65"/><path d="M441.7 153.5v-2.9" stroke="#c07820" stroke-width="0.91" opacity="0.65"/><path d="M454.9 153.6v-1.5" stroke="#3a8a20" stroke-width="1.05" opacity="0.65"/><path d="M427.8 153.7v-2.0" stroke="#c07820" stroke-width="0.92" opacity="0.65"/><path d="M453.3 153.8v-1.0" stroke="#c07820" stroke-width="0.85" opacity="0.65"/><path d="M428.3 154.1v-1.7" stroke="#c07820" stroke-width="0.85" opacity="0.65"/><path d="M445.7 154.4v-1.9" stroke="#c07820" stroke-width="0.82" opacity="0.65"/><path d="M451.2 154.9v-1.9" stroke="#b06818" stroke-width="1.07" opacity="0.65"/><path d="M449.4 155.0v-1.9" stroke="#3a8a20" stroke-width="1.07" opacity="0.65"/><path d="M438.2 155.6v-1.3" stroke="#8a9a20" stroke-width="0.80" opacity="0.65"/><path d="M440.1 156.1v-3.8" stroke="#a05c10" stroke-width="0.97" opacity="0.65"/><path d="M449.9 156.5v-1.3" stroke="#b08a20" stroke-width="0.75" opacity="0.65"/><path d="M447.2 156.9v-1.2" stroke="#3a8a20" stroke-width="0.88" opacity="0.65"/><path d="M442.0 157.1v-1.3" stroke="#c07820" stroke-width="0.77" opacity="0.65"/><path d="M464.3 157.6v-3.2" stroke="#8a9a20" stroke-width="0.72" opacity="0.65"/><path d="M434.5 157.8v-1.0" stroke="#b06818" stroke-width="1.08" opacity="0.65"/><path d="M439.5 158.1v-1.0" stroke="#c07820" stroke-width="1.12" opacity="0.65"/><path d="M466.0 158.1v-3.3" stroke="#3a8a20" stroke-width="1.08" opacity="0.65"/><path d="M477.2 158.3v-2.2" stroke="#3a8a20" stroke-width="0.80" opacity="0.65"/><path d="M477.2 158.4v-2.2" stroke="#3a8a20" stroke-width="1.14" opacity="0.65"/><path d="M442.9 158.5v-1.4" stroke="#a05c10" stroke-width="0.78" opacity="0.65"/><path d="M419.3 159.1v-1.0" stroke="#b06818" stroke-width="0.87" opacity="0.65"/><path d="M458.5 159.1v-1.0" stroke="#b06818" stroke-width="0.95" opacity="0.65"/><path d="M464.6 159.4v-1.8" stroke="#a05c10" stroke-width="0.77" opacity="0.65"/><path d="M473.1 160.2v-1.4" stroke="#b06818" stroke-width="1.01" opacity="0.65"/><path d="M479.3 160.4v-3.9" stroke="#c07820" stroke-width="0.85" opacity="0.65"/><path d="M480.8 160.6v-2.1" stroke="#b06818" stroke-width="0.97" opacity="0.65"/><path d="M484.3 161.0v-1.1" stroke="#8a9a20" stroke-width="0.75" opacity="0.65"/><path d="M479.9 161.1v-1.1" stroke="#a05c10" stroke-width="1.05" opacity="0.65"/><path d="M428.4 161.1v-1.9" stroke="#c07820" stroke-width="0.90" opacity="0.65"/><path d="M484.8 161.4v-2.7" stroke="#8a9a20" stroke-width="0.97" opacity="0.65"/><path d="M457.5 161.5v-1.0" stroke="#8a9a20" stroke-width="0.88" opacity="0.65"/><path d="M476.6 161.7v-2.3" stroke="#b06818" stroke-width="0.91" opacity="0.65"/><path d="M444.2 161.8v-1.8" stroke="#a05c10" stroke-width="1.11" opacity="0.65"/><path d="M437.4 162.7v-1.3" stroke="#c07820" stroke-width="0.85" opacity="0.65"/><path d="M472.2 163.2v-1.1" stroke="#3a8a20" stroke-width="0.90" opacity="0.65"/><path d="M420.5 163.9v-1.0" stroke="#8a9a20" stroke-width="1.06" opacity="0.65"/><path d="M482.8 164.0v-2.0" stroke="#a05c10" stroke-width="0.87" opacity="0.65"/><path d="M443.9 164.1v-1.0" stroke="#b08a20" stroke-width="0.74" opacity="0.65"/><path d="M457.3 164.2v-3.2" stroke="#c07820" stroke-width="1.08" opacity="0.65"/><path d="M423.9 164.3v-1.2" stroke="#3a8a20" stroke-width="1.03" opacity="0.65"/><path d="M473.0 164.4v-1.4" stroke="#a05c10" stroke-width="0.80" opacity="0.65"/><path d="M462.9 165.0v-1.2" stroke="#c07820" stroke-width="0.86" opacity="0.65"/><path d="M439.5 165.1v-1.0" stroke="#8a9a20" stroke-width="1.08" opacity="0.65"/><path d="M437.2 165.2v-3.6" stroke="#c07820" stroke-width="0.91" opacity="0.65"/><path d="M459.1 165.2v-3.5" stroke="#c07820" stroke-width="0.78" opacity="0.65"/><path d="M430.4 165.2v-1.7" stroke="#8a9a20" stroke-width="1.09" opacity="0.65"/><path d="M409.9 165.7v-3.6" stroke="#8a9a20" stroke-width="1.06" opacity="0.65"/><path d="M462.9 165.8v-1.2" stroke="#b08a20" stroke-width="0.87" opacity="0.65"/><path d="M445.9 166.5v-2.2" stroke="#b06818" stroke-width="1.16" opacity="0.65"/><path d="M462.3 166.5v-1.7" stroke="#c07820" stroke-width="0.76" opacity="0.65"/><path d="M481.7 166.8v-3.8" stroke="#a05c10" stroke-width="0.88" opacity="0.65"/><path d="M409.7 167.6v-1.4" stroke="#b06818" stroke-width="0.79" opacity="0.65"/><path d="M463.5 167.6v-1.0" stroke="#8a9a20" stroke-width="0.81" opacity="0.65"/><path d="M445.4 167.7v-1.5" stroke="#a05c10" stroke-width="0.99" opacity="0.65"/><path d="M457.3 167.7v-1.0" stroke="#b08a20" stroke-width="0.95" opacity="0.65"/><path d="M427.4 167.8v-1.0" stroke="#8a9a20" stroke-width="1.00" opacity="0.65"/><path d="M462.5 167.8v-3.4" stroke="#3a8a20" stroke-width="0.90" opacity="0.65"/><path d="M430.8 167.8v-2.5" stroke="#3a8a20" stroke-width="0.80" opacity="0.65"/><path d="M425.2 167.9v-1.7" stroke="#a05c10" stroke-width="0.97" opacity="0.65"/><path d="M468.5 168.0v-1.0" stroke="#b08a20" stroke-width="1.13" opacity="0.65"/><path d="M418.9 168.1v-2.6" stroke="#8a9a20" stroke-width="0.77" opacity="0.65"/><path d="M487.2 168.3v-1.1" stroke="#a05c10" stroke-width="1.02" opacity="0.65"/><path d="M429.6 168.3v-3.2" stroke="#c07820" stroke-width="0.80" opacity="0.65"/><path d="M419.0 168.4v-3.8" stroke="#a05c10" stroke-width="0.86" opacity="0.65"/><path d="M447.0 168.4v-2.8" stroke="#a05c10" stroke-width="0.81" opacity="0.65"/><path d="M440.8 168.5v-1.0" stroke="#8a9a20" stroke-width="1.11" opacity="0.65"/><path d="M455.3 168.7v-3.6" stroke="#c07820" stroke-width="0.88" opacity="0.65"/><path d="M468.3 169.1v-1.2" stroke="#b08a20" stroke-width="1.08" opacity="0.65"/><path d="M411.4 169.1v-1.2" stroke="#a05c10" stroke-width="1.12" opacity="0.65"/><path d="M419.4 169.6v-1.5" stroke="#b06818" stroke-width="0.92" opacity="0.65"/><path d="M431.5 169.7v-1.0" stroke="#a05c10" stroke-width="0.83" opacity="0.65"/><path d="M476.3 169.7v-3.0" stroke="#b08a20" stroke-width="1.16" opacity="0.65"/><path d="M495.0 169.8v-2.0" stroke="#3a8a20" stroke-width="0.77" opacity="0.65"/><path d="M446.8 170.1v-1.5" stroke="#b06818" stroke-width="1.08" opacity="0.65"/><path d="M460.1 170.1v-3.2" stroke="#8a9a20" stroke-width="0.96" opacity="0.65"/><path d="M464.2 170.6v-1.0" stroke="#3a8a20" stroke-width="1.05" opacity="0.65"/><path d="M406.5 170.8v-2.4" stroke="#c07820" stroke-width="1.02" opacity="0.65"/><path d="M483.0 171.0v-1.1" stroke="#a05c10" stroke-width="1.16" opacity="0.65"/><path d="M435.3 171.2v-1.0" stroke="#8a9a20" stroke-width="0.77" opacity="0.65"/><path d="M408.0 171.2v-1.1" stroke="#a05c10" stroke-width="1.10" opacity="0.65"/><path d="M430.5 171.7v-1.0" stroke="#b08a20" stroke-width="0.88" opacity="0.65"/><path d="M446.4 171.8v-2.3" stroke="#b08a20" stroke-width="1.10" opacity="0.65"/><path d="M452.3 172.0v-1.2" stroke="#8a9a20" stroke-width="0.85" opacity="0.65"/><path d="M431.6 172.1v-1.0" stroke="#c07820" stroke-width="1.09" opacity="0.65"/><path d="M425.1 172.6v-1.0" stroke="#b08a20" stroke-width="0.98" opacity="0.65"/><path d="M471.4 172.6v-2.5" stroke="#c07820" stroke-width="0.88" opacity="0.65"/><path d="M484.9 172.6v-1.5" stroke="#b08a20" stroke-width="1.00" opacity="0.65"/><path d="M442.4 172.8v-2.3" stroke="#b06818" stroke-width="1.02" opacity="0.65"/><path d="M423.8 172.9v-1.2" stroke="#b06818" stroke-width="0.85" opacity="0.65"/><path d="M401.8 173.0v-3.3" stroke="#c07820" stroke-width="0.74" opacity="0.65"/><path d="M472.8 173.0v-2.2" stroke="#a05c10" stroke-width="1.10" opacity="0.65"/><path d="M479.7 173.2v-1.1" stroke="#a05c10" stroke-width="0.77" opacity="0.65"/><path d="M408.2 173.3v-2.5" stroke="#3a8a20" stroke-width="0.98" opacity="0.65"/><path d="M449.8 174.0v-3.1" stroke="#3a8a20" stroke-width="0.89" opacity="0.65"/><path d="M419.4 174.3v-1.1" stroke="#8a9a20" stroke-width="0.80" opacity="0.65"/><path d="M472.7 174.3v-1.3" stroke="#a05c10" stroke-width="0.80" opacity="0.65"/><path d="M418.9 174.4v-3.5" stroke="#c07820" stroke-width="0.79" opacity="0.65"/><path d="M442.0 174.5v-2.8" stroke="#b08a20" stroke-width="0.81" opacity="0.65"/><path d="M451.8 174.6v-1.6" stroke="#b06818" stroke-width="0.90" opacity="0.65"/><path d="M471.4 174.9v-2.9" stroke="#c07820" stroke-width="1.14" opacity="0.65"/><path d="M435.7 174.9v-1.2" stroke="#c07820" stroke-width="1.05" opacity="0.65"/><path d="M451.4 175.0v-1.7" stroke="#b08a20" stroke-width="1.09" opacity="0.65"/><path d="M407.1 175.0v-1.8" stroke="#b06818" stroke-width="1.00" opacity="0.65"/><path d="M401.6 175.0v-1.6" stroke="#c07820" stroke-width="0.80" opacity="0.65"/><path d="M492.9 175.1v-2.8" stroke="#b06818" stroke-width="1.05" opacity="0.65"/><path d="M495.2 175.4v-1.2" stroke="#8a9a20" stroke-width="0.97" opacity="0.65"/><path d="M434.0 175.4v-1.3" stroke="#b08a20" stroke-width="0.96" opacity="0.65"/><path d="M452.8 175.5v-1.9" stroke="#c07820" stroke-width="0.82" opacity="0.65"/><path d="M406.4 175.8v-2.6" stroke="#c07820" stroke-width="1.00" opacity="0.65"/><path d="M418.7 175.9v-1.1" stroke="#8a9a20" stroke-width="1.10" opacity="0.65"/><path d="M452.5 175.9v-3.7" stroke="#3a8a20" stroke-width="0.84" opacity="0.65"/><path d="M477.3 175.9v-1.7" stroke="#b06818" stroke-width="1.01" opacity="0.65"/><path d="M419.9 176.2v-2.9" stroke="#a05c10" stroke-width="0.78" opacity="0.65"/><path d="M439.6 176.2v-1.2" stroke="#c07820" stroke-width="0.97" opacity="0.65"/><path d="M432.6 176.7v-1.6" stroke="#b06818" stroke-width="0.83" opacity="0.65"/><path d="M403.3 176.9v-3.3" stroke="#b06818" stroke-width="1.10" opacity="0.65"/><path d="M406.4 177.0v-1.4" stroke="#c07820" stroke-width="1.16" opacity="0.65"/><path d="M504.5 178.2v-1.7" stroke="#3a8a20" stroke-width="0.96" opacity="0.65"/><path d="M453.7 178.2v-1.6" stroke="#3a8a20" stroke-width="0.93" opacity="0.65"/><path d="M466.4 178.3v-3.8" stroke="#c07820" stroke-width="0.95" opacity="0.65"/><path d="M411.3 178.5v-1.5" stroke="#a05c10" stroke-width="0.76" opacity="0.65"/><path d="M481.8 178.5v-1.1" stroke="#c07820" stroke-width="0.81" opacity="0.65"/><path d="M400.4 178.6v-2.3" stroke="#c07820" stroke-width="0.85" opacity="0.65"/><path d="M461.0 178.8v-1.5" stroke="#8a9a20" stroke-width="1.05" opacity="0.65"/><path d="M400.9 178.8v-1.4" stroke="#b08a20" stroke-width="0.73" opacity="0.65"/><path d="M420.0 179.0v-1.4" stroke="#a05c10" stroke-width="0.80" opacity="0.65"/><path d="M503.1 179.1v-1.5" stroke="#3a8a20" stroke-width="1.09" opacity="0.65"/><path d="M450.8 179.3v-1.2" stroke="#c07820" stroke-width="0.73" opacity="0.65"/><path d="M466.6 179.5v-1.9" stroke="#8a9a20" stroke-width="0.88" opacity="0.65"/><path d="M501.8 179.6v-2.0" stroke="#a05c10" stroke-width="1.15" opacity="0.65"/><path d="M501.8 179.8v-1.0" stroke="#c07820" stroke-width="0.99" opacity="0.65"/><path d="M431.5 179.8v-1.0" stroke="#8a9a20" stroke-width="0.99" opacity="0.65"/><path d="M430.0 179.8v-1.3" stroke="#b06818" stroke-width="0.76" opacity="0.65"/><path d="M424.8 180.0v-3.0" stroke="#8a9a20" stroke-width="0.81" opacity="0.65"/><path d="M463.6 180.1v-1.5" stroke="#a05c10" stroke-width="0.84" opacity="0.65"/><path d="M424.3 180.3v-3.0" stroke="#b08a20" stroke-width="0.81" opacity="0.65"/><path d="M502.1 180.5v-1.0" stroke="#a05c10" stroke-width="0.97" opacity="0.65"/><path d="M471.0 180.5v-4.0" stroke="#3a8a20" stroke-width="0.80" opacity="0.65"/><path d="M487.2 180.7v-1.0" stroke="#3a8a20" stroke-width="1.10" opacity="0.65"/><path d="M459.1 181.0v-1.0" stroke="#b08a20" stroke-width="0.81" opacity="0.65"/><path d="M439.2 181.0v-1.0" stroke="#a05c10" stroke-width="1.02" opacity="0.65"/><path d="M446.8 181.1v-1.0" stroke="#a05c10" stroke-width="0.96" opacity="0.65"/><path d="M436.1 181.1v-3.8" stroke="#b08a20" stroke-width="0.97" opacity="0.65"/><path d="M460.5 181.4v-1.3" stroke="#a05c10" stroke-width="1.09" opacity="0.65"/><path d="M507.6 181.7v-1.0" stroke="#b06818" stroke-width="0.92" opacity="0.65"/><path d="M456.3 182.2v-1.1" stroke="#8a9a20" stroke-width="1.06" opacity="0.65"/><path d="M462.8 182.2v-1.3" stroke="#c07820" stroke-width="0.88" opacity="0.65"/><path d="M395.8 182.2v-3.4" stroke="#b06818" stroke-width="0.75" opacity="0.65"/><path d="M424.3 182.3v-1.0" stroke="#a05c10" stroke-width="0.80" opacity="0.65"/><path d="M467.8 182.5v-1.1" stroke="#b06818" stroke-width="0.81" opacity="0.65"/><path d="M492.7 182.5v-1.2" stroke="#3a8a20" stroke-width="0.73" opacity="0.65"/><path d="M496.6 182.5v-1.7" stroke="#b08a20" stroke-width="1.15" opacity="0.65"/><path d="M486.9 183.2v-1.3" stroke="#8a9a20" stroke-width="0.81" opacity="0.65"/><path d="M408.3 183.5v-2.3" stroke="#3a8a20" stroke-width="0.97" opacity="0.65"/><path d="M470.0 183.7v-1.6" stroke="#3a8a20" stroke-width="1.17" opacity="0.65"/><path d="M504.4 183.8v-1.1" stroke="#c07820" stroke-width="1.10" opacity="0.65"/><path d="M483.2 184.3v-2.9" stroke="#a05c10" stroke-width="0.79" opacity="0.65"/><path d="M450.0 184.5v-3.3" stroke="#c07820" stroke-width="0.78" opacity="0.65"/><path d="M499.6 184.6v-2.5" stroke="#a05c10" stroke-width="0.89" opacity="0.65"/><path d="M478.9 184.8v-1.3" stroke="#b08a20" stroke-width="0.96" opacity="0.65"/><path d="M417.0 185.4v-1.3" stroke="#c07820" stroke-width="0.83" opacity="0.65"/><path d="M433.6 185.4v-1.8" stroke="#3a8a20" stroke-width="1.03" opacity="0.65"/><path d="M464.0 185.5v-2.0" stroke="#b08a20" stroke-width="0.92" opacity="0.65"/><path d="M481.5 185.5v-3.6" stroke="#8a9a20" stroke-width="0.97" opacity="0.65"/><path d="M476.2 185.7v-1.1" stroke="#a05c10" stroke-width="0.73" opacity="0.65"/><path d="M471.2 186.1v-1.1" stroke="#8a9a20" stroke-width="0.79" opacity="0.65"/><path d="M451.3 186.3v-1.0" stroke="#3a8a20" stroke-width="1.15" opacity="0.65"/><path d="M444.2 186.6v-1.9" stroke="#c07820" stroke-width="0.81" opacity="0.65"/><path d="M411.1 186.6v-2.1" stroke="#c07820" stroke-width="0.93" opacity="0.65"/><path d="M417.1 186.7v-2.3" stroke="#b08a20" stroke-width="0.86" opacity="0.65"/><path d="M418.0 186.9v-1.0" stroke="#a05c10" stroke-width="1.15" opacity="0.65"/><path d="M493.8 187.5v-1.8" stroke="#8a9a20" stroke-width="0.94" opacity="0.65"/><path d="M472.2 187.6v-2.3" stroke="#b06818" stroke-width="0.96" opacity="0.65"/><path d="M483.8 187.7v-1.1" stroke="#b06818" stroke-width="0.84" opacity="0.65"/><path d="M444.8 187.8v-1.0" stroke="#b08a20" stroke-width="1.05" opacity="0.65"/><path d="M494.5 187.8v-1.0" stroke="#b08a20" stroke-width="0.79" opacity="0.65"/><path d="M412.6 188.0v-2.3" stroke="#c07820" stroke-width="0.80" opacity="0.65"/><path d="M464.6 188.1v-1.2" stroke="#8a9a20" stroke-width="0.99" opacity="0.65"/><path d="M503.5 188.3v-2.1" stroke="#3a8a20" stroke-width="0.96" opacity="0.65"/><path d="M456.2 188.4v-3.4" stroke="#3a8a20" stroke-width="0.81" opacity="0.65"/><path d="M426.8 188.4v-1.4" stroke="#a05c10" stroke-width="1.03" opacity="0.65"/><path d="M403.5 188.5v-3.9" stroke="#a05c10" stroke-width="1.03" opacity="0.65"/><path d="M443.1 188.6v-1.1" stroke="#b08a20" stroke-width="1.04" opacity="0.65"/><path d="M466.1 188.6v-3.2" stroke="#a05c10" stroke-width="1.16" opacity="0.65"/><path d="M499.7 188.7v-1.1" stroke="#c07820" stroke-width="1.17" opacity="0.65"/><path d="M465.9 188.7v-1.3" stroke="#a05c10" stroke-width="0.88" opacity="0.65"/><path d="M436.1 188.7v-1.4" stroke="#a05c10" stroke-width="0.75" opacity="0.65"/><path d="M425.6 188.8v-1.0" stroke="#3a8a20" stroke-width="1.06" opacity="0.65"/><path d="M480.1 188.9v-2.3" stroke="#8a9a20" stroke-width="1.11" opacity="0.65"/><path d="M439.9 188.9v-3.5" stroke="#8a9a20" stroke-width="0.94" opacity="0.65"/><path d="M495.4 189.0v-3.7" stroke="#a05c10" stroke-width="1.16" opacity="0.65"/><path d="M451.7 189.3v-1.0" stroke="#b08a20" stroke-width="1.09" opacity="0.65"/><path d="M500.1 189.4v-2.9" stroke="#c07820" stroke-width="0.76" opacity="0.65"/><path d="M404.8 189.5v-2.9" stroke="#b08a20" stroke-width="1.14" opacity="0.65"/><path d="M438.0 189.6v-3.3" stroke="#c07820" stroke-width="1.00" opacity="0.65"/><path d="M423.8 189.6v-1.4" stroke="#8a9a20" stroke-width="0.93" opacity="0.65"/><path d="M414.7 189.8v-1.4" stroke="#b08a20" stroke-width="1.08" opacity="0.65"/><path d="M405.9 189.8v-1.0" stroke="#c07820" stroke-width="0.80" opacity="0.65"/><path d="M466.9 189.8v-3.0" stroke="#b06818" stroke-width="0.76" opacity="0.65"/><path d="M412.1 189.9v-1.5" stroke="#8a9a20" stroke-width="1.16" opacity="0.65"/><path d="M419.7 189.9v-2.2" stroke="#c07820" stroke-width="1.13" opacity="0.65"/><path d="M418.3 190.0v-3.0" stroke="#a05c10" stroke-width="1.12" opacity="0.65"/><path d="M450.3 190.0v-1.0" stroke="#8a9a20" stroke-width="1.13" opacity="0.65"/><path d="M492.8 190.1v-2.8" stroke="#3a8a20" stroke-width="1.07" opacity="0.65"/><path d="M448.7 190.2v-1.0" stroke="#b06818" stroke-width="0.73" opacity="0.65"/><path d="M451.5 190.2v-1.2" stroke="#b08a20" stroke-width="0.99" opacity="0.65"/><path d="M435.3 190.2v-2.0" stroke="#b08a20" stroke-width="0.94" opacity="0.65"/><path d="M477.0 190.4v-2.3" stroke="#b08a20" stroke-width="0.98" opacity="0.65"/><path d="M426.3 190.5v-2.2" stroke="#8a9a20" stroke-width="0.93" opacity="0.65"/><path d="M492.7 191.2v-1.0" stroke="#b08a20" stroke-width="1.14" opacity="0.65"/><path d="M480.4 191.2v-1.1" stroke="#a05c10" stroke-width="0.88" opacity="0.65"/><path d="M468.2 191.8v-1.7" stroke="#b08a20" stroke-width="1.14" opacity="0.65"/><path d="M438.5 191.9v-1.1" stroke="#3a8a20" stroke-width="0.81" opacity="0.65"/><path d="M407.9 192.4v-1.2" stroke="#b06818" stroke-width="1.10" opacity="0.65"/><path d="M415.7 193.3v-1.2" stroke="#8a9a20" stroke-width="0.92" opacity="0.65"/><path d="M425.8 193.3v-1.1" stroke="#a05c10" stroke-width="0.94" opacity="0.65"/><path d="M451.1 193.9v-3.1" stroke="#c07820" stroke-width="1.09" opacity="0.65"/><path d="M450.9 193.9v-1.5" stroke="#b06818" stroke-width="1.13" opacity="0.65"/><path d="M434.9 194.2v-3.4" stroke="#b06818" stroke-width="0.93" opacity="0.65"/><path d="M426.7 194.4v-3.1" stroke="#3a8a20" stroke-width="1.07" opacity="0.65"/><path d="M438.9 194.4v-1.3" stroke="#3a8a20" stroke-width="1.00" opacity="0.65"/><path d="M448.2 194.6v-2.5" stroke="#b06818" stroke-width="0.88" opacity="0.65"/><path d="M457.0 194.8v-1.0" stroke="#a05c10" stroke-width="1.05" opacity="0.65"/><path d="M466.5 194.9v-1.5" stroke="#b06818" stroke-width="0.82" opacity="0.65"/><path d="M414.3 195.0v-3.8" stroke="#b08a20" stroke-width="1.16" opacity="0.65"/><path d="M449.1 195.3v-1.5" stroke="#a05c10" stroke-width="0.79" opacity="0.65"/><path d="M420.6 196.3v-3.5" stroke="#3a8a20" stroke-width="1.09" opacity="0.65"/><path d="M446.2 196.8v-1.8" stroke="#a05c10" stroke-width="1.12" opacity="0.65"/><path d="M480.1 196.9v-1.2" stroke="#3a8a20" stroke-width="0.88" opacity="0.65"/><path d="M435.8 196.9v-1.6" stroke="#b06818" stroke-width="0.99" opacity="0.65"/><path d="M491.8 197.4v-1.5" stroke="#a05c10" stroke-width="1.12" opacity="0.65"/><path d="M488.8 197.9v-1.1" stroke="#c07820" stroke-width="0.84" opacity="0.65"/><path d="M448.4 198.1v-1.0" stroke="#8a9a20" stroke-width="0.79" opacity="0.65"/><path d="M467.0 198.5v-1.1" stroke="#c07820" stroke-width="0.94" opacity="0.65"/><path d="M447.3 198.6v-1.6" stroke="#8a9a20" stroke-width="0.93" opacity="0.65"/><path d="M434.1 198.7v-1.5" stroke="#b06818" stroke-width="1.07" opacity="0.65"/><path d="M468.3 199.1v-3.6" stroke="#b06818" stroke-width="0.90" opacity="0.65"/><path d="M477.7 199.2v-1.9" stroke="#3a8a20" stroke-width="1.15" opacity="0.65"/><path d="M486.1 199.6v-1.6" stroke="#8a9a20" stroke-width="0.89" opacity="0.65"/><path d="M475.7 199.7v-1.9" stroke="#a05c10" stroke-width="1.12" opacity="0.65"/><path d="M443.6 199.7v-1.0" stroke="#c07820" stroke-width="1.10" opacity="0.65"/><path d="M479.1 200.6v-1.5" stroke="#b06818" stroke-width="0.82" opacity="0.65"/><path d="M420.5 200.7v-3.4" stroke="#c07820" stroke-width="1.02" opacity="0.65"/><path d="M461.9 200.7v-2.9" stroke="#b08a20" stroke-width="0.93" opacity="0.65"/><path d="M460.5 200.9v-3.2" stroke="#a05c10" stroke-width="0.74" opacity="0.65"/><path d="M466.5 201.4v-3.8" stroke="#8a9a20" stroke-width="1.07" opacity="0.65"/><path d="M452.4 201.6v-1.9" stroke="#c07820" stroke-width="0.88" opacity="0.65"/><path d="M423.0 201.8v-1.5" stroke="#b08a20" stroke-width="0.82" opacity="0.65"/><path d="M439.1 202.0v-4.0" stroke="#c07820" stroke-width="0.84" opacity="0.65"/><path d="M465.0 202.2v-1.3" stroke="#3a8a20" stroke-width="0.73" opacity="0.65"/><path d="M424.5 202.3v-1.7" stroke="#8a9a20" stroke-width="1.15" opacity="0.65"/><path d="M437.7 202.6v-2.3" stroke="#b06818" stroke-width="1.08" opacity="0.65"/><path d="M465.9 202.8v-2.6" stroke="#c07820" stroke-width="1.12" opacity="0.65"/><path d="M457.7 203.2v-1.7" stroke="#8a9a20" stroke-width="1.10" opacity="0.65"/><path d="M479.9 203.4v-3.8" stroke="#b08a20" stroke-width="0.92" opacity="0.65"/><path d="M429.4 204.4v-1.0" stroke="#a05c10" stroke-width="1.01" opacity="0.65"/><path d="M462.9 204.6v-2.0" stroke="#c07820" stroke-width="0.98" opacity="0.65"/><path d="M422.6 205.7v-1.0" stroke="#c07820" stroke-width="0.86" opacity="0.65"/><path d="M454.0 206.0v-2.5" stroke="#b06818" stroke-width="0.94" opacity="0.65"/><path d="M434.1 206.2v-1.0" stroke="#b06818" stroke-width="0.89" opacity="0.65"/><path d="M460.2 206.2v-1.1" stroke="#3a8a20" stroke-width="0.98" opacity="0.65"/><path d="M453.6 206.4v-1.1" stroke="#a05c10" stroke-width="0.84" opacity="0.65"/><path d="M453.3 207.1v-1.0" stroke="#b06818" stroke-width="0.90" opacity="0.65"/><path d="M480.1 207.1v-1.0" stroke="#8a9a20" stroke-width="0.84" opacity="0.65"/><path d="M428.2 207.2v-1.3" stroke="#b06818" stroke-width="1.09" opacity="0.65"/><path d="M459.0 207.6v-1.5" stroke="#a05c10" stroke-width="1.07" opacity="0.65"/><path d="M452.0 207.8v-2.2" stroke="#8a9a20" stroke-width="0.79" opacity="0.65"/><path d="M462.3 209.0v-1.2" stroke="#b06818" stroke-width="0.80" opacity="0.65"/><path d="M436.5 209.2v-1.4" stroke="#c07820" stroke-width="1.13" opacity="0.65"/><path d="M426.6 209.2v-3.7" stroke="#a05c10" stroke-width="1.12" opacity="0.65"/><path d="M456.0 209.5v-3.8" stroke="#3a8a20" stroke-width="0.89" opacity="0.65"/><path d="M459.5 209.7v-1.8" stroke="#b06818" stroke-width="1.02" opacity="0.65"/><path d="M446.4 210.1v-1.0" stroke="#c07820" stroke-width="0.88" opacity="0.65"/><path d="M460.2 210.3v-2.4" stroke="#a05c10" stroke-width="1.14" opacity="0.65"/><path d="M449.0 211.0v-1.2" stroke="#c07820" stroke-width="0.85" opacity="0.65"/><path d="M441.8 211.4v-3.5" stroke="#a05c10" stroke-width="0.81" opacity="0.65"/><path d="M447.6 212.3v-3.1" stroke="#c07820" stroke-width="0.77" opacity="0.65"/><path d="M440.4 212.8v-1.4" stroke="#b06818" stroke-width="1.14" opacity="0.65"/><path d="M476.8 213.0v-1.4" stroke="#b08a20" stroke-width="0.75" opacity="0.65"/><path d="M456.5 213.9v-2.5" stroke="#c07820" stroke-width="0.79" opacity="0.65"/><path d="M444.3 214.1v-2.1" stroke="#b08a20" stroke-width="1.01" opacity="0.65"/><path d="M464.2 214.3v-2.3" stroke="#a05c10" stroke-width="0.87" opacity="0.65"/><path d="M470.6 214.4v-2.6" stroke="#8a9a20" stroke-width="0.86" opacity="0.65"/><path d="M449.0 214.7v-1.4" stroke="#8a9a20" stroke-width="0.98" opacity="0.65"/><path d="M460.0 214.8v-1.9" stroke="#b08a20" stroke-width="0.86" opacity="0.65"/><path d="M437.9 215.1v-3.6" stroke="#b06818" stroke-width="0.92" opacity="0.65"/><path d="M456.7 215.5v-3.7" stroke="#3a8a20" stroke-width="1.13" opacity="0.65"/><path d="M436.3 215.6v-1.8" stroke="#a05c10" stroke-width="0.97" opacity="0.65"/><path d="M472.9 216.0v-1.4" stroke="#3a8a20" stroke-width="0.92" opacity="0.65"/><path d="M446.8 219.6v-1.5" stroke="#b08a20" stroke-width="0.76" opacity="0.65"/><path d="M446.6 219.7v-1.1" stroke="#8a9a20" stroke-width="0.80" opacity="0.65"/><path d="M467.3 219.8v-1.4" stroke="#b08a20" stroke-width="1.10" opacity="0.65"/><path d="M467.7 221.2v-1.3" stroke="#c07820" stroke-width="1.09" opacity="0.65"/><path d="M451.0 221.8v-1.6" stroke="#b08a20" stroke-width="1.16" opacity="0.65"/><path d="M462.7 222.1v-2.6" stroke="#b08a20" stroke-width="0.84" opacity="0.65"/><path d="M448.2 222.2v-3.5" stroke="#b06818" stroke-width="1.00" opacity="0.65"/><path d="M443.9 222.7v-1.1" stroke="#c07820" stroke-width="1.02" opacity="0.65"/><path d="M461.9 223.6v-1.0" stroke="#b08a20" stroke-width="0.83" opacity="0.65"/><path d="M452.2 224.4v-1.0" stroke="#3a8a20" stroke-width="0.88" opacity="0.65"/><path d="M456.2 228.8v-2.9" stroke="#3a8a20" stroke-width="0.90" opacity="0.65"/><path d="M457.6 229.7v-1.3" stroke="#b06818" stroke-width="1.05" opacity="0.65"/>
<text x="377.30" y="141.30" font-family="Liberation Serif, serif" stroke="#222" stroke-width="0.18" font-size="13" fill="#222">(f)</text>
<rect x="518.00" y="150.00" width="7.00" height="94.80" fill="url(#cbg)" stroke="#666" stroke-width="0.9"/>
<path d="M525.00 161.80h2.2M525.00 178.22h2.2M525.00 194.64h2.2M525.00 211.06h2.2M525.00 227.48h2.2M525.00 243.90h2.2M525.00 157.70h1.3M525.00 153.59h1.3M525.00 165.91h1.3M525.00 170.01h1.3M525.00 174.12h1.3M525.00 182.32h1.3M525.00 186.43h1.3M525.00 190.53h1.3M525.00 198.75h1.3M525.00 202.85h1.3M525.00 206.96h1.3M525.00 215.16h1.3M525.00 219.27h1.3M525.00 223.38h1.3M525.00 231.59h1.3M525.00 235.69h1.3M525.00 239.80h1.3" stroke="#333" stroke-width="0.8"/>
<g font-family="Liberation Serif, serif" stroke="#222" stroke-width="0.18" font-size="9.2" fill="#222">
<text x="533.60" y="165.00">100</text>
<text x="533.60" y="181.42">80</text>
<text x="533.60" y="197.84">60</text>
<text x="533.60" y="214.26">40</text>
<text x="533.60" y="230.68">20</text>
<text x="533.60" y="247.10">0</text>
<text x="530.90" y="142.50">µm</text>
</g>
</svg></body></html>
